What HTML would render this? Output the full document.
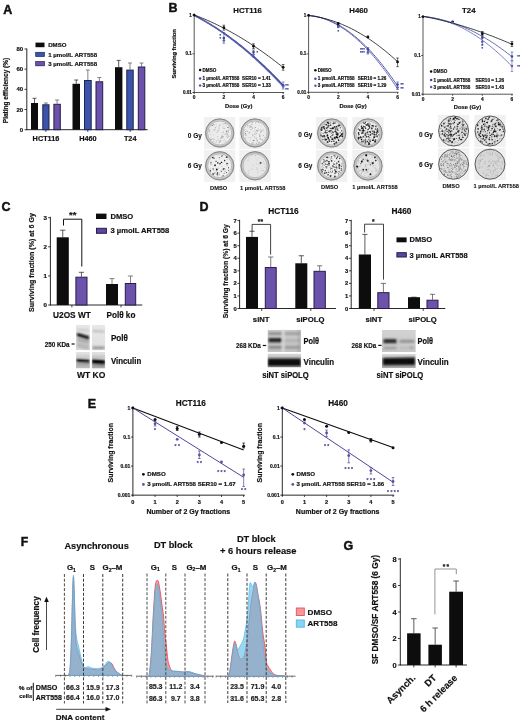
<!DOCTYPE html>
<html><head><meta charset="utf-8"><title>Figure</title>
<style>
html,body{margin:0;padding:0;background:#fff;}
body{width:520px;height:723px;overflow:hidden;}
svg{display:block;font-family:'Liberation Sans', Arial, sans-serif;}
</style></head>
<body>
<svg width="520" height="723" viewBox="0 0 520 723">
<defs><filter id="pblur" x="-10%" y="-10%" width="120%" height="120%"><feGaussianBlur stdDeviation="0.3"/></filter><filter id="blur" x="-20%" y="-60%" width="140%" height="220%"><feGaussianBlur stdDeviation="0.6"/></filter></defs>
<rect width="520" height="723" fill="#fff"/>
<text x="3.30" y="14.20" font-size="12.5" text-anchor="start" font-weight="bold" fill="#111" stroke="#111" stroke-width="0.45">A</text>
<line x1="26.80" y1="48.50" x2="26.80" y2="130.10" stroke="#111" stroke-width="0.9"/>
<line x1="26.40" y1="129.70" x2="147.70" y2="129.70" stroke="#111" stroke-width="0.9"/>
<line x1="24.50" y1="129.70" x2="26.80" y2="129.70" stroke="#111" stroke-width="0.8"/>
<text x="23.20" y="131.80" font-size="6" text-anchor="end" font-weight="bold" fill="#111" stroke="#111" stroke-width="0.18">0</text>
<line x1="24.50" y1="109.52" x2="26.80" y2="109.52" stroke="#111" stroke-width="0.8"/>
<text x="23.20" y="111.62" font-size="6" text-anchor="end" font-weight="bold" fill="#111" stroke="#111" stroke-width="0.18">20</text>
<line x1="24.50" y1="89.34" x2="26.80" y2="89.34" stroke="#111" stroke-width="0.8"/>
<text x="23.20" y="91.44" font-size="6" text-anchor="end" font-weight="bold" fill="#111" stroke="#111" stroke-width="0.18">40</text>
<line x1="24.50" y1="69.16" x2="26.80" y2="69.16" stroke="#111" stroke-width="0.8"/>
<text x="23.20" y="71.26" font-size="6" text-anchor="end" font-weight="bold" fill="#111" stroke="#111" stroke-width="0.18">60</text>
<line x1="24.50" y1="48.98" x2="26.80" y2="48.98" stroke="#111" stroke-width="0.8"/>
<text x="23.20" y="51.08" font-size="6" text-anchor="end" font-weight="bold" fill="#111" stroke="#111" stroke-width="0.18">80</text>
<line x1="45.90" y1="129.70" x2="45.90" y2="131.90" stroke="#111" stroke-width="0.8"/>
<line x1="87.80" y1="129.70" x2="87.80" y2="131.90" stroke="#111" stroke-width="0.8"/>
<line x1="130.20" y1="129.70" x2="130.20" y2="131.90" stroke="#111" stroke-width="0.8"/>
<text x="46.00" y="141.00" font-size="7.3" text-anchor="middle" font-weight="bold" fill="#111" stroke="#111" stroke-width="0.18">HCT116</text>
<text x="87.90" y="141.00" font-size="7.3" text-anchor="middle" font-weight="bold" fill="#111" stroke="#111" stroke-width="0.18">H460</text>
<text x="130.20" y="141.00" font-size="7.3" text-anchor="middle" font-weight="bold" fill="#111" stroke="#111" stroke-width="0.18">T24</text>
<text x="7.80" y="90.50" font-size="6.5" text-anchor="middle" font-weight="bold" fill="#111" stroke="#111" stroke-width="0.18" transform="rotate(-90 7.8 90.5)">Plating efficiency (%)</text>
<rect x="35.50" y="42.60" width="9.00" height="4.60" fill="#0d0d0d"/>
<rect x="35.70" y="52.30" width="8.70" height="4.20" fill="#3b54aa" stroke="#1c2550" stroke-width="0.7"/>
<rect x="35.70" y="61.60" width="8.70" height="4.20" fill="#6b52ab" stroke="#2a1a4c" stroke-width="0.7"/>
<text x="48.20" y="47.40" font-size="6.1" text-anchor="start" font-weight="bold" fill="#111" stroke="#111" stroke-width="0.18">DMSO</text>
<text x="48.20" y="56.60" font-size="6.1" text-anchor="start" font-weight="bold" fill="#111" stroke="#111" stroke-width="0.18">1 µmol/L ART558</text>
<text x="48.20" y="66.10" font-size="6.1" text-anchor="start" font-weight="bold" fill="#111" stroke="#111" stroke-width="0.18">3 µmol/L ART558</text>
<line x1="34.50" y1="103.00" x2="34.50" y2="98.30" stroke="#333" stroke-width="0.8"/>
<line x1="32.50" y1="98.30" x2="36.50" y2="98.30" stroke="#333" stroke-width="0.8"/>
<rect x="31.00" y="103.00" width="7.00" height="26.70" fill="#0d0d0d"/>
<line x1="45.90" y1="104.30" x2="45.90" y2="103.00" stroke="#666" stroke-width="0.8"/>
<line x1="43.90" y1="103.00" x2="47.90" y2="103.00" stroke="#666" stroke-width="0.8"/>
<rect x="42.80" y="104.80" width="6.20" height="24.90" fill="#3b54aa" stroke="#1c2550" stroke-width="1.0"/>
<line x1="57.10" y1="103.80" x2="57.10" y2="100.00" stroke="#666" stroke-width="0.8"/>
<line x1="55.10" y1="100.00" x2="59.10" y2="100.00" stroke="#666" stroke-width="0.8"/>
<rect x="53.90" y="104.30" width="6.40" height="25.40" fill="#6b52ab" stroke="#2a1a4c" stroke-width="1.0"/>
<line x1="76.25" y1="83.80" x2="76.25" y2="80.00" stroke="#333" stroke-width="0.8"/>
<line x1="74.25" y1="80.00" x2="78.25" y2="80.00" stroke="#333" stroke-width="0.8"/>
<rect x="72.50" y="83.80" width="7.50" height="45.90" fill="#0d0d0d"/>
<line x1="87.85" y1="80.00" x2="87.85" y2="70.00" stroke="#666" stroke-width="0.8"/>
<line x1="85.85" y1="70.00" x2="89.85" y2="70.00" stroke="#666" stroke-width="0.8"/>
<rect x="84.50" y="80.50" width="6.70" height="49.20" fill="#3b54aa" stroke="#1c2550" stroke-width="1.0"/>
<line x1="99.35" y1="81.30" x2="99.35" y2="77.50" stroke="#666" stroke-width="0.8"/>
<line x1="97.35" y1="77.50" x2="101.35" y2="77.50" stroke="#666" stroke-width="0.8"/>
<rect x="96.00" y="81.80" width="6.70" height="47.90" fill="#6b52ab" stroke="#2a1a4c" stroke-width="1.0"/>
<line x1="118.70" y1="67.20" x2="118.70" y2="60.40" stroke="#333" stroke-width="0.8"/>
<line x1="116.70" y1="60.40" x2="120.70" y2="60.40" stroke="#333" stroke-width="0.8"/>
<rect x="115.00" y="67.20" width="7.40" height="62.50" fill="#0d0d0d"/>
<line x1="130.00" y1="69.60" x2="130.00" y2="63.00" stroke="#666" stroke-width="0.8"/>
<line x1="128.00" y1="63.00" x2="132.00" y2="63.00" stroke="#666" stroke-width="0.8"/>
<rect x="126.80" y="70.10" width="6.40" height="59.60" fill="#3b54aa" stroke="#1c2550" stroke-width="1.0"/>
<line x1="141.55" y1="66.50" x2="141.55" y2="63.00" stroke="#666" stroke-width="0.8"/>
<line x1="139.55" y1="63.00" x2="143.55" y2="63.00" stroke="#666" stroke-width="0.8"/>
<rect x="138.30" y="67.00" width="6.50" height="62.70" fill="#6b52ab" stroke="#2a1a4c" stroke-width="1.0"/>
<text x="168.50" y="12.30" font-size="12.5" text-anchor="start" font-weight="bold" fill="#111" stroke="#111" stroke-width="0.45">B</text>
<line x1="194.20" y1="13.60" x2="194.20" y2="92.90" stroke="#444" stroke-width="0.9"/>
<line x1="193.80" y1="92.50" x2="284.15" y2="92.50" stroke="#444" stroke-width="0.9"/>
<line x1="192.40" y1="15.10" x2="194.20" y2="15.10" stroke="#111" stroke-width="0.7"/>
<text x="191.90" y="16.70" font-size="4.6" text-anchor="end" font-weight="bold" fill="#111" stroke="#111" stroke-width="0.18">1</text>
<line x1="192.40" y1="53.80" x2="194.20" y2="53.80" stroke="#111" stroke-width="0.7"/>
<text x="191.90" y="55.40" font-size="4.6" text-anchor="end" font-weight="bold" fill="#111" stroke="#111" stroke-width="0.18">0.1</text>
<line x1="192.40" y1="92.50" x2="194.20" y2="92.50" stroke="#111" stroke-width="0.7"/>
<text x="191.90" y="94.10" font-size="4.6" text-anchor="end" font-weight="bold" fill="#111" stroke="#111" stroke-width="0.18">0.01</text>
<line x1="194.20" y1="92.50" x2="194.20" y2="94.10" stroke="#111" stroke-width="0.7"/>
<text x="194.20" y="98.90" font-size="4.8" text-anchor="middle" font-weight="bold" fill="#111" stroke="#111" stroke-width="0.18">0</text>
<line x1="223.85" y1="92.50" x2="223.85" y2="94.10" stroke="#111" stroke-width="0.7"/>
<text x="223.85" y="98.90" font-size="4.8" text-anchor="middle" font-weight="bold" fill="#111" stroke="#111" stroke-width="0.18">2</text>
<line x1="253.50" y1="92.50" x2="253.50" y2="94.10" stroke="#111" stroke-width="0.7"/>
<text x="253.50" y="98.90" font-size="4.8" text-anchor="middle" font-weight="bold" fill="#111" stroke="#111" stroke-width="0.18">4</text>
<line x1="283.15" y1="92.50" x2="283.15" y2="94.10" stroke="#111" stroke-width="0.7"/>
<text x="283.15" y="98.90" font-size="4.8" text-anchor="middle" font-weight="bold" fill="#111" stroke="#111" stroke-width="0.18">6</text>
<text x="238.67" y="107.70" font-size="5.8" text-anchor="middle" font-weight="bold" fill="#111" stroke="#111" stroke-width="0.18">Dose (Gy)</text>
<text x="176.40" y="53.80" font-size="5.8" text-anchor="middle" font-weight="bold" fill="#111" stroke="#111" stroke-width="0.18" transform="rotate(-90 176.39999999999998 53.8)">Surviving fraction</text>
<text x="247.60" y="13.20" font-size="7.8" text-anchor="middle" font-weight="bold" fill="#111" stroke="#111" stroke-width="0.18">HCT116</text>
<polyline points="194.20,15.37 195.68,16.11 197.16,16.87 198.65,17.65 200.13,18.44 201.61,19.25 203.09,20.06 204.58,20.90 206.06,21.74 207.54,22.60 209.02,23.48 210.51,24.37 211.99,25.27 213.47,26.19 214.95,27.12 216.44,28.07 217.92,29.03 219.40,30.00 220.88,30.99 222.37,31.99 223.85,33.01 225.33,34.04 226.81,35.08 228.30,36.14 229.78,37.21 231.26,38.30 232.75,39.40 234.23,40.51 235.71,41.64 237.19,42.79 238.67,43.94 240.16,45.12 241.64,46.30 243.12,47.50 244.60,48.71 246.09,49.94 247.57,51.19 249.05,52.44 250.53,53.71 252.02,55.00 253.50,56.30 254.98,57.61 256.46,58.93 257.95,60.28 259.43,61.63 260.91,63.00 262.39,64.38 263.88,65.78 265.36,67.19 266.84,68.62 268.32,70.06 269.81,71.51 271.29,72.98 272.77,74.46 274.25,75.96 275.74,77.47 277.22,79.00 278.70,80.53 280.19,82.09 281.67,83.65 283.15,85.24" fill="none" stroke="#3e469a" stroke-width="1.3"/>
<polyline points="194.20,15.41 195.68,16.19 197.16,16.98 198.65,17.78 200.13,18.60 201.61,19.43 203.09,20.27 204.58,21.13 206.06,22.00 207.54,22.89 209.02,23.79 210.51,24.71 211.99,25.63 213.47,26.57 214.95,27.53 216.44,28.50 217.92,29.48 219.40,30.48 220.88,31.49 222.37,32.52 223.85,33.55 225.33,34.61 226.81,35.67 228.30,36.75 229.78,37.85 231.26,38.96 232.75,40.08 234.23,41.22 235.71,42.37 237.19,43.53 238.67,44.71 240.16,45.90 241.64,47.10 243.12,48.32 244.60,49.56 246.09,50.80 247.57,52.06 249.05,53.34 250.53,54.63 252.02,55.93 253.50,57.25 254.98,58.58 256.46,59.92 257.95,61.28 259.43,62.65 260.91,64.03 262.39,65.43 263.88,66.85 265.36,68.28 266.84,69.72 268.32,71.17 269.81,72.64 271.29,74.12 272.77,75.62 274.25,77.13 275.74,78.65 277.22,80.19 278.70,81.75 280.19,83.31 281.67,84.89 283.15,86.49" fill="none" stroke="#5a5eb0" stroke-width="1.3"/>
<polyline points="194.20,14.94 195.68,15.50 197.16,16.07 198.65,16.65 200.13,17.25 201.61,17.85 203.09,18.47 204.58,19.09 206.06,19.73 207.54,20.38 209.02,21.03 210.51,21.70 211.99,22.38 213.47,23.07 214.95,23.77 216.44,24.48 217.92,25.20 219.40,25.94 220.88,26.68 222.37,27.43 223.85,28.20 225.33,28.97 226.81,29.75 228.30,30.55 229.78,31.36 231.26,32.17 232.75,33.00 234.23,33.84 235.71,34.69 237.19,35.55 238.67,36.42 240.16,37.30 241.64,38.19 243.12,39.09 244.60,40.01 246.09,40.93 247.57,41.86 249.05,42.81 250.53,43.76 252.02,44.73 253.50,45.71 254.98,46.69 256.46,47.69 257.95,48.70 259.43,49.72 260.91,50.75 262.39,51.79 263.88,52.84 265.36,53.90 266.84,54.97 268.32,56.05 269.81,57.15 271.29,58.25 272.77,59.37 274.25,60.49 275.74,61.63 277.22,62.77 278.70,63.93 280.19,65.10 281.67,66.28 283.15,67.47" fill="none" stroke="#0d0d0d" stroke-width="0.8"/>
<line x1="223.85" y1="25.20" x2="223.85" y2="30.20" stroke="#0d0d0d" stroke-width="0.6"/>
<line x1="222.55" y1="25.20" x2="225.15" y2="25.20" stroke="#0d0d0d" stroke-width="0.6"/>
<line x1="222.55" y1="30.20" x2="225.15" y2="30.20" stroke="#0d0d0d" stroke-width="0.6"/>
<line x1="253.50" y1="43.80" x2="253.50" y2="48.60" stroke="#0d0d0d" stroke-width="0.6"/>
<line x1="252.20" y1="43.80" x2="254.80" y2="43.80" stroke="#0d0d0d" stroke-width="0.6"/>
<line x1="252.20" y1="48.60" x2="254.80" y2="48.60" stroke="#0d0d0d" stroke-width="0.6"/>
<line x1="283.15" y1="64.50" x2="283.15" y2="70.20" stroke="#0d0d0d" stroke-width="0.6"/>
<line x1="281.85" y1="64.50" x2="284.45" y2="64.50" stroke="#0d0d0d" stroke-width="0.6"/>
<line x1="281.85" y1="70.20" x2="284.45" y2="70.20" stroke="#0d0d0d" stroke-width="0.6"/>
<line x1="223.85" y1="32.70" x2="223.85" y2="43.20" stroke="#3e469a" stroke-width="0.6"/>
<line x1="222.55" y1="32.70" x2="225.15" y2="32.70" stroke="#3e469a" stroke-width="0.6"/>
<line x1="222.55" y1="43.20" x2="225.15" y2="43.20" stroke="#3e469a" stroke-width="0.6"/>
<line x1="253.50" y1="50.00" x2="253.50" y2="57.00" stroke="#3e469a" stroke-width="0.6"/>
<line x1="252.20" y1="50.00" x2="254.80" y2="50.00" stroke="#3e469a" stroke-width="0.6"/>
<line x1="252.20" y1="57.00" x2="254.80" y2="57.00" stroke="#3e469a" stroke-width="0.6"/>
<line x1="283.15" y1="82.00" x2="283.15" y2="89.00" stroke="#3e469a" stroke-width="0.6"/>
<line x1="281.85" y1="82.00" x2="284.45" y2="82.00" stroke="#3e469a" stroke-width="0.6"/>
<line x1="281.85" y1="89.00" x2="284.45" y2="89.00" stroke="#3e469a" stroke-width="0.6"/>
<circle cx="194.20" cy="15.10" r="1.30" fill="#0d0d0d"/>
<circle cx="223.85" cy="27.70" r="1.40" fill="#0d0d0d"/>
<circle cx="253.50" cy="46.20" r="1.40" fill="#0d0d0d"/>
<circle cx="283.15" cy="67.30" r="1.40" fill="#0d0d0d"/>
<circle cx="223.85" cy="38.00" r="1.30" fill="#3e469a"/>
<circle cx="223.85" cy="40.50" r="1.30" fill="#5a5eb0"/>
<circle cx="253.50" cy="52.00" r="1.30" fill="#3e469a"/>
<circle cx="253.50" cy="54.50" r="1.30" fill="#5a5eb0"/>
<circle cx="283.15" cy="85.50" r="1.40" fill="#3e469a"/>
<circle cx="283.15" cy="86.50" r="1.30" fill="#5a5eb0"/>
<text x="220.40" y="37.00" font-size="4.2" text-anchor="middle" font-weight="bold" fill="#3e469a" stroke="#3e469a" stroke-width="0.18">*</text>
<text x="220.40" y="40.40" font-size="4.2" text-anchor="middle" font-weight="bold" fill="#3e469a" stroke="#3e469a" stroke-width="0.18">*</text>
<text x="257.40" y="54.40" font-size="4.2" text-anchor="middle" font-weight="bold" fill="#3e469a" stroke="#3e469a" stroke-width="0.18">*</text>
<text x="287.00" y="87.00" font-size="4.2" text-anchor="middle" font-weight="bold" fill="#3e469a" stroke="#3e469a" stroke-width="0.18">**</text>
<text x="287.00" y="90.50" font-size="4.2" text-anchor="middle" font-weight="bold" fill="#3e469a" stroke="#3e469a" stroke-width="0.18">**</text>
<circle cx="200.10" cy="69.90" r="1.25" fill="#0d0d0d"/>
<text x="202.50" y="71.50" font-size="4.6" text-anchor="start" font-weight="bold" fill="#111" stroke="#111" stroke-width="0.18">DMSO</text>
<circle cx="200.10" cy="78.40" r="1.25" fill="#3a48a0"/>
<text x="202.50" y="80.00" font-size="4.6" text-anchor="start" font-weight="bold" fill="#111" stroke="#111" stroke-width="0.18">1 µmol/L ART558</text>
<circle cx="200.10" cy="85.50" r="1.25" fill="#5a58b0"/>
<text x="202.50" y="87.10" font-size="4.6" text-anchor="start" font-weight="bold" fill="#111" stroke="#111" stroke-width="0.18">3 µmol/L ART558</text>
<text x="242.10" y="80.00" font-size="4.6" text-anchor="start" font-weight="bold" fill="#111" stroke="#111" stroke-width="0.18">SER10 = 1.41</text>
<text x="242.10" y="87.10" font-size="4.6" text-anchor="start" font-weight="bold" fill="#111" stroke="#111" stroke-width="0.18">SER10 = 1.33</text>
<line x1="308.60" y1="13.90" x2="308.60" y2="92.70" stroke="#444" stroke-width="0.9"/>
<line x1="308.20" y1="92.30" x2="398.55" y2="92.30" stroke="#444" stroke-width="0.9"/>
<line x1="306.80" y1="15.40" x2="308.60" y2="15.40" stroke="#111" stroke-width="0.7"/>
<text x="306.30" y="17.00" font-size="4.6" text-anchor="end" font-weight="bold" fill="#111" stroke="#111" stroke-width="0.18">1</text>
<line x1="306.80" y1="53.85" x2="308.60" y2="53.85" stroke="#111" stroke-width="0.7"/>
<text x="306.30" y="55.45" font-size="4.6" text-anchor="end" font-weight="bold" fill="#111" stroke="#111" stroke-width="0.18">0.1</text>
<line x1="306.80" y1="92.30" x2="308.60" y2="92.30" stroke="#111" stroke-width="0.7"/>
<text x="306.30" y="93.90" font-size="4.6" text-anchor="end" font-weight="bold" fill="#111" stroke="#111" stroke-width="0.18">0.01</text>
<line x1="308.60" y1="92.30" x2="308.60" y2="93.90" stroke="#111" stroke-width="0.7"/>
<text x="308.60" y="98.70" font-size="4.8" text-anchor="middle" font-weight="bold" fill="#111" stroke="#111" stroke-width="0.18">0</text>
<line x1="338.25" y1="92.30" x2="338.25" y2="93.90" stroke="#111" stroke-width="0.7"/>
<text x="338.25" y="98.70" font-size="4.8" text-anchor="middle" font-weight="bold" fill="#111" stroke="#111" stroke-width="0.18">2</text>
<line x1="367.90" y1="92.30" x2="367.90" y2="93.90" stroke="#111" stroke-width="0.7"/>
<text x="367.90" y="98.70" font-size="4.8" text-anchor="middle" font-weight="bold" fill="#111" stroke="#111" stroke-width="0.18">4</text>
<line x1="397.55" y1="92.30" x2="397.55" y2="93.90" stroke="#111" stroke-width="0.7"/>
<text x="397.55" y="98.70" font-size="4.8" text-anchor="middle" font-weight="bold" fill="#111" stroke="#111" stroke-width="0.18">6</text>
<text x="353.08" y="107.50" font-size="5.8" text-anchor="middle" font-weight="bold" fill="#111" stroke="#111" stroke-width="0.18">Dose (Gy)</text>
<text x="358.60" y="13.20" font-size="7.8" text-anchor="middle" font-weight="bold" fill="#111" stroke="#111" stroke-width="0.18">H460</text>
<polyline points="308.60,15.39 310.08,15.53 311.56,15.70 313.05,15.91 314.53,16.15 316.01,16.43 317.50,16.74 318.98,17.09 320.46,17.47 321.94,17.89 323.43,18.35 324.91,18.84 326.39,19.36 327.87,19.92 329.36,20.52 330.84,21.15 332.32,21.81 333.80,22.52 335.29,23.25 336.77,24.02 338.25,24.83 339.73,25.67 341.22,26.55 342.70,27.46 344.18,28.41 345.66,29.39 347.15,30.41 348.63,31.47 350.11,32.55 351.59,33.68 353.08,34.84 354.56,36.03 356.04,37.26 357.52,38.53 359.00,39.83 360.49,41.16 361.97,42.53 363.45,43.94 364.94,45.38 366.42,46.86 367.90,48.37 369.38,49.92 370.87,51.50 372.35,53.12 373.83,54.77 375.31,56.46 376.80,58.18 378.28,59.94 379.76,61.73 381.24,63.56 382.73,65.43 384.21,67.33 385.69,69.26 387.17,71.23 388.66,73.24 390.14,75.28 391.62,77.35 393.10,79.47 394.59,81.61 396.07,83.79 397.55,86.01" fill="none" stroke="#3e469a" stroke-width="0.9"/>
<polyline points="308.60,15.32 310.08,15.48 311.56,15.68 313.05,15.92 314.53,16.19 316.01,16.50 317.50,16.84 318.98,17.22 320.46,17.64 321.94,18.09 323.43,18.58 324.91,19.10 326.39,19.66 327.87,20.26 329.36,20.89 330.84,21.56 332.32,22.26 333.80,23.00 335.29,23.78 336.77,24.59 338.25,25.44 339.73,26.32 341.22,27.24 342.70,28.20 344.18,29.19 345.66,30.22 347.15,31.28 348.63,32.38 350.11,33.52 351.59,34.69 353.08,35.90 354.56,37.14 356.04,38.42 357.52,39.74 359.00,41.09 360.49,42.48 361.97,43.90 363.45,45.36 364.94,46.86 366.42,48.39 367.90,49.96 369.38,51.56 370.87,53.20 372.35,54.88 373.83,56.59 375.31,58.34 376.80,60.12 378.28,61.94 379.76,63.80 381.24,65.69 382.73,67.62 384.21,69.58 385.69,71.58 387.17,73.62 388.66,75.69 390.14,77.80 391.62,79.94 393.10,82.12 394.59,84.34 396.07,86.59 397.55,88.88" fill="none" stroke="#5a5eb0" stroke-width="0.9"/>
<polyline points="308.60,15.64 310.08,15.81 311.56,16.00 313.05,16.21 314.53,16.44 316.01,16.69 317.50,16.96 318.98,17.25 320.46,17.56 321.94,17.90 323.43,18.25 324.91,18.62 326.39,19.01 327.87,19.42 329.36,19.86 330.84,20.31 332.32,20.78 333.80,21.28 335.29,21.79 336.77,22.33 338.25,22.88 339.73,23.45 341.22,24.05 342.70,24.66 344.18,25.30 345.66,25.96 347.15,26.63 348.63,27.33 350.11,28.04 351.59,28.78 353.08,29.54 354.56,30.31 356.04,31.11 357.52,31.93 359.00,32.77 360.49,33.63 361.97,34.50 363.45,35.40 364.94,36.32 366.42,37.26 367.90,38.22 369.38,39.20 370.87,40.20 372.35,41.22 373.83,42.26 375.31,43.32 376.80,44.40 378.28,45.50 379.76,46.62 381.24,47.77 382.73,48.93 384.21,50.11 385.69,51.31 387.17,52.53 388.66,53.78 390.14,55.04 391.62,56.32 393.10,57.63 394.59,58.95 396.07,60.30 397.55,61.66" fill="none" stroke="#0d0d0d" stroke-width="0.8"/>
<line x1="338.25" y1="22.50" x2="338.25" y2="25.50" stroke="#0d0d0d" stroke-width="0.6"/>
<line x1="336.95" y1="22.50" x2="339.55" y2="22.50" stroke="#0d0d0d" stroke-width="0.6"/>
<line x1="336.95" y1="25.50" x2="339.55" y2="25.50" stroke="#0d0d0d" stroke-width="0.6"/>
<line x1="397.55" y1="58.00" x2="397.55" y2="66.70" stroke="#0d0d0d" stroke-width="0.6"/>
<line x1="396.25" y1="58.00" x2="398.85" y2="58.00" stroke="#0d0d0d" stroke-width="0.6"/>
<line x1="396.25" y1="66.70" x2="398.85" y2="66.70" stroke="#0d0d0d" stroke-width="0.6"/>
<line x1="367.90" y1="47.50" x2="367.90" y2="54.00" stroke="#3e469a" stroke-width="0.6"/>
<line x1="366.60" y1="47.50" x2="369.20" y2="47.50" stroke="#3e469a" stroke-width="0.6"/>
<line x1="366.60" y1="54.00" x2="369.20" y2="54.00" stroke="#3e469a" stroke-width="0.6"/>
<line x1="397.55" y1="82.00" x2="397.55" y2="89.50" stroke="#3e469a" stroke-width="0.6"/>
<line x1="396.25" y1="82.00" x2="398.85" y2="82.00" stroke="#3e469a" stroke-width="0.6"/>
<line x1="396.25" y1="89.50" x2="398.85" y2="89.50" stroke="#3e469a" stroke-width="0.6"/>
<circle cx="308.60" cy="15.40" r="1.30" fill="#0d0d0d"/>
<circle cx="338.25" cy="23.80" r="1.40" fill="#0d0d0d"/>
<circle cx="367.90" cy="36.90" r="1.40" fill="#0d0d0d"/>
<circle cx="397.55" cy="61.90" r="1.40" fill="#0d0d0d"/>
<circle cx="338.25" cy="26.00" r="1.30" fill="#3e469a"/>
<circle cx="338.25" cy="27.00" r="1.30" fill="#5a5eb0"/>
<circle cx="367.90" cy="49.40" r="1.30" fill="#3e469a"/>
<circle cx="367.90" cy="52.30" r="1.30" fill="#5a5eb0"/>
<circle cx="397.55" cy="84.50" r="1.30" fill="#3e469a"/>
<circle cx="397.55" cy="87.50" r="1.30" fill="#5a5eb0"/>
<text x="338.30" y="33.00" font-size="4.2" text-anchor="middle" font-weight="bold" fill="#3e469a" stroke="#3e469a" stroke-width="0.18">*</text>
<text x="362.40" y="50.50" font-size="4.2" text-anchor="middle" font-weight="bold" fill="#3e469a" stroke="#3e469a" stroke-width="0.18">***</text>
<text x="362.40" y="53.50" font-size="4.2" text-anchor="middle" font-weight="bold" fill="#3e469a" stroke="#3e469a" stroke-width="0.18">***</text>
<text x="402.10" y="86.00" font-size="4.2" text-anchor="middle" font-weight="bold" fill="#3e469a" stroke="#3e469a" stroke-width="0.18">**</text>
<text x="402.10" y="89.50" font-size="4.2" text-anchor="middle" font-weight="bold" fill="#3e469a" stroke="#3e469a" stroke-width="0.18">**</text>
<circle cx="315.40" cy="70.20" r="1.25" fill="#0d0d0d"/>
<text x="317.80" y="71.80" font-size="4.6" text-anchor="start" font-weight="bold" fill="#111" stroke="#111" stroke-width="0.18">DMSO</text>
<circle cx="315.40" cy="78.70" r="1.25" fill="#3a48a0"/>
<text x="317.80" y="80.30" font-size="4.6" text-anchor="start" font-weight="bold" fill="#111" stroke="#111" stroke-width="0.18">1 µmol/L ART558</text>
<circle cx="315.40" cy="85.80" r="1.25" fill="#5a58b0"/>
<text x="317.80" y="87.40" font-size="4.6" text-anchor="start" font-weight="bold" fill="#111" stroke="#111" stroke-width="0.18">3 µmol/L ART558</text>
<text x="357.70" y="80.30" font-size="4.6" text-anchor="start" font-weight="bold" fill="#111" stroke="#111" stroke-width="0.18">SER10 = 1.26</text>
<text x="357.70" y="87.40" font-size="4.6" text-anchor="start" font-weight="bold" fill="#111" stroke="#111" stroke-width="0.18">SER10 = 1.29</text>
<line x1="423.00" y1="15.20" x2="423.00" y2="94.60" stroke="#444" stroke-width="0.9"/>
<line x1="422.60" y1="94.20" x2="512.95" y2="94.20" stroke="#444" stroke-width="0.9"/>
<line x1="421.20" y1="16.70" x2="423.00" y2="16.70" stroke="#111" stroke-width="0.7"/>
<text x="420.70" y="18.30" font-size="4.6" text-anchor="end" font-weight="bold" fill="#111" stroke="#111" stroke-width="0.18">1</text>
<line x1="421.20" y1="55.45" x2="423.00" y2="55.45" stroke="#111" stroke-width="0.7"/>
<text x="420.70" y="57.05" font-size="4.6" text-anchor="end" font-weight="bold" fill="#111" stroke="#111" stroke-width="0.18">0.1</text>
<line x1="421.20" y1="94.20" x2="423.00" y2="94.20" stroke="#111" stroke-width="0.7"/>
<text x="420.70" y="95.80" font-size="4.6" text-anchor="end" font-weight="bold" fill="#111" stroke="#111" stroke-width="0.18">0.01</text>
<line x1="423.00" y1="94.20" x2="423.00" y2="95.80" stroke="#111" stroke-width="0.7"/>
<text x="423.00" y="100.60" font-size="4.8" text-anchor="middle" font-weight="bold" fill="#111" stroke="#111" stroke-width="0.18">0</text>
<line x1="452.65" y1="94.20" x2="452.65" y2="95.80" stroke="#111" stroke-width="0.7"/>
<text x="452.65" y="100.60" font-size="4.8" text-anchor="middle" font-weight="bold" fill="#111" stroke="#111" stroke-width="0.18">2</text>
<line x1="482.30" y1="94.20" x2="482.30" y2="95.80" stroke="#111" stroke-width="0.7"/>
<text x="482.30" y="100.60" font-size="4.8" text-anchor="middle" font-weight="bold" fill="#111" stroke="#111" stroke-width="0.18">4</text>
<line x1="511.95" y1="94.20" x2="511.95" y2="95.80" stroke="#111" stroke-width="0.7"/>
<text x="511.95" y="100.60" font-size="4.8" text-anchor="middle" font-weight="bold" fill="#111" stroke="#111" stroke-width="0.18">6</text>
<text x="467.48" y="109.40" font-size="5.8" text-anchor="middle" font-weight="bold" fill="#111" stroke="#111" stroke-width="0.18">Dose (Gy)</text>
<text x="468.80" y="13.20" font-size="7.8" text-anchor="middle" font-weight="bold" fill="#111" stroke="#111" stroke-width="0.18">T24</text>
<polyline points="423.00,16.48 424.48,16.64 425.96,16.82 427.45,17.01 428.93,17.22 430.41,17.45 431.89,17.69 433.38,17.96 434.86,18.23 436.34,18.53 437.82,18.85 439.31,19.18 440.79,19.53 442.27,19.89 443.75,20.28 445.24,20.68 446.72,21.10 448.20,21.53 449.69,21.99 451.17,22.46 452.65,22.94 454.13,23.45 455.62,23.97 457.10,24.51 458.58,25.07 460.06,25.65 461.55,26.24 463.03,26.85 464.51,27.47 465.99,28.12 467.48,28.78 468.96,29.46 470.44,30.16 471.92,30.87 473.40,31.60 474.89,32.35 476.37,33.12 477.85,33.90 479.33,34.70 480.82,35.52 482.30,36.35 483.78,37.21 485.26,38.08 486.75,38.97 488.23,39.87 489.71,40.79 491.19,41.73 492.68,42.69 494.16,43.66 495.64,44.66 497.12,45.67 498.61,46.69 500.09,47.74 501.57,48.80 503.06,49.88 504.54,50.97 506.02,52.09 507.50,53.22 508.99,54.37 510.47,55.53 511.95,56.72" fill="none" stroke="#3e469a" stroke-width="0.8"/>
<polyline points="423.00,16.43 424.48,16.57 425.96,16.73 427.45,16.91 428.93,17.11 430.41,17.34 431.89,17.59 433.38,17.87 434.86,18.16 436.34,18.49 437.82,18.83 439.31,19.20 440.79,19.60 442.27,20.01 443.75,20.45 445.24,20.92 446.72,21.41 448.20,21.92 449.69,22.45 451.17,23.01 452.65,23.59 454.13,24.20 455.62,24.83 457.10,25.48 458.58,26.16 460.06,26.86 461.55,27.59 463.03,28.33 464.51,29.10 465.99,29.90 467.48,30.72 468.96,31.56 470.44,32.43 471.92,33.32 473.40,34.23 474.89,35.17 476.37,36.13 477.85,37.11 479.33,38.12 480.82,39.15 482.30,40.20 483.78,41.28 485.26,42.39 486.75,43.51 488.23,44.66 489.71,45.83 491.19,47.03 492.68,48.25 494.16,49.50 495.64,50.76 497.12,52.05 498.61,53.37 500.09,54.71 501.57,56.07 503.06,57.45 504.54,58.86 506.02,60.30 507.50,61.75 508.99,63.23 510.47,64.74 511.95,66.27" fill="none" stroke="#5a5eb0" stroke-width="0.8"/>
<polyline points="423.00,16.30 424.48,16.59 425.96,16.88 427.45,17.18 428.93,17.48 430.41,17.80 431.89,18.11 433.38,18.43 434.86,18.76 436.34,19.10 437.82,19.44 439.31,19.79 440.79,20.14 442.27,20.50 443.75,20.86 445.24,21.24 446.72,21.61 448.20,22.00 449.69,22.39 451.17,22.78 452.65,23.18 454.13,23.59 455.62,24.01 457.10,24.43 458.58,24.85 460.06,25.29 461.55,25.73 463.03,26.17 464.51,26.62 465.99,27.08 467.48,27.54 468.96,28.01 470.44,28.49 471.92,28.97 473.40,29.46 474.89,29.95 476.37,30.45 477.85,30.96 479.33,31.47 480.82,31.99 482.30,32.52 483.78,33.05 485.26,33.58 486.75,34.13 488.23,34.67 489.71,35.23 491.19,35.79 492.68,36.36 494.16,36.93 495.64,37.51 497.12,38.10 498.61,38.69 500.09,39.29 501.57,39.89 503.06,40.50 504.54,41.12 506.02,41.74 507.50,42.37 508.99,43.01 510.47,43.65 511.95,44.30" fill="none" stroke="#0d0d0d" stroke-width="0.8"/>
<line x1="482.30" y1="31.50" x2="482.30" y2="36.00" stroke="#0d0d0d" stroke-width="0.6"/>
<line x1="481.00" y1="31.50" x2="483.60" y2="31.50" stroke="#0d0d0d" stroke-width="0.6"/>
<line x1="481.00" y1="36.00" x2="483.60" y2="36.00" stroke="#0d0d0d" stroke-width="0.6"/>
<line x1="511.95" y1="41.50" x2="511.95" y2="46.50" stroke="#0d0d0d" stroke-width="0.6"/>
<line x1="510.65" y1="41.50" x2="513.25" y2="41.50" stroke="#0d0d0d" stroke-width="0.6"/>
<line x1="510.65" y1="46.50" x2="513.25" y2="46.50" stroke="#0d0d0d" stroke-width="0.6"/>
<line x1="482.30" y1="35.00" x2="482.30" y2="45.00" stroke="#3e469a" stroke-width="0.6"/>
<line x1="481.00" y1="35.00" x2="483.60" y2="35.00" stroke="#3e469a" stroke-width="0.6"/>
<line x1="481.00" y1="45.00" x2="483.60" y2="45.00" stroke="#3e469a" stroke-width="0.6"/>
<line x1="511.95" y1="52.00" x2="511.95" y2="60.50" stroke="#3e469a" stroke-width="0.6"/>
<line x1="510.65" y1="52.00" x2="513.25" y2="52.00" stroke="#3e469a" stroke-width="0.6"/>
<line x1="510.65" y1="60.50" x2="513.25" y2="60.50" stroke="#3e469a" stroke-width="0.6"/>
<line x1="511.95" y1="61.00" x2="511.95" y2="71.50" stroke="#5a5eb0" stroke-width="0.6"/>
<line x1="510.65" y1="61.00" x2="513.25" y2="61.00" stroke="#5a5eb0" stroke-width="0.6"/>
<line x1="510.65" y1="71.50" x2="513.25" y2="71.50" stroke="#5a5eb0" stroke-width="0.6"/>
<circle cx="423.00" cy="16.70" r="1.30" fill="#0d0d0d"/>
<circle cx="452.65" cy="22.00" r="1.40" fill="#0d0d0d"/>
<circle cx="482.30" cy="33.70" r="1.40" fill="#0d0d0d"/>
<circle cx="511.95" cy="43.90" r="1.40" fill="#0d0d0d"/>
<circle cx="452.65" cy="22.50" r="1.20" fill="#3e469a"/>
<circle cx="452.65" cy="23.00" r="1.20" fill="#5a5eb0"/>
<circle cx="482.30" cy="37.70" r="1.30" fill="#3e469a"/>
<circle cx="482.30" cy="41.70" r="1.30" fill="#5a5eb0"/>
<circle cx="511.95" cy="56.50" r="1.30" fill="#3e469a"/>
<circle cx="511.95" cy="66.00" r="1.30" fill="#5a5eb0"/>
<text x="482.30" y="46.50" font-size="4.2" text-anchor="middle" font-weight="bold" fill="#3e469a" stroke="#3e469a" stroke-width="0.18">*</text>
<text x="482.30" y="50.00" font-size="4.2" text-anchor="middle" font-weight="bold" fill="#3e469a" stroke="#3e469a" stroke-width="0.18">*</text>
<text x="519.00" y="58.00" font-size="4.2" text-anchor="middle" font-weight="bold" fill="#3e469a" stroke="#3e469a" stroke-width="0.18">**</text>
<text x="519.00" y="68.00" font-size="4.2" text-anchor="middle" font-weight="bold" fill="#3e469a" stroke="#3e469a" stroke-width="0.18">**</text>
<circle cx="431.10" cy="71.50" r="1.25" fill="#0d0d0d"/>
<text x="433.50" y="73.10" font-size="4.6" text-anchor="start" font-weight="bold" fill="#111" stroke="#111" stroke-width="0.18">DMSO</text>
<circle cx="431.10" cy="80.00" r="1.25" fill="#3a48a0"/>
<text x="433.50" y="81.60" font-size="4.6" text-anchor="start" font-weight="bold" fill="#111" stroke="#111" stroke-width="0.18">1 µmol/L ART558</text>
<circle cx="431.10" cy="87.10" r="1.25" fill="#5a58b0"/>
<text x="433.50" y="88.70" font-size="4.6" text-anchor="start" font-weight="bold" fill="#111" stroke="#111" stroke-width="0.18">3 µmol/L ART558</text>
<text x="475.40" y="81.60" font-size="4.6" text-anchor="start" font-weight="bold" fill="#111" stroke="#111" stroke-width="0.18">SER10 = 1.26</text>
<text x="475.40" y="88.70" font-size="4.6" text-anchor="start" font-weight="bold" fill="#111" stroke="#111" stroke-width="0.18">SER10 = 1.43</text>
<text x="187.80" y="138.40" font-size="6.6" text-anchor="start" font-weight="bold" fill="#111" stroke="#111" stroke-width="0.1" textLength="14.0" lengthAdjust="spacingAndGlyphs">0 Gy</text>
<text x="187.80" y="168.40" font-size="6.6" text-anchor="start" font-weight="bold" fill="#111" stroke="#111" stroke-width="0.1" textLength="14.0" lengthAdjust="spacingAndGlyphs">6 Gy</text>
<rect x="204.10" y="117.00" width="31.20" height="32.00" fill="#f1f1f1"/>
<g filter="url(#pblur)">
<circle cx="219.70" cy="133.00" r="14.20" fill="#b4b4b4" stroke="#808080" stroke-width="0.9"/>
<circle cx="219.70" cy="133.00" r="12.90" fill="#d4d4d4"/>
<circle cx="219.70" cy="133.00" r="12.00" fill="#ececec" stroke="#929292" stroke-width="0.5"/>
<circle cx="217.75" cy="136.89" r="0.53" fill="#b8b8b8"/>
<circle cx="217.94" cy="130.55" r="0.53" fill="#b8b8b8"/>
<circle cx="213.10" cy="131.49" r="0.40" fill="#b8b8b8"/>
<circle cx="227.15" cy="135.84" r="0.64" fill="#b8b8b8"/>
<circle cx="226.87" cy="134.72" r="0.38" fill="#b8b8b8"/>
<circle cx="222.75" cy="134.43" r="0.38" fill="#b8b8b8"/>
<circle cx="210.64" cy="137.65" r="0.44" fill="#b8b8b8"/>
<circle cx="223.47" cy="136.71" r="0.42" fill="#b8b8b8"/>
<circle cx="212.11" cy="125.17" r="0.50" fill="#b8b8b8"/>
<circle cx="213.46" cy="129.71" r="0.37" fill="#b8b8b8"/>
<circle cx="222.09" cy="132.64" r="0.35" fill="#b8b8b8"/>
<circle cx="223.50" cy="128.32" r="0.42" fill="#b8b8b8"/>
<circle cx="222.07" cy="136.03" r="0.40" fill="#b8b8b8"/>
<circle cx="216.07" cy="142.44" r="0.51" fill="#b8b8b8"/>
<circle cx="223.30" cy="140.75" r="0.36" fill="#b8b8b8"/>
<circle cx="215.31" cy="127.76" r="0.74" fill="#b8b8b8"/>
<circle cx="217.02" cy="132.17" r="0.63" fill="#b8b8b8"/>
<circle cx="224.43" cy="134.86" r="0.42" fill="#b8b8b8"/>
<circle cx="216.60" cy="126.37" r="0.46" fill="#b8b8b8"/>
<circle cx="216.34" cy="140.88" r="0.51" fill="#b8b8b8"/>
<circle cx="213.83" cy="134.78" r="0.51" fill="#b8b8b8"/>
<circle cx="222.28" cy="124.00" r="0.41" fill="#b8b8b8"/>
<circle cx="220.01" cy="141.48" r="0.73" fill="#b8b8b8"/>
<circle cx="209.35" cy="131.35" r="0.80" fill="#b8b8b8"/>
<circle cx="218.93" cy="127.04" r="0.56" fill="#b8b8b8"/>
<circle cx="223.52" cy="132.52" r="0.57" fill="#b8b8b8"/>
<circle cx="211.22" cy="137.80" r="0.39" fill="#b8b8b8"/>
<circle cx="224.22" cy="139.39" r="0.40" fill="#b8b8b8"/>
<circle cx="228.58" cy="135.23" r="0.50" fill="#b8b8b8"/>
<circle cx="220.48" cy="124.56" r="0.47" fill="#b8b8b8"/>
<circle cx="224.15" cy="128.58" r="0.72" fill="#b8b8b8"/>
<circle cx="216.79" cy="124.87" r="0.42" fill="#b8b8b8"/>
<circle cx="213.07" cy="129.36" r="0.36" fill="#b8b8b8"/>
<circle cx="225.53" cy="123.81" r="0.78" fill="#b8b8b8"/>
<circle cx="210.69" cy="134.48" r="0.59" fill="#b8b8b8"/>
<circle cx="228.41" cy="136.49" r="0.42" fill="#b8b8b8"/>
<circle cx="212.98" cy="124.09" r="0.59" fill="#b8b8b8"/>
<circle cx="222.31" cy="127.62" r="0.36" fill="#b8b8b8"/>
<circle cx="212.80" cy="139.02" r="0.59" fill="#b8b8b8"/>
<circle cx="227.23" cy="134.08" r="0.79" fill="#b8b8b8"/>
<circle cx="221.59" cy="136.34" r="0.74" fill="#b8b8b8"/>
<circle cx="228.85" cy="136.55" r="0.66" fill="#b8b8b8"/>
<circle cx="223.53" cy="137.05" r="0.47" fill="#b8b8b8"/>
<circle cx="211.60" cy="139.62" r="0.52" fill="#b8b8b8"/>
<circle cx="226.26" cy="136.64" r="0.43" fill="#b8b8b8"/>
<circle cx="209.68" cy="129.78" r="0.70" fill="#b8b8b8"/>
<circle cx="224.09" cy="123.56" r="0.59" fill="#b8b8b8"/>
<circle cx="218.42" cy="140.10" r="0.70" fill="#b8b8b8"/>
<circle cx="213.05" cy="141.17" r="0.50" fill="#b8b8b8"/>
<circle cx="223.90" cy="131.86" r="0.45" fill="#b8b8b8"/>
<circle cx="222.11" cy="137.82" r="0.72" fill="#b8b8b8"/>
<circle cx="220.52" cy="140.76" r="0.79" fill="#b8b8b8"/>
<circle cx="214.84" cy="129.95" r="0.73" fill="#b8b8b8"/>
<circle cx="226.95" cy="133.19" r="0.71" fill="#b8b8b8"/>
<circle cx="213.96" cy="139.17" r="0.72" fill="#b8b8b8"/>
<circle cx="228.61" cy="130.30" r="0.68" fill="#b8b8b8"/>
<circle cx="210.94" cy="132.14" r="0.45" fill="#b8b8b8"/>
<circle cx="218.54" cy="130.67" r="0.58" fill="#b8b8b8"/>
<circle cx="227.69" cy="127.16" r="0.51" fill="#b8b8b8"/>
<circle cx="226.75" cy="125.90" r="0.36" fill="#b8b8b8"/>
<ellipse cx="225.53" cy="134.03" rx="0.46" ry="0.34" transform="rotate(5 225.53 134.03)" fill="#555"/>
<ellipse cx="219.16" cy="142.30" rx="0.59" ry="0.36" transform="rotate(26 219.16 142.30)" fill="#777"/>
<ellipse cx="226.91" cy="130.98" rx="0.58" ry="0.47" transform="rotate(49 226.91 130.98)" fill="#666"/>
<ellipse cx="229.97" cy="128.71" rx="0.36" ry="0.34" transform="rotate(54 229.97 128.71)" fill="#666"/>
<ellipse cx="226.19" cy="131.11" rx="0.37" ry="0.27" transform="rotate(83 226.19 131.11)" fill="#777"/>
<ellipse cx="220.68" cy="138.24" rx="0.43" ry="0.30" transform="rotate(15 220.68 138.24)" fill="#555"/>
<ellipse cx="221.36" cy="137.78" rx="0.41" ry="0.39" transform="rotate(169 221.36 137.78)" fill="#666"/>
<ellipse cx="212.14" cy="125.53" rx="0.57" ry="0.48" transform="rotate(128 212.14 125.53)" fill="#666"/>
<ellipse cx="223.87" cy="126.46" rx="0.35" ry="0.23" transform="rotate(4 223.87 126.46)" fill="#777"/>
<ellipse cx="213.97" cy="124.79" rx="0.53" ry="0.51" transform="rotate(1 213.97 124.79)" fill="#777"/>
<ellipse cx="227.54" cy="137.62" rx="0.34" ry="0.31" transform="rotate(121 227.54 137.62)" fill="#555"/>
<ellipse cx="228.06" cy="127.68" rx="0.34" ry="0.28" transform="rotate(83 228.06 127.68)" fill="#555"/>
<ellipse cx="219.71" cy="125.26" rx="0.46" ry="0.40" transform="rotate(27 219.71 125.26)" fill="#666"/>
<ellipse cx="224.02" cy="141.96" rx="0.32" ry="0.30" transform="rotate(70 224.02 141.96)" fill="#555"/>
<ellipse cx="214.73" cy="141.71" rx="0.33" ry="0.20" transform="rotate(143 214.73 141.71)" fill="#666"/>
<ellipse cx="226.64" cy="131.75" rx="0.57" ry="0.35" transform="rotate(113 226.64 131.75)" fill="#555"/>
<ellipse cx="210.83" cy="139.33" rx="0.59" ry="0.43" transform="rotate(131 210.83 139.33)" fill="#777"/>
<ellipse cx="218.97" cy="128.44" rx="0.38" ry="0.26" transform="rotate(136 218.97 128.44)" fill="#777"/>
<ellipse cx="222.74" cy="136.12" rx="0.45" ry="0.42" transform="rotate(178 222.74 136.12)" fill="#555"/>
<ellipse cx="228.01" cy="127.34" rx="0.56" ry="0.46" transform="rotate(143 228.01 127.34)" fill="#666"/>
<ellipse cx="225.88" cy="141.09" rx="0.36" ry="0.35" transform="rotate(35 225.88 141.09)" fill="#666"/>
<ellipse cx="228.71" cy="131.88" rx="0.42" ry="0.32" transform="rotate(18 228.71 131.88)" fill="#666"/>
</g>
<rect x="239.40" y="117.00" width="31.20" height="32.00" fill="#f1f1f1"/>
<g filter="url(#pblur)">
<circle cx="255.00" cy="133.00" r="14.20" fill="#b4b4b4" stroke="#808080" stroke-width="0.9"/>
<circle cx="255.00" cy="133.00" r="12.90" fill="#d4d4d4"/>
<circle cx="255.00" cy="133.00" r="12.00" fill="#ececec" stroke="#929292" stroke-width="0.5"/>
<circle cx="251.52" cy="126.55" r="0.51" fill="#b8b8b8"/>
<circle cx="256.43" cy="138.99" r="0.50" fill="#b8b8b8"/>
<circle cx="262.10" cy="139.86" r="0.79" fill="#b8b8b8"/>
<circle cx="263.34" cy="129.67" r="0.50" fill="#b8b8b8"/>
<circle cx="251.24" cy="137.20" r="0.37" fill="#b8b8b8"/>
<circle cx="259.98" cy="138.82" r="0.75" fill="#b8b8b8"/>
<circle cx="254.93" cy="129.56" r="0.45" fill="#b8b8b8"/>
<circle cx="258.39" cy="130.01" r="0.43" fill="#b8b8b8"/>
<circle cx="252.38" cy="128.39" r="0.50" fill="#b8b8b8"/>
<circle cx="251.97" cy="122.25" r="0.39" fill="#b8b8b8"/>
<circle cx="249.02" cy="137.13" r="0.48" fill="#b8b8b8"/>
<circle cx="252.89" cy="135.67" r="0.65" fill="#b8b8b8"/>
<circle cx="250.66" cy="137.86" r="0.46" fill="#b8b8b8"/>
<circle cx="245.92" cy="135.41" r="0.70" fill="#b8b8b8"/>
<circle cx="248.98" cy="138.35" r="0.39" fill="#b8b8b8"/>
<circle cx="251.91" cy="143.53" r="0.72" fill="#b8b8b8"/>
<circle cx="263.15" cy="139.99" r="0.41" fill="#b8b8b8"/>
<circle cx="256.41" cy="143.39" r="0.61" fill="#b8b8b8"/>
<circle cx="260.04" cy="135.94" r="0.53" fill="#b8b8b8"/>
<circle cx="258.96" cy="130.34" r="0.48" fill="#b8b8b8"/>
<circle cx="255.37" cy="122.87" r="0.63" fill="#b8b8b8"/>
<circle cx="260.39" cy="125.54" r="0.39" fill="#b8b8b8"/>
<circle cx="261.73" cy="130.63" r="0.78" fill="#b8b8b8"/>
<circle cx="247.18" cy="131.17" r="0.73" fill="#b8b8b8"/>
<circle cx="248.60" cy="133.22" r="0.42" fill="#b8b8b8"/>
<circle cx="253.18" cy="142.85" r="0.75" fill="#b8b8b8"/>
<circle cx="259.31" cy="142.68" r="0.70" fill="#b8b8b8"/>
<circle cx="254.83" cy="134.44" r="0.62" fill="#b8b8b8"/>
<circle cx="259.85" cy="136.02" r="0.69" fill="#b8b8b8"/>
<circle cx="250.89" cy="129.68" r="0.67" fill="#b8b8b8"/>
<circle cx="254.65" cy="136.89" r="0.57" fill="#b8b8b8"/>
<circle cx="266.14" cy="133.81" r="0.48" fill="#b8b8b8"/>
<circle cx="245.68" cy="138.29" r="0.63" fill="#b8b8b8"/>
<circle cx="253.32" cy="131.39" r="0.42" fill="#b8b8b8"/>
<circle cx="252.27" cy="122.50" r="0.72" fill="#b8b8b8"/>
<circle cx="260.62" cy="131.90" r="0.67" fill="#b8b8b8"/>
<circle cx="259.53" cy="142.82" r="0.58" fill="#b8b8b8"/>
<circle cx="249.36" cy="127.10" r="0.54" fill="#b8b8b8"/>
<circle cx="257.05" cy="140.19" r="0.67" fill="#b8b8b8"/>
<circle cx="252.26" cy="127.86" r="0.58" fill="#b8b8b8"/>
<circle cx="258.70" cy="122.46" r="0.76" fill="#b8b8b8"/>
<circle cx="256.48" cy="133.35" r="0.69" fill="#b8b8b8"/>
<circle cx="243.93" cy="132.61" r="0.61" fill="#b8b8b8"/>
<circle cx="249.47" cy="132.50" r="0.72" fill="#b8b8b8"/>
<circle cx="246.41" cy="135.97" r="0.36" fill="#b8b8b8"/>
<circle cx="249.67" cy="125.65" r="0.66" fill="#b8b8b8"/>
<circle cx="244.88" cy="130.00" r="0.71" fill="#b8b8b8"/>
<circle cx="261.11" cy="131.85" r="0.67" fill="#b8b8b8"/>
<circle cx="256.16" cy="138.24" r="0.78" fill="#b8b8b8"/>
<circle cx="258.34" cy="142.97" r="0.64" fill="#b8b8b8"/>
<circle cx="254.45" cy="128.85" r="0.39" fill="#b8b8b8"/>
<circle cx="266.07" cy="132.26" r="0.37" fill="#b8b8b8"/>
<circle cx="255.70" cy="131.86" r="0.64" fill="#b8b8b8"/>
<circle cx="247.59" cy="125.55" r="0.78" fill="#b8b8b8"/>
<circle cx="252.61" cy="134.11" r="0.52" fill="#b8b8b8"/>
<circle cx="251.49" cy="127.05" r="0.55" fill="#b8b8b8"/>
<circle cx="243.97" cy="132.59" r="0.37" fill="#b8b8b8"/>
<circle cx="247.42" cy="127.58" r="0.36" fill="#b8b8b8"/>
<circle cx="259.63" cy="134.35" r="0.59" fill="#b8b8b8"/>
<circle cx="254.92" cy="133.67" r="0.46" fill="#b8b8b8"/>
<ellipse cx="254.34" cy="140.54" rx="0.39" ry="0.32" transform="rotate(121 254.34 140.54)" fill="#555"/>
<ellipse cx="264.78" cy="137.61" rx="0.44" ry="0.27" transform="rotate(115 264.78 137.61)" fill="#777"/>
<ellipse cx="257.72" cy="130.97" rx="0.42" ry="0.42" transform="rotate(19 257.72 130.97)" fill="#555"/>
<ellipse cx="245.46" cy="131.43" rx="0.34" ry="0.29" transform="rotate(67 245.46 131.43)" fill="#777"/>
<ellipse cx="245.06" cy="134.65" rx="0.34" ry="0.33" transform="rotate(130 245.06 134.65)" fill="#777"/>
<ellipse cx="258.08" cy="128.53" rx="0.33" ry="0.24" transform="rotate(59 258.08 128.53)" fill="#666"/>
<ellipse cx="255.22" cy="127.62" rx="0.56" ry="0.45" transform="rotate(6 255.22 127.62)" fill="#666"/>
<ellipse cx="250.53" cy="126.85" rx="0.58" ry="0.39" transform="rotate(115 250.53 126.85)" fill="#777"/>
<ellipse cx="256.75" cy="130.44" rx="0.52" ry="0.39" transform="rotate(88 256.75 130.44)" fill="#666"/>
<ellipse cx="260.08" cy="129.80" rx="0.34" ry="0.25" transform="rotate(0 260.08 129.80)" fill="#666"/>
<ellipse cx="263.53" cy="135.58" rx="0.40" ry="0.29" transform="rotate(30 263.53 135.58)" fill="#666"/>
<ellipse cx="257.77" cy="141.22" rx="0.36" ry="0.35" transform="rotate(74 257.77 141.22)" fill="#555"/>
<ellipse cx="250.56" cy="140.87" rx="0.32" ry="0.22" transform="rotate(150 250.56 140.87)" fill="#666"/>
<ellipse cx="251.90" cy="124.74" rx="0.58" ry="0.36" transform="rotate(12 251.90 124.74)" fill="#666"/>
<ellipse cx="260.20" cy="138.78" rx="0.32" ry="0.22" transform="rotate(73 260.20 138.78)" fill="#777"/>
<ellipse cx="244.00" cy="133.98" rx="0.34" ry="0.29" transform="rotate(111 244.00 133.98)" fill="#666"/>
<ellipse cx="259.24" cy="136.06" rx="0.36" ry="0.29" transform="rotate(109 259.24 136.06)" fill="#666"/>
<ellipse cx="245.59" cy="133.61" rx="0.54" ry="0.52" transform="rotate(102 245.59 133.61)" fill="#777"/>
<ellipse cx="253.31" cy="140.45" rx="0.58" ry="0.56" transform="rotate(52 253.31 140.45)" fill="#777"/>
<ellipse cx="256.20" cy="121.90" rx="0.31" ry="0.28" transform="rotate(105 256.20 121.90)" fill="#777"/>
</g>
<rect x="204.10" y="149.80" width="31.20" height="32.00" fill="#f1f1f1"/>
<g filter="url(#pblur)">
<circle cx="219.70" cy="165.80" r="14.20" fill="#b4b4b4" stroke="#808080" stroke-width="0.9"/>
<circle cx="219.70" cy="165.80" r="12.90" fill="#d4d4d4"/>
<circle cx="219.70" cy="165.80" r="12.00" fill="#eeeeee" stroke="#929292" stroke-width="0.5"/>
<circle cx="210.44" cy="168.75" r="0.56" fill="#c0c0c0"/>
<circle cx="216.01" cy="161.08" r="0.61" fill="#c0c0c0"/>
<circle cx="229.98" cy="169.07" r="0.35" fill="#c0c0c0"/>
<circle cx="225.06" cy="171.32" r="0.53" fill="#c0c0c0"/>
<circle cx="216.31" cy="170.88" r="0.77" fill="#c0c0c0"/>
<circle cx="218.94" cy="154.76" r="0.72" fill="#c0c0c0"/>
<circle cx="219.12" cy="174.85" r="0.73" fill="#c0c0c0"/>
<circle cx="217.07" cy="173.74" r="0.79" fill="#c0c0c0"/>
<circle cx="216.09" cy="168.62" r="0.46" fill="#c0c0c0"/>
<circle cx="222.39" cy="170.14" r="0.40" fill="#c0c0c0"/>
<circle cx="226.26" cy="161.40" r="0.42" fill="#c0c0c0"/>
<circle cx="221.70" cy="176.27" r="0.59" fill="#c0c0c0"/>
<circle cx="227.21" cy="165.63" r="0.66" fill="#c0c0c0"/>
<circle cx="222.84" cy="169.58" r="0.77" fill="#c0c0c0"/>
<circle cx="225.21" cy="169.33" r="0.67" fill="#c0c0c0"/>
<circle cx="224.30" cy="168.77" r="0.64" fill="#c0c0c0"/>
<circle cx="219.26" cy="174.24" r="0.69" fill="#c0c0c0"/>
<circle cx="227.06" cy="159.49" r="0.56" fill="#c0c0c0"/>
<circle cx="213.55" cy="169.55" r="0.60" fill="#c0c0c0"/>
<circle cx="212.90" cy="164.76" r="0.37" fill="#c0c0c0"/>
<circle cx="218.23" cy="168.17" r="0.70" fill="#c0c0c0"/>
<circle cx="217.80" cy="176.65" r="0.45" fill="#c0c0c0"/>
<circle cx="225.29" cy="171.45" r="0.76" fill="#c0c0c0"/>
<circle cx="212.56" cy="158.23" r="0.64" fill="#c0c0c0"/>
<circle cx="220.94" cy="171.50" r="0.49" fill="#c0c0c0"/>
<circle cx="219.77" cy="172.88" r="0.41" fill="#c0c0c0"/>
<circle cx="209.39" cy="169.45" r="0.46" fill="#c0c0c0"/>
<circle cx="225.78" cy="157.28" r="0.64" fill="#c0c0c0"/>
<circle cx="221.69" cy="166.07" r="0.66" fill="#c0c0c0"/>
<circle cx="217.03" cy="155.54" r="0.40" fill="#c0c0c0"/>
<ellipse cx="226.80" cy="157.16" rx="0.85" ry="0.79" transform="rotate(83 226.80 157.16)" fill="#222"/>
<ellipse cx="217.55" cy="173.02" rx="0.71" ry="0.67" transform="rotate(131 217.55 173.02)" fill="#111"/>
<ellipse cx="226.95" cy="163.70" rx="0.84" ry="0.57" transform="rotate(104 226.95 163.70)" fill="#222"/>
<ellipse cx="224.09" cy="173.58" rx="0.52" ry="0.32" transform="rotate(41 224.09 173.58)" fill="#333"/>
<ellipse cx="216.82" cy="169.52" rx="0.90" ry="0.89" transform="rotate(67 216.82 169.52)" fill="#111"/>
<ellipse cx="219.23" cy="157.76" rx="0.59" ry="0.50" transform="rotate(127 219.23 157.76)" fill="#444"/>
<ellipse cx="215.05" cy="165.31" rx="0.94" ry="0.93" transform="rotate(59 215.05 165.31)" fill="#222"/>
<ellipse cx="223.05" cy="175.82" rx="0.71" ry="0.46" transform="rotate(137 223.05 175.82)" fill="#222"/>
<ellipse cx="213.18" cy="174.06" rx="0.80" ry="0.75" transform="rotate(75 213.18 174.06)" fill="#111"/>
<ellipse cx="217.26" cy="174.73" rx="0.76" ry="0.54" transform="rotate(65 217.26 174.73)" fill="#333"/>
<ellipse cx="210.98" cy="162.31" rx="0.59" ry="0.53" transform="rotate(47 210.98 162.31)" fill="#222"/>
<ellipse cx="210.94" cy="163.95" rx="0.57" ry="0.40" transform="rotate(83 210.94 163.95)" fill="#222"/>
<ellipse cx="228.69" cy="170.22" rx="0.61" ry="0.38" transform="rotate(129 228.69 170.22)" fill="#222"/>
<ellipse cx="220.07" cy="163.72" rx="0.79" ry="0.64" transform="rotate(167 220.07 163.72)" fill="#111"/>
<ellipse cx="214.85" cy="172.99" rx="0.52" ry="0.41" transform="rotate(121 214.85 172.99)" fill="#111"/>
<ellipse cx="216.03" cy="161.41" rx="0.60" ry="0.58" transform="rotate(95 216.03 161.41)" fill="#444"/>
<ellipse cx="227.53" cy="163.45" rx="0.63" ry="0.39" transform="rotate(12 227.53 163.45)" fill="#111"/>
<ellipse cx="213.84" cy="157.99" rx="0.94" ry="0.63" transform="rotate(19 213.84 157.99)" fill="#222"/>
<ellipse cx="221.98" cy="156.00" rx="0.89" ry="0.67" transform="rotate(154 221.98 156.00)" fill="#444"/>
<ellipse cx="221.52" cy="162.38" rx="0.85" ry="0.60" transform="rotate(27 221.52 162.38)" fill="#111"/>
<ellipse cx="210.38" cy="170.93" rx="0.82" ry="0.70" transform="rotate(55 210.38 170.93)" fill="#333"/>
<ellipse cx="221.20" cy="171.16" rx="0.65" ry="0.40" transform="rotate(52 221.20 171.16)" fill="#111"/>
<ellipse cx="228.53" cy="167.81" rx="0.52" ry="0.52" transform="rotate(2 228.53 167.81)" fill="#222"/>
<ellipse cx="223.43" cy="168.95" rx="0.68" ry="0.63" transform="rotate(47 223.43 168.95)" fill="#333"/>
<ellipse cx="224.07" cy="168.70" rx="0.54" ry="0.45" transform="rotate(126 224.07 168.70)" fill="#111"/>
<ellipse cx="226.48" cy="172.59" rx="0.53" ry="0.43" transform="rotate(101 226.48 172.59)" fill="#111"/>
<ellipse cx="212.53" cy="157.41" rx="0.57" ry="0.49" transform="rotate(167 212.53 157.41)" fill="#111"/>
<ellipse cx="213.07" cy="168.91" rx="0.81" ry="0.54" transform="rotate(72 213.07 168.91)" fill="#444"/>
<ellipse cx="224.68" cy="160.55" rx="0.69" ry="0.60" transform="rotate(79 224.68 160.55)" fill="#111"/>
<ellipse cx="217.80" cy="162.84" rx="0.90" ry="0.81" transform="rotate(106 217.80 162.84)" fill="#444"/>
</g>
<rect x="239.40" y="149.80" width="31.20" height="32.00" fill="#f1f1f1"/>
<g filter="url(#pblur)">
<circle cx="255.00" cy="165.80" r="14.20" fill="#b4b4b4" stroke="#808080" stroke-width="0.9"/>
<circle cx="255.00" cy="165.80" r="12.90" fill="#d4d4d4"/>
<circle cx="255.00" cy="165.80" r="12.00" fill="#e6e6e6" stroke="#929292" stroke-width="0.5"/>
<circle cx="264.74" cy="166.92" r="0.65" fill="#c8c8c8"/>
<circle cx="257.90" cy="157.29" r="0.50" fill="#c8c8c8"/>
<circle cx="249.49" cy="170.32" r="0.53" fill="#c8c8c8"/>
<circle cx="261.89" cy="163.17" r="0.56" fill="#c8c8c8"/>
<circle cx="257.09" cy="168.94" r="0.73" fill="#c8c8c8"/>
<circle cx="262.17" cy="170.38" r="0.70" fill="#c8c8c8"/>
<circle cx="248.50" cy="173.20" r="0.64" fill="#c8c8c8"/>
<circle cx="256.74" cy="167.66" r="0.49" fill="#c8c8c8"/>
<circle cx="261.29" cy="173.65" r="0.46" fill="#c8c8c8"/>
<circle cx="248.25" cy="170.92" r="0.53" fill="#c8c8c8"/>
<circle cx="263.63" cy="161.55" r="0.52" fill="#c8c8c8"/>
<circle cx="258.12" cy="171.62" r="0.58" fill="#c8c8c8"/>
<circle cx="257.44" cy="169.75" r="0.43" fill="#c8c8c8"/>
<circle cx="261.33" cy="168.64" r="0.35" fill="#c8c8c8"/>
<circle cx="255.22" cy="155.83" r="0.79" fill="#c8c8c8"/>
<circle cx="257.07" cy="160.01" r="0.56" fill="#c8c8c8"/>
<circle cx="256.22" cy="163.81" r="0.55" fill="#c8c8c8"/>
<circle cx="260.36" cy="162.53" r="0.63" fill="#c8c8c8"/>
<circle cx="248.03" cy="160.21" r="0.72" fill="#c8c8c8"/>
<circle cx="263.10" cy="170.68" r="0.73" fill="#c8c8c8"/>
<circle cx="251.00" cy="156.01" r="0.71" fill="#c8c8c8"/>
<circle cx="248.41" cy="157.80" r="0.53" fill="#c8c8c8"/>
<circle cx="248.64" cy="159.75" r="0.38" fill="#c8c8c8"/>
<circle cx="257.56" cy="173.07" r="0.51" fill="#c8c8c8"/>
<circle cx="252.90" cy="164.89" r="0.51" fill="#c8c8c8"/>
<circle cx="259.10" cy="164.13" r="0.71" fill="#c8c8c8"/>
<circle cx="252.26" cy="169.15" r="0.58" fill="#c8c8c8"/>
<circle cx="264.94" cy="163.95" r="0.65" fill="#c8c8c8"/>
<circle cx="258.72" cy="175.65" r="0.37" fill="#c8c8c8"/>
<circle cx="260.04" cy="158.12" r="0.41" fill="#c8c8c8"/>
<ellipse cx="260.54" cy="162.85" rx="1.00" ry="0.89" transform="rotate(167 260.54 162.85)" fill="#444"/>
</g>
<text x="218.60" y="189.60" font-size="6.1" text-anchor="middle" font-weight="bold" fill="#111" stroke="#111" stroke-width="0.1" textLength="17.2" lengthAdjust="spacingAndGlyphs">DMSO</text>
<text x="240.00" y="189.60" font-size="6.1" text-anchor="start" font-weight="bold" fill="#111" stroke="#111" stroke-width="0.1" textLength="45.5" lengthAdjust="spacingAndGlyphs">1 µmol/L ART558</text>
<text x="298.30" y="137.20" font-size="6.6" text-anchor="start" font-weight="bold" fill="#111" stroke="#111" stroke-width="0.1" textLength="14.0" lengthAdjust="spacingAndGlyphs">0 Gy</text>
<text x="298.30" y="167.50" font-size="6.6" text-anchor="start" font-weight="bold" fill="#111" stroke="#111" stroke-width="0.1" textLength="14.0" lengthAdjust="spacingAndGlyphs">6 Gy</text>
<rect x="316.10" y="117.00" width="31.20" height="32.00" fill="#f1f1f1"/>
<g filter="url(#pblur)">
<circle cx="331.70" cy="133.00" r="14.20" fill="#b4b4b4" stroke="#808080" stroke-width="0.9"/>
<circle cx="331.70" cy="133.00" r="12.90" fill="#d4d4d4"/>
<circle cx="331.70" cy="133.00" r="12.00" fill="#eeeeee" stroke="#929292" stroke-width="0.5"/>
<circle cx="335.64" cy="131.74" r="0.64" fill="#999"/>
<circle cx="338.67" cy="124.26" r="0.55" fill="#999"/>
<circle cx="330.56" cy="122.95" r="0.77" fill="#999"/>
<circle cx="335.54" cy="143.41" r="0.68" fill="#999"/>
<circle cx="320.76" cy="133.56" r="0.46" fill="#999"/>
<circle cx="335.63" cy="130.71" r="0.76" fill="#999"/>
<circle cx="334.28" cy="122.51" r="0.37" fill="#999"/>
<circle cx="337.78" cy="135.65" r="0.59" fill="#999"/>
<circle cx="331.87" cy="128.54" r="0.53" fill="#999"/>
<circle cx="336.38" cy="129.45" r="0.46" fill="#999"/>
<circle cx="333.40" cy="129.11" r="0.38" fill="#999"/>
<circle cx="320.96" cy="132.85" r="0.70" fill="#999"/>
<circle cx="333.19" cy="138.55" r="0.36" fill="#999"/>
<circle cx="325.38" cy="132.76" r="0.60" fill="#999"/>
<circle cx="336.35" cy="134.10" r="0.77" fill="#999"/>
<circle cx="337.44" cy="142.20" r="0.41" fill="#999"/>
<circle cx="327.17" cy="123.42" r="0.44" fill="#999"/>
<circle cx="336.55" cy="141.66" r="0.62" fill="#999"/>
<circle cx="337.82" cy="138.40" r="0.58" fill="#999"/>
<circle cx="327.30" cy="127.92" r="0.64" fill="#999"/>
<circle cx="337.52" cy="127.02" r="0.72" fill="#999"/>
<circle cx="322.48" cy="127.93" r="0.43" fill="#999"/>
<circle cx="340.54" cy="139.82" r="0.49" fill="#999"/>
<circle cx="326.88" cy="127.88" r="0.49" fill="#999"/>
<circle cx="333.40" cy="127.49" r="0.37" fill="#999"/>
<circle cx="340.20" cy="132.49" r="0.75" fill="#999"/>
<circle cx="325.45" cy="140.54" r="0.70" fill="#999"/>
<circle cx="327.30" cy="134.67" r="0.67" fill="#999"/>
<circle cx="331.60" cy="130.54" r="0.35" fill="#999"/>
<circle cx="334.10" cy="127.89" r="0.73" fill="#999"/>
<circle cx="324.58" cy="124.47" r="0.69" fill="#999"/>
<circle cx="323.87" cy="128.31" r="0.56" fill="#999"/>
<circle cx="331.52" cy="133.44" r="0.68" fill="#999"/>
<circle cx="335.93" cy="133.91" r="0.55" fill="#999"/>
<circle cx="326.21" cy="128.09" r="0.45" fill="#999"/>
<circle cx="321.13" cy="132.16" r="0.40" fill="#999"/>
<circle cx="335.31" cy="136.94" r="0.45" fill="#999"/>
<circle cx="330.74" cy="131.63" r="0.37" fill="#999"/>
<circle cx="338.37" cy="133.11" r="0.50" fill="#999"/>
<circle cx="336.95" cy="137.15" r="0.69" fill="#999"/>
<circle cx="333.08" cy="141.44" r="0.66" fill="#999"/>
<circle cx="327.41" cy="130.31" r="0.73" fill="#999"/>
<circle cx="326.21" cy="127.58" r="0.67" fill="#999"/>
<circle cx="338.88" cy="141.12" r="0.47" fill="#999"/>
<circle cx="331.87" cy="137.32" r="0.60" fill="#999"/>
<circle cx="339.07" cy="138.07" r="0.55" fill="#999"/>
<circle cx="338.54" cy="125.83" r="0.70" fill="#999"/>
<circle cx="327.00" cy="136.33" r="0.59" fill="#999"/>
<circle cx="340.67" cy="133.65" r="0.47" fill="#999"/>
<circle cx="325.57" cy="130.47" r="0.64" fill="#999"/>
<ellipse cx="323.09" cy="133.37" rx="0.64" ry="0.44" transform="rotate(64 323.09 133.37)" fill="#333"/>
<ellipse cx="328.60" cy="123.06" rx="0.95" ry="0.80" transform="rotate(47 328.60 123.06)" fill="#222"/>
<ellipse cx="336.69" cy="132.80" rx="0.81" ry="0.74" transform="rotate(53 336.69 132.80)" fill="#222"/>
<ellipse cx="337.49" cy="134.61" rx="1.08" ry="1.03" transform="rotate(156 337.49 134.61)" fill="#222"/>
<ellipse cx="332.31" cy="139.26" rx="0.97" ry="0.92" transform="rotate(171 332.31 139.26)" fill="#111"/>
<ellipse cx="336.25" cy="142.45" rx="0.93" ry="0.89" transform="rotate(50 336.25 142.45)" fill="#333"/>
<ellipse cx="337.86" cy="133.56" rx="0.73" ry="0.58" transform="rotate(112 337.86 133.56)" fill="#111"/>
<ellipse cx="341.73" cy="130.87" rx="0.67" ry="0.58" transform="rotate(67 341.73 130.87)" fill="#111"/>
<ellipse cx="333.39" cy="123.29" rx="1.10" ry="0.84" transform="rotate(126 333.39 123.29)" fill="#444"/>
<ellipse cx="332.20" cy="128.63" rx="0.89" ry="0.73" transform="rotate(179 332.20 128.63)" fill="#222"/>
<ellipse cx="338.54" cy="140.15" rx="0.90" ry="0.72" transform="rotate(41 338.54 140.15)" fill="#111"/>
<ellipse cx="329.11" cy="139.88" rx="0.88" ry="0.82" transform="rotate(170 329.11 139.88)" fill="#444"/>
<ellipse cx="334.97" cy="123.09" rx="0.88" ry="0.63" transform="rotate(107 334.97 123.09)" fill="#444"/>
<ellipse cx="341.82" cy="134.32" rx="1.01" ry="1.01" transform="rotate(163 341.82 134.32)" fill="#222"/>
<ellipse cx="326.39" cy="139.61" rx="0.99" ry="0.74" transform="rotate(156 326.39 139.61)" fill="#111"/>
<ellipse cx="337.67" cy="130.04" rx="1.04" ry="0.64" transform="rotate(24 337.67 130.04)" fill="#333"/>
<ellipse cx="326.26" cy="124.81" rx="0.89" ry="0.72" transform="rotate(8 326.26 124.81)" fill="#222"/>
<ellipse cx="330.71" cy="136.97" rx="0.85" ry="0.58" transform="rotate(86 330.71 136.97)" fill="#222"/>
<ellipse cx="326.84" cy="128.05" rx="1.00" ry="0.63" transform="rotate(121 326.84 128.05)" fill="#333"/>
<ellipse cx="342.28" cy="136.28" rx="0.93" ry="0.85" transform="rotate(72 342.28 136.28)" fill="#222"/>
<ellipse cx="328.51" cy="138.12" rx="0.85" ry="0.66" transform="rotate(74 328.51 138.12)" fill="#111"/>
<ellipse cx="321.00" cy="135.29" rx="1.10" ry="0.79" transform="rotate(85 321.00 135.29)" fill="#444"/>
<ellipse cx="330.22" cy="128.41" rx="0.76" ry="0.61" transform="rotate(52 330.22 128.41)" fill="#333"/>
<ellipse cx="327.66" cy="142.02" rx="1.08" ry="0.93" transform="rotate(49 327.66 142.02)" fill="#333"/>
<ellipse cx="330.88" cy="130.59" rx="0.78" ry="0.57" transform="rotate(10 330.88 130.59)" fill="#111"/>
<ellipse cx="326.90" cy="132.59" rx="0.93" ry="0.71" transform="rotate(139 326.90 132.59)" fill="#444"/>
<ellipse cx="337.50" cy="137.47" rx="0.84" ry="0.70" transform="rotate(1 337.50 137.47)" fill="#111"/>
<ellipse cx="335.77" cy="128.94" rx="1.09" ry="0.68" transform="rotate(155 335.77 128.94)" fill="#444"/>
<ellipse cx="340.38" cy="127.84" rx="0.64" ry="0.58" transform="rotate(157 340.38 127.84)" fill="#444"/>
<ellipse cx="327.58" cy="122.68" rx="1.00" ry="0.66" transform="rotate(54 327.58 122.68)" fill="#111"/>
<ellipse cx="338.36" cy="125.78" rx="0.98" ry="0.60" transform="rotate(25 338.36 125.78)" fill="#222"/>
<ellipse cx="328.52" cy="125.62" rx="1.12" ry="0.97" transform="rotate(25 328.52 125.62)" fill="#444"/>
<ellipse cx="321.71" cy="130.01" rx="0.99" ry="0.96" transform="rotate(35 321.71 130.01)" fill="#333"/>
<ellipse cx="339.51" cy="125.40" rx="0.94" ry="0.86" transform="rotate(77 339.51 125.40)" fill="#333"/>
<ellipse cx="337.80" cy="128.81" rx="0.62" ry="0.42" transform="rotate(110 337.80 128.81)" fill="#111"/>
<ellipse cx="321.75" cy="127.92" rx="0.95" ry="0.78" transform="rotate(127 321.75 127.92)" fill="#111"/>
<ellipse cx="331.35" cy="141.51" rx="0.62" ry="0.52" transform="rotate(107 331.35 141.51)" fill="#111"/>
<ellipse cx="322.74" cy="136.53" rx="1.15" ry="0.96" transform="rotate(17 322.74 136.53)" fill="#444"/>
<ellipse cx="332.04" cy="135.16" rx="0.83" ry="0.50" transform="rotate(121 332.04 135.16)" fill="#222"/>
<ellipse cx="328.04" cy="137.65" rx="0.93" ry="0.84" transform="rotate(164 328.04 137.65)" fill="#111"/>
<ellipse cx="336.36" cy="137.07" rx="1.14" ry="0.90" transform="rotate(109 336.36 137.07)" fill="#111"/>
<ellipse cx="324.47" cy="128.83" rx="1.01" ry="0.61" transform="rotate(22 324.47 128.83)" fill="#111"/>
<ellipse cx="326.12" cy="130.58" rx="0.67" ry="0.46" transform="rotate(4 326.12 130.58)" fill="#444"/>
<ellipse cx="321.13" cy="129.95" rx="0.94" ry="0.67" transform="rotate(47 321.13 129.95)" fill="#444"/>
<ellipse cx="336.66" cy="134.48" rx="0.82" ry="0.79" transform="rotate(21 336.66 134.48)" fill="#222"/>
<ellipse cx="333.12" cy="132.33" rx="0.93" ry="0.67" transform="rotate(117 333.12 132.33)" fill="#444"/>
<ellipse cx="332.77" cy="128.23" rx="1.13" ry="0.98" transform="rotate(8 332.77 128.23)" fill="#111"/>
<ellipse cx="335.74" cy="138.86" rx="0.61" ry="0.37" transform="rotate(99 335.74 138.86)" fill="#111"/>
<ellipse cx="336.17" cy="126.84" rx="1.04" ry="0.75" transform="rotate(124 336.17 126.84)" fill="#222"/>
<ellipse cx="342.56" cy="133.30" rx="0.79" ry="0.67" transform="rotate(120 342.56 133.30)" fill="#444"/>
<ellipse cx="333.94" cy="141.42" rx="0.69" ry="0.60" transform="rotate(92 333.94 141.42)" fill="#111"/>
<ellipse cx="332.27" cy="131.86" rx="0.70" ry="0.69" transform="rotate(122 332.27 131.86)" fill="#444"/>
<ellipse cx="329.28" cy="131.19" rx="1.07" ry="0.81" transform="rotate(145 329.28 131.19)" fill="#333"/>
<ellipse cx="330.73" cy="125.28" rx="0.77" ry="0.56" transform="rotate(155 330.73 125.28)" fill="#333"/>
<ellipse cx="330.07" cy="131.98" rx="0.61" ry="0.54" transform="rotate(153 330.07 131.98)" fill="#222"/>
<ellipse cx="340.70" cy="135.68" rx="0.95" ry="0.89" transform="rotate(96 340.70 135.68)" fill="#222"/>
<ellipse cx="339.52" cy="136.62" rx="0.83" ry="0.62" transform="rotate(115 339.52 136.62)" fill="#222"/>
<ellipse cx="330.72" cy="124.85" rx="0.60" ry="0.43" transform="rotate(68 330.72 124.85)" fill="#333"/>
<ellipse cx="324.22" cy="135.68" rx="0.95" ry="0.73" transform="rotate(73 324.22 135.68)" fill="#111"/>
<ellipse cx="334.66" cy="137.78" rx="1.09" ry="1.01" transform="rotate(70 334.66 137.78)" fill="#222"/>
<ellipse cx="323.33" cy="126.97" rx="1.08" ry="1.07" transform="rotate(88 323.33 126.97)" fill="#444"/>
<ellipse cx="327.92" cy="127.08" rx="0.92" ry="0.75" transform="rotate(97 327.92 127.08)" fill="#444"/>
<ellipse cx="325.16" cy="139.33" rx="1.05" ry="0.71" transform="rotate(79 325.16 139.33)" fill="#222"/>
<ellipse cx="324.56" cy="136.58" rx="1.01" ry="0.85" transform="rotate(52 324.56 136.58)" fill="#444"/>
<ellipse cx="327.42" cy="135.48" rx="0.95" ry="0.92" transform="rotate(98 327.42 135.48)" fill="#111"/>
<ellipse cx="323.08" cy="139.40" rx="0.65" ry="0.51" transform="rotate(16 323.08 139.40)" fill="#333"/>
<ellipse cx="329.56" cy="141.11" rx="0.95" ry="0.66" transform="rotate(133 329.56 141.11)" fill="#333"/>
<ellipse cx="325.15" cy="132.51" rx="0.90" ry="0.66" transform="rotate(48 325.15 132.51)" fill="#222"/>
<ellipse cx="325.42" cy="131.55" rx="0.66" ry="0.45" transform="rotate(92 325.42 131.55)" fill="#333"/>
<ellipse cx="334.39" cy="126.82" rx="0.82" ry="0.68" transform="rotate(63 334.39 126.82)" fill="#222"/>
<ellipse cx="335.43" cy="131.48" rx="1.20" ry="0.74" transform="rotate(27 335.43 131.48)" fill="#333"/>
<ellipse cx="334.35" cy="143.84" rx="0.88" ry="0.66" transform="rotate(39 334.35 143.84)" fill="#111"/>
<ellipse cx="333.85" cy="139.89" rx="0.62" ry="0.45" transform="rotate(132 333.85 139.89)" fill="#333"/>
<ellipse cx="332.96" cy="134.92" rx="0.66" ry="0.55" transform="rotate(144 332.96 134.92)" fill="#222"/>
<ellipse cx="324.04" cy="126.93" rx="0.94" ry="0.75" transform="rotate(71 324.04 126.93)" fill="#333"/>
</g>
<rect x="352.40" y="117.00" width="31.20" height="32.00" fill="#f1f1f1"/>
<g filter="url(#pblur)">
<circle cx="368.00" cy="133.00" r="14.20" fill="#b4b4b4" stroke="#808080" stroke-width="0.9"/>
<circle cx="368.00" cy="133.00" r="12.90" fill="#d4d4d4"/>
<circle cx="368.00" cy="133.00" r="12.00" fill="#eeeeee" stroke="#929292" stroke-width="0.5"/>
<circle cx="358.26" cy="137.89" r="0.75" fill="#999"/>
<circle cx="369.10" cy="122.92" r="0.65" fill="#999"/>
<circle cx="373.50" cy="131.72" r="0.45" fill="#999"/>
<circle cx="372.88" cy="134.18" r="0.56" fill="#999"/>
<circle cx="369.37" cy="135.94" r="0.48" fill="#999"/>
<circle cx="375.94" cy="135.63" r="0.47" fill="#999"/>
<circle cx="373.21" cy="127.49" r="0.44" fill="#999"/>
<circle cx="378.10" cy="129.52" r="0.51" fill="#999"/>
<circle cx="375.97" cy="136.40" r="0.80" fill="#999"/>
<circle cx="364.90" cy="135.33" r="0.80" fill="#999"/>
<circle cx="373.50" cy="131.56" r="0.77" fill="#999"/>
<circle cx="359.76" cy="129.47" r="0.39" fill="#999"/>
<circle cx="376.82" cy="130.52" r="0.48" fill="#999"/>
<circle cx="362.13" cy="137.67" r="0.75" fill="#999"/>
<circle cx="373.91" cy="142.28" r="0.38" fill="#999"/>
<circle cx="373.27" cy="132.73" r="0.68" fill="#999"/>
<circle cx="373.50" cy="134.36" r="0.48" fill="#999"/>
<circle cx="361.64" cy="141.53" r="0.79" fill="#999"/>
<circle cx="376.46" cy="127.22" r="0.36" fill="#999"/>
<circle cx="377.50" cy="135.89" r="0.71" fill="#999"/>
<circle cx="365.74" cy="124.28" r="0.50" fill="#999"/>
<circle cx="370.63" cy="132.76" r="0.41" fill="#999"/>
<circle cx="373.97" cy="140.68" r="0.35" fill="#999"/>
<circle cx="376.55" cy="129.57" r="0.72" fill="#999"/>
<circle cx="365.40" cy="141.21" r="0.59" fill="#999"/>
<circle cx="368.18" cy="129.37" r="0.43" fill="#999"/>
<circle cx="365.46" cy="138.08" r="0.55" fill="#999"/>
<circle cx="373.52" cy="138.46" r="0.76" fill="#999"/>
<circle cx="370.68" cy="137.77" r="0.45" fill="#999"/>
<circle cx="373.74" cy="140.22" r="0.61" fill="#999"/>
<circle cx="377.46" cy="133.75" r="0.41" fill="#999"/>
<circle cx="368.72" cy="135.00" r="0.43" fill="#999"/>
<circle cx="372.73" cy="130.69" r="0.70" fill="#999"/>
<circle cx="377.54" cy="128.80" r="0.67" fill="#999"/>
<circle cx="371.20" cy="130.30" r="0.44" fill="#999"/>
<circle cx="364.70" cy="134.14" r="0.39" fill="#999"/>
<circle cx="377.27" cy="128.55" r="0.39" fill="#999"/>
<circle cx="362.79" cy="127.56" r="0.62" fill="#999"/>
<circle cx="362.57" cy="141.59" r="0.57" fill="#999"/>
<circle cx="359.21" cy="134.25" r="0.47" fill="#999"/>
<circle cx="371.29" cy="137.12" r="0.44" fill="#999"/>
<circle cx="376.87" cy="136.30" r="0.63" fill="#999"/>
<circle cx="363.98" cy="131.60" r="0.67" fill="#999"/>
<circle cx="371.98" cy="128.80" r="0.72" fill="#999"/>
<circle cx="364.24" cy="135.33" r="0.61" fill="#999"/>
<circle cx="366.64" cy="143.17" r="0.44" fill="#999"/>
<circle cx="365.68" cy="136.96" r="0.38" fill="#999"/>
<circle cx="361.69" cy="133.36" r="0.68" fill="#999"/>
<circle cx="371.11" cy="130.84" r="0.53" fill="#999"/>
<circle cx="370.65" cy="132.64" r="0.67" fill="#999"/>
<ellipse cx="362.07" cy="128.18" rx="1.14" ry="1.08" transform="rotate(147 362.07 128.18)" fill="#222"/>
<ellipse cx="366.34" cy="124.90" rx="0.96" ry="0.65" transform="rotate(40 366.34 124.90)" fill="#222"/>
<ellipse cx="361.55" cy="139.63" rx="0.91" ry="0.73" transform="rotate(25 361.55 139.63)" fill="#111"/>
<ellipse cx="365.47" cy="133.69" rx="1.17" ry="0.74" transform="rotate(119 365.47 133.69)" fill="#444"/>
<ellipse cx="374.18" cy="137.08" rx="1.08" ry="0.92" transform="rotate(166 374.18 137.08)" fill="#111"/>
<ellipse cx="376.53" cy="132.87" rx="1.06" ry="0.64" transform="rotate(36 376.53 132.87)" fill="#333"/>
<ellipse cx="375.62" cy="139.93" rx="0.81" ry="0.72" transform="rotate(8 375.62 139.93)" fill="#222"/>
<ellipse cx="377.42" cy="129.02" rx="0.66" ry="0.47" transform="rotate(89 377.42 129.02)" fill="#111"/>
<ellipse cx="368.61" cy="142.83" rx="0.97" ry="0.66" transform="rotate(13 368.61 142.83)" fill="#111"/>
<ellipse cx="361.40" cy="126.35" rx="0.84" ry="0.58" transform="rotate(112 361.40 126.35)" fill="#111"/>
<ellipse cx="365.01" cy="143.65" rx="0.74" ry="0.46" transform="rotate(11 365.01 143.65)" fill="#222"/>
<ellipse cx="363.24" cy="129.07" rx="0.95" ry="0.63" transform="rotate(80 363.24 129.07)" fill="#222"/>
<ellipse cx="363.16" cy="141.51" rx="1.12" ry="0.67" transform="rotate(77 363.16 141.51)" fill="#444"/>
<ellipse cx="358.34" cy="129.05" rx="0.75" ry="0.58" transform="rotate(17 358.34 129.05)" fill="#444"/>
<ellipse cx="365.82" cy="135.14" rx="0.83" ry="0.58" transform="rotate(105 365.82 135.14)" fill="#222"/>
<ellipse cx="368.23" cy="125.30" rx="1.13" ry="0.81" transform="rotate(5 368.23 125.30)" fill="#444"/>
<ellipse cx="365.65" cy="128.19" rx="0.75" ry="0.68" transform="rotate(43 365.65 128.19)" fill="#222"/>
<ellipse cx="365.55" cy="122.54" rx="0.71" ry="0.53" transform="rotate(101 365.55 122.54)" fill="#333"/>
<ellipse cx="374.66" cy="131.21" rx="0.67" ry="0.55" transform="rotate(85 374.66 131.21)" fill="#444"/>
<ellipse cx="369.14" cy="137.94" rx="0.64" ry="0.49" transform="rotate(108 369.14 137.94)" fill="#111"/>
<ellipse cx="366.57" cy="136.80" rx="0.81" ry="0.75" transform="rotate(99 366.57 136.80)" fill="#222"/>
<ellipse cx="367.81" cy="129.65" rx="0.77" ry="0.52" transform="rotate(111 367.81 129.65)" fill="#222"/>
<ellipse cx="363.38" cy="136.77" rx="1.00" ry="0.61" transform="rotate(39 363.38 136.77)" fill="#333"/>
<ellipse cx="378.10" cy="132.06" rx="0.68" ry="0.47" transform="rotate(69 378.10 132.06)" fill="#222"/>
<ellipse cx="367.79" cy="124.03" rx="1.07" ry="0.88" transform="rotate(119 367.79 124.03)" fill="#444"/>
<ellipse cx="358.71" cy="137.92" rx="1.08" ry="1.01" transform="rotate(94 358.71 137.92)" fill="#222"/>
<ellipse cx="362.04" cy="133.04" rx="1.03" ry="0.77" transform="rotate(161 362.04 133.04)" fill="#444"/>
<ellipse cx="365.64" cy="139.87" rx="0.72" ry="0.71" transform="rotate(129 365.64 139.87)" fill="#444"/>
<ellipse cx="365.52" cy="142.04" rx="1.12" ry="0.76" transform="rotate(180 365.52 142.04)" fill="#222"/>
<ellipse cx="374.34" cy="134.62" rx="0.96" ry="0.96" transform="rotate(150 374.34 134.62)" fill="#444"/>
<ellipse cx="362.91" cy="132.84" rx="0.92" ry="0.92" transform="rotate(155 362.91 132.84)" fill="#444"/>
<ellipse cx="373.66" cy="140.13" rx="0.68" ry="0.54" transform="rotate(173 373.66 140.13)" fill="#111"/>
<ellipse cx="375.88" cy="126.38" rx="0.93" ry="0.75" transform="rotate(98 375.88 126.38)" fill="#333"/>
<ellipse cx="370.29" cy="132.05" rx="1.03" ry="0.63" transform="rotate(79 370.29 132.05)" fill="#222"/>
<ellipse cx="374.43" cy="132.34" rx="1.03" ry="0.62" transform="rotate(59 374.43 132.34)" fill="#222"/>
<ellipse cx="372.61" cy="140.22" rx="1.00" ry="0.73" transform="rotate(17 372.61 140.22)" fill="#111"/>
<ellipse cx="367.39" cy="141.38" rx="0.82" ry="0.67" transform="rotate(49 367.39 141.38)" fill="#333"/>
<ellipse cx="358.68" cy="139.11" rx="0.79" ry="0.49" transform="rotate(73 358.68 139.11)" fill="#222"/>
<ellipse cx="358.81" cy="134.58" rx="1.03" ry="0.67" transform="rotate(91 358.81 134.58)" fill="#333"/>
<ellipse cx="360.68" cy="137.31" rx="1.15" ry="0.87" transform="rotate(70 360.68 137.31)" fill="#222"/>
<ellipse cx="368.67" cy="128.95" rx="0.82" ry="0.55" transform="rotate(105 368.67 128.95)" fill="#333"/>
<ellipse cx="363.45" cy="126.60" rx="1.02" ry="0.62" transform="rotate(63 363.45 126.60)" fill="#444"/>
<ellipse cx="372.20" cy="125.76" rx="0.84" ry="0.84" transform="rotate(46 372.20 125.76)" fill="#111"/>
<ellipse cx="377.88" cy="130.88" rx="0.76" ry="0.55" transform="rotate(173 377.88 130.88)" fill="#222"/>
<ellipse cx="368.28" cy="139.91" rx="0.62" ry="0.38" transform="rotate(110 368.28 139.91)" fill="#222"/>
<ellipse cx="370.06" cy="124.07" rx="0.78" ry="0.53" transform="rotate(10 370.06 124.07)" fill="#444"/>
<ellipse cx="370.42" cy="134.92" rx="0.98" ry="0.80" transform="rotate(144 370.42 134.92)" fill="#222"/>
<ellipse cx="371.87" cy="128.27" rx="0.94" ry="0.88" transform="rotate(111 371.87 128.27)" fill="#333"/>
<ellipse cx="359.86" cy="130.10" rx="0.95" ry="0.82" transform="rotate(28 359.86 130.10)" fill="#111"/>
<ellipse cx="369.25" cy="126.19" rx="1.07" ry="1.00" transform="rotate(10 369.25 126.19)" fill="#333"/>
<ellipse cx="375.09" cy="141.60" rx="0.95" ry="0.90" transform="rotate(62 375.09 141.60)" fill="#111"/>
<ellipse cx="361.94" cy="141.81" rx="0.62" ry="0.54" transform="rotate(53 361.94 141.81)" fill="#333"/>
<ellipse cx="358.55" cy="132.88" rx="0.81" ry="0.74" transform="rotate(106 358.55 132.88)" fill="#111"/>
<ellipse cx="370.11" cy="141.37" rx="0.84" ry="0.73" transform="rotate(71 370.11 141.37)" fill="#222"/>
<ellipse cx="375.35" cy="129.00" rx="0.81" ry="0.66" transform="rotate(113 375.35 129.00)" fill="#444"/>
<ellipse cx="367.38" cy="132.41" rx="1.01" ry="0.99" transform="rotate(130 367.38 132.41)" fill="#444"/>
<ellipse cx="372.39" cy="133.70" rx="1.02" ry="0.63" transform="rotate(172 372.39 133.70)" fill="#444"/>
<ellipse cx="369.10" cy="143.93" rx="1.16" ry="0.93" transform="rotate(125 369.10 143.93)" fill="#222"/>
<ellipse cx="369.29" cy="131.53" rx="0.63" ry="0.57" transform="rotate(44 369.29 131.53)" fill="#333"/>
<ellipse cx="363.13" cy="130.66" rx="1.18" ry="0.97" transform="rotate(139 363.13 130.66)" fill="#222"/>
<ellipse cx="377.36" cy="131.36" rx="1.18" ry="0.83" transform="rotate(91 377.36 131.36)" fill="#222"/>
<ellipse cx="364.75" cy="130.47" rx="0.66" ry="0.48" transform="rotate(35 364.75 130.47)" fill="#333"/>
<ellipse cx="377.07" cy="136.43" rx="1.02" ry="0.67" transform="rotate(60 377.07 136.43)" fill="#444"/>
<ellipse cx="361.05" cy="130.86" rx="0.60" ry="0.53" transform="rotate(34 361.05 130.86)" fill="#444"/>
<ellipse cx="369.68" cy="127.89" rx="0.81" ry="0.79" transform="rotate(34 369.68 127.89)" fill="#333"/>
<ellipse cx="376.09" cy="134.45" rx="0.69" ry="0.65" transform="rotate(85 376.09 134.45)" fill="#222"/>
<ellipse cx="364.09" cy="140.04" rx="0.67" ry="0.57" transform="rotate(43 364.09 140.04)" fill="#444"/>
<ellipse cx="368.10" cy="134.41" rx="0.69" ry="0.60" transform="rotate(103 368.10 134.41)" fill="#444"/>
<ellipse cx="378.82" cy="134.77" rx="0.67" ry="0.62" transform="rotate(3 378.82 134.77)" fill="#333"/>
<ellipse cx="373.65" cy="126.01" rx="0.72" ry="0.54" transform="rotate(71 373.65 126.01)" fill="#111"/>
<ellipse cx="372.75" cy="131.47" rx="0.67" ry="0.48" transform="rotate(114 372.75 131.47)" fill="#333"/>
<ellipse cx="369.95" cy="139.96" rx="0.70" ry="0.69" transform="rotate(119 369.95 139.96)" fill="#444"/>
<ellipse cx="364.81" cy="126.93" rx="0.77" ry="0.64" transform="rotate(11 364.81 126.93)" fill="#111"/>
<ellipse cx="363.90" cy="123.13" rx="1.20" ry="0.72" transform="rotate(21 363.90 123.13)" fill="#444"/>
<ellipse cx="368.34" cy="136.52" rx="0.80" ry="0.72" transform="rotate(27 368.34 136.52)" fill="#333"/>
</g>
<rect x="316.10" y="150.00" width="31.20" height="32.00" fill="#f1f1f1"/>
<g filter="url(#pblur)">
<circle cx="331.70" cy="166.00" r="14.20" fill="#b4b4b4" stroke="#808080" stroke-width="0.9"/>
<circle cx="331.70" cy="166.00" r="12.90" fill="#d4d4d4"/>
<circle cx="331.70" cy="166.00" r="12.00" fill="#eeeeee" stroke="#929292" stroke-width="0.5"/>
<circle cx="324.99" cy="157.34" r="0.68" fill="#aaa"/>
<circle cx="321.81" cy="166.73" r="0.66" fill="#aaa"/>
<circle cx="328.77" cy="172.04" r="0.42" fill="#aaa"/>
<circle cx="336.74" cy="169.24" r="0.61" fill="#aaa"/>
<circle cx="324.45" cy="159.74" r="0.60" fill="#aaa"/>
<circle cx="328.87" cy="157.40" r="0.77" fill="#aaa"/>
<circle cx="340.24" cy="170.57" r="0.51" fill="#aaa"/>
<circle cx="338.65" cy="167.11" r="0.46" fill="#aaa"/>
<circle cx="335.86" cy="171.37" r="0.55" fill="#aaa"/>
<circle cx="339.59" cy="164.08" r="0.47" fill="#aaa"/>
<circle cx="339.03" cy="160.36" r="0.45" fill="#aaa"/>
<circle cx="339.31" cy="171.69" r="0.79" fill="#aaa"/>
<circle cx="328.44" cy="174.17" r="0.44" fill="#aaa"/>
<circle cx="325.16" cy="172.19" r="0.69" fill="#aaa"/>
<circle cx="328.37" cy="170.22" r="0.45" fill="#aaa"/>
<circle cx="338.73" cy="174.12" r="0.73" fill="#aaa"/>
<circle cx="334.66" cy="161.20" r="0.64" fill="#aaa"/>
<circle cx="335.13" cy="167.30" r="0.43" fill="#aaa"/>
<circle cx="335.20" cy="155.84" r="0.65" fill="#aaa"/>
<circle cx="338.81" cy="165.99" r="0.67" fill="#aaa"/>
<circle cx="336.65" cy="167.63" r="0.45" fill="#aaa"/>
<circle cx="323.23" cy="170.45" r="0.56" fill="#aaa"/>
<circle cx="340.39" cy="165.76" r="0.59" fill="#aaa"/>
<circle cx="328.74" cy="162.99" r="0.66" fill="#aaa"/>
<circle cx="332.29" cy="170.12" r="0.68" fill="#aaa"/>
<circle cx="327.07" cy="160.63" r="0.76" fill="#aaa"/>
<circle cx="341.94" cy="164.64" r="0.61" fill="#aaa"/>
<circle cx="326.51" cy="166.68" r="0.73" fill="#aaa"/>
<circle cx="330.31" cy="167.44" r="0.66" fill="#aaa"/>
<circle cx="323.85" cy="159.45" r="0.71" fill="#aaa"/>
<circle cx="327.47" cy="165.70" r="0.41" fill="#aaa"/>
<circle cx="334.07" cy="167.15" r="0.58" fill="#aaa"/>
<circle cx="329.12" cy="155.75" r="0.58" fill="#aaa"/>
<circle cx="332.67" cy="166.40" r="0.73" fill="#aaa"/>
<circle cx="336.22" cy="164.72" r="0.78" fill="#aaa"/>
<circle cx="330.61" cy="159.19" r="0.63" fill="#aaa"/>
<circle cx="341.74" cy="166.26" r="0.78" fill="#aaa"/>
<circle cx="327.88" cy="158.48" r="0.58" fill="#aaa"/>
<circle cx="323.61" cy="167.61" r="0.56" fill="#aaa"/>
<circle cx="324.41" cy="165.23" r="0.66" fill="#aaa"/>
<circle cx="323.05" cy="164.08" r="0.59" fill="#aaa"/>
<circle cx="335.71" cy="171.85" r="0.79" fill="#aaa"/>
<circle cx="329.23" cy="163.98" r="0.44" fill="#aaa"/>
<circle cx="335.19" cy="157.14" r="0.56" fill="#aaa"/>
<circle cx="327.24" cy="173.92" r="0.39" fill="#aaa"/>
<circle cx="325.03" cy="163.11" r="0.52" fill="#aaa"/>
<circle cx="325.54" cy="172.67" r="0.63" fill="#aaa"/>
<circle cx="338.50" cy="173.89" r="0.53" fill="#aaa"/>
<circle cx="322.95" cy="164.31" r="0.37" fill="#aaa"/>
<circle cx="334.75" cy="161.69" r="0.37" fill="#aaa"/>
<ellipse cx="326.57" cy="172.67" rx="0.85" ry="0.63" transform="rotate(127 326.57 172.67)" fill="#444"/>
<ellipse cx="322.16" cy="171.78" rx="0.96" ry="0.66" transform="rotate(117 322.16 171.78)" fill="#444"/>
<ellipse cx="339.36" cy="168.09" rx="0.89" ry="0.61" transform="rotate(27 339.36 168.09)" fill="#111"/>
<ellipse cx="331.88" cy="158.42" rx="0.51" ry="0.44" transform="rotate(172 331.88 158.42)" fill="#444"/>
<ellipse cx="323.57" cy="159.75" rx="0.53" ry="0.50" transform="rotate(96 323.57 159.75)" fill="#555"/>
<ellipse cx="327.04" cy="157.31" rx="0.96" ry="0.73" transform="rotate(7 327.04 157.31)" fill="#222"/>
<ellipse cx="330.50" cy="168.95" rx="0.63" ry="0.44" transform="rotate(61 330.50 168.95)" fill="#444"/>
<ellipse cx="339.00" cy="171.44" rx="0.60" ry="0.42" transform="rotate(164 339.00 171.44)" fill="#444"/>
<ellipse cx="322.81" cy="169.42" rx="0.94" ry="0.67" transform="rotate(55 322.81 169.42)" fill="#444"/>
<ellipse cx="331.61" cy="160.94" rx="0.90" ry="0.89" transform="rotate(68 331.61 160.94)" fill="#444"/>
<ellipse cx="334.86" cy="169.49" rx="0.57" ry="0.56" transform="rotate(72 334.86 169.49)" fill="#333"/>
<ellipse cx="330.67" cy="171.29" rx="0.50" ry="0.32" transform="rotate(41 330.67 171.29)" fill="#222"/>
<ellipse cx="339.60" cy="158.52" rx="0.81" ry="0.59" transform="rotate(54 339.60 158.52)" fill="#444"/>
<ellipse cx="334.87" cy="176.51" rx="0.94" ry="0.78" transform="rotate(92 334.87 176.51)" fill="#222"/>
<ellipse cx="336.77" cy="163.25" rx="0.89" ry="0.55" transform="rotate(46 336.77 163.25)" fill="#444"/>
<ellipse cx="331.07" cy="172.32" rx="0.57" ry="0.44" transform="rotate(175 331.07 172.32)" fill="#333"/>
<ellipse cx="341.46" cy="170.36" rx="0.56" ry="0.34" transform="rotate(34 341.46 170.36)" fill="#111"/>
<ellipse cx="331.80" cy="168.38" rx="0.58" ry="0.56" transform="rotate(24 331.80 168.38)" fill="#333"/>
<ellipse cx="336.78" cy="167.86" rx="0.73" ry="0.66" transform="rotate(23 336.78 167.86)" fill="#444"/>
<ellipse cx="336.57" cy="158.43" rx="0.82" ry="0.63" transform="rotate(85 336.57 158.43)" fill="#444"/>
<ellipse cx="331.15" cy="175.73" rx="0.52" ry="0.51" transform="rotate(51 331.15 175.73)" fill="#222"/>
<ellipse cx="328.96" cy="163.76" rx="0.84" ry="0.77" transform="rotate(34 328.96 163.76)" fill="#111"/>
<ellipse cx="334.70" cy="156.11" rx="0.62" ry="0.49" transform="rotate(178 334.70 156.11)" fill="#444"/>
<ellipse cx="338.43" cy="173.49" rx="0.51" ry="0.33" transform="rotate(16 338.43 173.49)" fill="#333"/>
<ellipse cx="327.67" cy="164.47" rx="0.56" ry="0.53" transform="rotate(34 327.67 164.47)" fill="#444"/>
<ellipse cx="340.20" cy="172.83" rx="0.50" ry="0.41" transform="rotate(175 340.20 172.83)" fill="#222"/>
<ellipse cx="331.47" cy="156.80" rx="0.82" ry="0.67" transform="rotate(128 331.47 156.80)" fill="#555"/>
<ellipse cx="324.99" cy="161.14" rx="0.76" ry="0.76" transform="rotate(19 324.99 161.14)" fill="#444"/>
<ellipse cx="325.70" cy="166.91" rx="0.61" ry="0.45" transform="rotate(18 325.70 166.91)" fill="#222"/>
<ellipse cx="334.02" cy="155.51" rx="0.59" ry="0.42" transform="rotate(68 334.02 155.51)" fill="#333"/>
<ellipse cx="322.95" cy="165.47" rx="0.52" ry="0.33" transform="rotate(12 322.95 165.47)" fill="#555"/>
<ellipse cx="326.88" cy="160.43" rx="0.78" ry="0.59" transform="rotate(68 326.88 160.43)" fill="#333"/>
<ellipse cx="335.00" cy="170.53" rx="0.84" ry="0.51" transform="rotate(139 335.00 170.53)" fill="#444"/>
<ellipse cx="332.46" cy="171.77" rx="0.67" ry="0.47" transform="rotate(68 332.46 171.77)" fill="#444"/>
<ellipse cx="329.41" cy="161.76" rx="0.66" ry="0.50" transform="rotate(98 329.41 161.76)" fill="#444"/>
<ellipse cx="321.46" cy="170.02" rx="0.69" ry="0.69" transform="rotate(104 321.46 170.02)" fill="#444"/>
<ellipse cx="339.31" cy="164.86" rx="0.95" ry="0.87" transform="rotate(61 339.31 164.86)" fill="#111"/>
<ellipse cx="324.65" cy="173.20" rx="0.96" ry="0.81" transform="rotate(177 324.65 173.20)" fill="#333"/>
<ellipse cx="334.95" cy="173.36" rx="0.69" ry="0.58" transform="rotate(50 334.95 173.36)" fill="#222"/>
<ellipse cx="337.05" cy="172.18" rx="0.54" ry="0.47" transform="rotate(8 337.05 172.18)" fill="#555"/>
<ellipse cx="342.03" cy="163.16" rx="0.52" ry="0.51" transform="rotate(83 342.03 163.16)" fill="#555"/>
<ellipse cx="328.35" cy="161.74" rx="0.72" ry="0.63" transform="rotate(116 328.35 161.74)" fill="#333"/>
<ellipse cx="341.62" cy="166.66" rx="0.50" ry="0.49" transform="rotate(130 341.62 166.66)" fill="#444"/>
<ellipse cx="323.77" cy="162.10" rx="0.77" ry="0.57" transform="rotate(60 323.77 162.10)" fill="#444"/>
<ellipse cx="338.55" cy="161.63" rx="0.90" ry="0.83" transform="rotate(90 338.55 161.63)" fill="#444"/>
<ellipse cx="334.02" cy="167.03" rx="0.70" ry="0.62" transform="rotate(68 334.02 167.03)" fill="#555"/>
<ellipse cx="339.35" cy="165.96" rx="0.84" ry="0.71" transform="rotate(18 339.35 165.96)" fill="#333"/>
<ellipse cx="328.02" cy="174.83" rx="0.77" ry="0.66" transform="rotate(156 328.02 174.83)" fill="#222"/>
<ellipse cx="328.78" cy="172.43" rx="0.63" ry="0.57" transform="rotate(89 328.78 172.43)" fill="#444"/>
<ellipse cx="332.96" cy="165.97" rx="0.74" ry="0.60" transform="rotate(36 332.96 165.97)" fill="#222"/>
<ellipse cx="336.07" cy="167.07" rx="0.88" ry="0.55" transform="rotate(134 336.07 167.07)" fill="#333"/>
<ellipse cx="326.68" cy="167.99" rx="0.58" ry="0.40" transform="rotate(61 326.68 167.99)" fill="#333"/>
<ellipse cx="328.96" cy="165.41" rx="0.58" ry="0.50" transform="rotate(45 328.96 165.41)" fill="#444"/>
<ellipse cx="335.93" cy="171.72" rx="0.91" ry="0.78" transform="rotate(82 335.93 171.72)" fill="#111"/>
<ellipse cx="334.00" cy="164.15" rx="0.92" ry="0.69" transform="rotate(31 334.00 164.15)" fill="#444"/>
<ellipse cx="325.88" cy="164.22" rx="0.85" ry="0.65" transform="rotate(26 325.88 164.22)" fill="#444"/>
<ellipse cx="325.28" cy="170.49" rx="0.83" ry="0.62" transform="rotate(133 325.28 170.49)" fill="#555"/>
<ellipse cx="322.23" cy="163.48" rx="0.83" ry="0.60" transform="rotate(101 322.23 163.48)" fill="#333"/>
<ellipse cx="337.61" cy="156.98" rx="0.72" ry="0.52" transform="rotate(115 337.61 156.98)" fill="#111"/>
<ellipse cx="330.45" cy="176.11" rx="0.87" ry="0.74" transform="rotate(132 330.45 176.11)" fill="#222"/>
<ellipse cx="341.35" cy="168.93" rx="0.84" ry="0.55" transform="rotate(125 341.35 168.93)" fill="#333"/>
<ellipse cx="326.86" cy="166.91" rx="0.62" ry="0.50" transform="rotate(133 326.86 166.91)" fill="#333"/>
</g>
<rect x="352.40" y="150.00" width="31.20" height="32.00" fill="#f1f1f1"/>
<g filter="url(#pblur)">
<circle cx="368.00" cy="166.00" r="14.20" fill="#b4b4b4" stroke="#808080" stroke-width="0.9"/>
<circle cx="368.00" cy="166.00" r="12.90" fill="#d4d4d4"/>
<circle cx="368.00" cy="166.00" r="12.00" fill="#e4e4e4" stroke="#929292" stroke-width="0.5"/>
<circle cx="364.29" cy="171.84" r="0.50" fill="#bdbdbd"/>
<circle cx="372.99" cy="166.56" r="0.47" fill="#bdbdbd"/>
<circle cx="365.57" cy="164.85" r="0.71" fill="#bdbdbd"/>
<circle cx="372.13" cy="174.55" r="0.48" fill="#bdbdbd"/>
<circle cx="367.02" cy="172.30" r="0.67" fill="#bdbdbd"/>
<circle cx="368.52" cy="176.22" r="0.71" fill="#bdbdbd"/>
<circle cx="375.50" cy="170.85" r="0.62" fill="#bdbdbd"/>
<circle cx="371.18" cy="162.10" r="0.55" fill="#bdbdbd"/>
<circle cx="359.17" cy="170.63" r="0.77" fill="#bdbdbd"/>
<circle cx="362.96" cy="161.39" r="0.55" fill="#bdbdbd"/>
<circle cx="375.17" cy="168.03" r="0.75" fill="#bdbdbd"/>
<circle cx="361.65" cy="173.01" r="0.38" fill="#bdbdbd"/>
<circle cx="365.99" cy="172.87" r="0.55" fill="#bdbdbd"/>
<circle cx="361.98" cy="157.91" r="0.64" fill="#bdbdbd"/>
<circle cx="363.83" cy="171.56" r="0.37" fill="#bdbdbd"/>
<circle cx="358.52" cy="160.89" r="0.74" fill="#bdbdbd"/>
<circle cx="371.96" cy="176.30" r="0.38" fill="#bdbdbd"/>
<circle cx="366.38" cy="159.36" r="0.62" fill="#bdbdbd"/>
<circle cx="364.75" cy="160.45" r="0.43" fill="#bdbdbd"/>
<circle cx="376.79" cy="170.19" r="0.77" fill="#bdbdbd"/>
<circle cx="362.10" cy="171.58" r="0.60" fill="#bdbdbd"/>
<circle cx="357.37" cy="166.23" r="0.71" fill="#bdbdbd"/>
<circle cx="368.08" cy="164.21" r="0.57" fill="#bdbdbd"/>
<circle cx="361.64" cy="161.81" r="0.65" fill="#bdbdbd"/>
<circle cx="358.03" cy="168.42" r="0.65" fill="#bdbdbd"/>
<circle cx="361.37" cy="169.93" r="0.48" fill="#bdbdbd"/>
<circle cx="373.73" cy="161.28" r="0.44" fill="#bdbdbd"/>
<circle cx="360.00" cy="166.44" r="0.73" fill="#bdbdbd"/>
<circle cx="372.15" cy="157.82" r="0.42" fill="#bdbdbd"/>
<circle cx="367.57" cy="158.91" r="0.76" fill="#bdbdbd"/>
<circle cx="376.94" cy="168.33" r="0.44" fill="#bdbdbd"/>
<circle cx="358.73" cy="162.74" r="0.40" fill="#bdbdbd"/>
<circle cx="368.48" cy="162.18" r="0.39" fill="#bdbdbd"/>
<circle cx="368.57" cy="169.06" r="0.70" fill="#bdbdbd"/>
<circle cx="369.47" cy="162.74" r="0.78" fill="#bdbdbd"/>
<circle cx="376.26" cy="171.12" r="0.54" fill="#bdbdbd"/>
<circle cx="365.59" cy="164.97" r="0.65" fill="#bdbdbd"/>
<circle cx="364.03" cy="157.43" r="0.47" fill="#bdbdbd"/>
<circle cx="365.39" cy="166.28" r="0.76" fill="#bdbdbd"/>
<circle cx="365.38" cy="159.25" r="0.66" fill="#bdbdbd"/>
<circle cx="358.33" cy="160.37" r="0.42" fill="#bdbdbd"/>
<circle cx="372.26" cy="156.45" r="0.38" fill="#bdbdbd"/>
<circle cx="371.95" cy="171.13" r="0.66" fill="#bdbdbd"/>
<circle cx="367.14" cy="165.90" r="0.37" fill="#bdbdbd"/>
<circle cx="373.85" cy="165.58" r="0.73" fill="#bdbdbd"/>
<circle cx="367.51" cy="172.25" r="0.48" fill="#bdbdbd"/>
<circle cx="367.67" cy="176.37" r="0.45" fill="#bdbdbd"/>
<circle cx="360.48" cy="163.26" r="0.61" fill="#bdbdbd"/>
<circle cx="365.78" cy="167.22" r="0.49" fill="#bdbdbd"/>
<circle cx="364.50" cy="175.82" r="0.60" fill="#bdbdbd"/>
<circle cx="371.33" cy="156.18" r="0.42" fill="#bdbdbd"/>
<circle cx="367.78" cy="171.03" r="0.76" fill="#bdbdbd"/>
<circle cx="375.77" cy="168.64" r="0.50" fill="#bdbdbd"/>
<circle cx="362.64" cy="171.44" r="0.73" fill="#bdbdbd"/>
<circle cx="359.46" cy="166.59" r="0.42" fill="#bdbdbd"/>
<circle cx="361.33" cy="173.49" r="0.71" fill="#bdbdbd"/>
<circle cx="371.30" cy="176.22" r="0.79" fill="#bdbdbd"/>
<circle cx="365.62" cy="165.13" r="0.53" fill="#bdbdbd"/>
<circle cx="364.79" cy="173.52" r="0.36" fill="#bdbdbd"/>
<circle cx="360.92" cy="170.56" r="0.52" fill="#bdbdbd"/>
<ellipse cx="366.31" cy="169.83" rx="0.96" ry="0.86" transform="rotate(88 366.31 169.83)" fill="#222"/>
<ellipse cx="370.43" cy="164.68" rx="0.60" ry="0.55" transform="rotate(175 370.43 164.68)" fill="#222"/>
<ellipse cx="361.85" cy="161.48" rx="1.18" ry="0.87" transform="rotate(122 361.85 161.48)" fill="#111"/>
<ellipse cx="363.19" cy="159.24" rx="0.84" ry="0.52" transform="rotate(17 363.19 159.24)" fill="#333"/>
<ellipse cx="374.96" cy="157.34" rx="0.93" ry="0.84" transform="rotate(160 374.96 157.34)" fill="#222"/>
<ellipse cx="360.83" cy="163.82" rx="0.72" ry="0.45" transform="rotate(23 360.83 163.82)" fill="#444"/>
<ellipse cx="372.69" cy="163.06" rx="1.18" ry="1.01" transform="rotate(126 372.69 163.06)" fill="#222"/>
<ellipse cx="363.30" cy="169.70" rx="1.01" ry="0.88" transform="rotate(66 363.30 169.70)" fill="#222"/>
<ellipse cx="366.20" cy="155.32" rx="1.15" ry="1.07" transform="rotate(119 366.20 155.32)" fill="#111"/>
<ellipse cx="370.44" cy="174.20" rx="1.05" ry="0.98" transform="rotate(111 370.44 174.20)" fill="#222"/>
<ellipse cx="375.85" cy="160.47" rx="0.93" ry="0.70" transform="rotate(151 375.85 160.47)" fill="#333"/>
<ellipse cx="357.22" cy="166.54" rx="1.16" ry="0.94" transform="rotate(17 357.22 166.54)" fill="#111"/>
<ellipse cx="367.75" cy="160.75" rx="1.04" ry="1.03" transform="rotate(59 367.75 160.75)" fill="#333"/>
</g>
<text x="329.60" y="188.90" font-size="6.1" text-anchor="middle" font-weight="bold" fill="#111" stroke="#111" stroke-width="0.1" textLength="17.2" lengthAdjust="spacingAndGlyphs">DMSO</text>
<text x="352.20" y="188.90" font-size="6.1" text-anchor="start" font-weight="bold" fill="#111" stroke="#111" stroke-width="0.1" textLength="45.5" lengthAdjust="spacingAndGlyphs">1 µmol/L ART558</text>
<text x="418.90" y="136.70" font-size="6.6" text-anchor="start" font-weight="bold" fill="#111" stroke="#111" stroke-width="0.1" textLength="14.0" lengthAdjust="spacingAndGlyphs">0 Gy</text>
<text x="418.90" y="167.00" font-size="6.6" text-anchor="start" font-weight="bold" fill="#111" stroke="#111" stroke-width="0.1" textLength="14.0" lengthAdjust="spacingAndGlyphs">6 Gy</text>
<rect x="438.00" y="115.00" width="31.20" height="32.00" fill="#f1f1f1"/>
<g filter="url(#pblur)">
<circle cx="453.60" cy="131.00" r="15.00" fill="#e2e2e2" stroke="#4a4a4a" stroke-width="0.9"/>
<circle cx="454.26" cy="141.56" r="0.42" fill="#999"/>
<circle cx="441.63" cy="126.12" r="0.75" fill="#999"/>
<circle cx="441.72" cy="124.95" r="0.37" fill="#999"/>
<circle cx="455.98" cy="129.02" r="0.48" fill="#999"/>
<circle cx="449.12" cy="123.58" r="0.59" fill="#999"/>
<circle cx="445.11" cy="122.32" r="0.65" fill="#999"/>
<circle cx="448.93" cy="138.10" r="0.73" fill="#999"/>
<circle cx="459.85" cy="128.89" r="0.54" fill="#999"/>
<circle cx="447.82" cy="120.17" r="0.38" fill="#999"/>
<circle cx="446.80" cy="119.78" r="0.53" fill="#999"/>
<circle cx="446.78" cy="134.39" r="0.67" fill="#999"/>
<circle cx="450.26" cy="141.19" r="0.53" fill="#999"/>
<circle cx="465.92" cy="127.08" r="0.71" fill="#999"/>
<circle cx="444.86" cy="132.36" r="0.73" fill="#999"/>
<circle cx="451.99" cy="136.02" r="0.40" fill="#999"/>
<circle cx="449.78" cy="129.88" r="0.55" fill="#999"/>
<circle cx="446.20" cy="136.83" r="0.36" fill="#999"/>
<circle cx="461.43" cy="132.63" r="0.59" fill="#999"/>
<circle cx="459.57" cy="130.72" r="0.66" fill="#999"/>
<circle cx="460.37" cy="125.37" r="0.49" fill="#999"/>
<circle cx="447.01" cy="129.39" r="0.62" fill="#999"/>
<circle cx="455.90" cy="141.68" r="0.51" fill="#999"/>
<circle cx="444.32" cy="140.20" r="0.79" fill="#999"/>
<circle cx="447.48" cy="136.09" r="0.75" fill="#999"/>
<circle cx="456.89" cy="135.59" r="0.74" fill="#999"/>
<circle cx="446.18" cy="141.01" r="0.39" fill="#999"/>
<circle cx="463.57" cy="121.86" r="0.62" fill="#999"/>
<circle cx="450.80" cy="138.27" r="0.72" fill="#999"/>
<circle cx="462.34" cy="122.39" r="0.73" fill="#999"/>
<circle cx="443.59" cy="123.07" r="0.67" fill="#999"/>
<circle cx="462.06" cy="129.29" r="0.77" fill="#999"/>
<circle cx="466.33" cy="131.73" r="0.42" fill="#999"/>
<circle cx="459.04" cy="135.15" r="0.43" fill="#999"/>
<circle cx="443.34" cy="126.54" r="0.68" fill="#999"/>
<circle cx="452.64" cy="119.69" r="0.68" fill="#999"/>
<circle cx="465.37" cy="129.85" r="0.40" fill="#999"/>
<circle cx="453.82" cy="119.74" r="0.53" fill="#999"/>
<circle cx="461.52" cy="139.99" r="0.73" fill="#999"/>
<circle cx="453.41" cy="139.90" r="0.71" fill="#999"/>
<circle cx="445.69" cy="130.29" r="0.73" fill="#999"/>
<circle cx="452.83" cy="138.47" r="0.53" fill="#999"/>
<circle cx="449.64" cy="141.93" r="0.57" fill="#999"/>
<circle cx="448.39" cy="118.69" r="0.50" fill="#999"/>
<circle cx="454.81" cy="127.86" r="0.74" fill="#999"/>
<circle cx="448.13" cy="123.00" r="0.67" fill="#999"/>
<circle cx="452.94" cy="129.27" r="0.41" fill="#999"/>
<circle cx="462.81" cy="121.82" r="0.68" fill="#999"/>
<circle cx="459.81" cy="136.76" r="0.54" fill="#999"/>
<circle cx="449.90" cy="140.16" r="0.77" fill="#999"/>
<circle cx="459.79" cy="139.79" r="0.48" fill="#999"/>
<circle cx="440.61" cy="134.43" r="0.45" fill="#999"/>
<circle cx="452.45" cy="131.13" r="0.66" fill="#999"/>
<circle cx="460.23" cy="128.21" r="0.77" fill="#999"/>
<circle cx="458.65" cy="143.22" r="0.38" fill="#999"/>
<circle cx="439.83" cy="130.31" r="0.35" fill="#999"/>
<circle cx="458.49" cy="140.40" r="0.61" fill="#999"/>
<circle cx="464.46" cy="129.78" r="0.46" fill="#999"/>
<circle cx="454.23" cy="143.12" r="0.54" fill="#999"/>
<circle cx="463.68" cy="132.65" r="0.45" fill="#999"/>
<circle cx="450.25" cy="133.20" r="0.68" fill="#999"/>
<circle cx="464.10" cy="127.59" r="0.70" fill="#999"/>
<circle cx="439.99" cy="131.60" r="0.66" fill="#999"/>
<circle cx="445.23" cy="141.09" r="0.73" fill="#999"/>
<circle cx="447.94" cy="142.25" r="0.41" fill="#999"/>
<circle cx="450.57" cy="131.08" r="0.45" fill="#999"/>
<circle cx="440.82" cy="128.36" r="0.73" fill="#999"/>
<circle cx="457.37" cy="142.81" r="0.46" fill="#999"/>
<circle cx="460.69" cy="133.89" r="0.41" fill="#999"/>
<circle cx="442.30" cy="129.54" r="0.48" fill="#999"/>
<circle cx="462.44" cy="125.20" r="0.37" fill="#999"/>
<circle cx="465.57" cy="128.83" r="0.79" fill="#999"/>
<circle cx="446.27" cy="139.85" r="0.77" fill="#999"/>
<circle cx="451.78" cy="143.90" r="0.52" fill="#999"/>
<circle cx="442.86" cy="132.72" r="0.48" fill="#999"/>
<circle cx="461.48" cy="127.17" r="0.64" fill="#999"/>
<circle cx="450.14" cy="123.46" r="0.74" fill="#999"/>
<circle cx="448.39" cy="142.13" r="0.52" fill="#999"/>
<circle cx="449.04" cy="131.79" r="0.75" fill="#999"/>
<circle cx="463.33" cy="126.10" r="0.67" fill="#999"/>
<circle cx="444.78" cy="130.93" r="0.70" fill="#999"/>
<ellipse cx="463.43" cy="137.51" rx="0.62" ry="0.40" transform="rotate(44 463.43 137.51)" fill="#444"/>
<ellipse cx="450.63" cy="131.69" rx="0.81" ry="0.78" transform="rotate(30 450.63 131.69)" fill="#111"/>
<ellipse cx="448.75" cy="119.82" rx="0.71" ry="0.48" transform="rotate(120 448.75 119.82)" fill="#444"/>
<ellipse cx="446.98" cy="134.87" rx="0.75" ry="0.52" transform="rotate(18 446.98 134.87)" fill="#111"/>
<ellipse cx="457.11" cy="128.95" rx="0.84" ry="0.68" transform="rotate(144 457.11 128.95)" fill="#222"/>
<ellipse cx="458.16" cy="131.80" rx="1.15" ry="0.97" transform="rotate(28 458.16 131.80)" fill="#444"/>
<ellipse cx="453.13" cy="123.44" rx="0.81" ry="0.50" transform="rotate(61 453.13 123.44)" fill="#111"/>
<ellipse cx="450.51" cy="126.31" rx="0.86" ry="0.69" transform="rotate(54 450.51 126.31)" fill="#333"/>
<ellipse cx="462.22" cy="124.34" rx="0.84" ry="0.54" transform="rotate(117 462.22 124.34)" fill="#444"/>
<ellipse cx="462.68" cy="128.08" rx="0.63" ry="0.57" transform="rotate(161 462.68 128.08)" fill="#444"/>
<ellipse cx="448.20" cy="136.99" rx="0.67" ry="0.49" transform="rotate(17 448.20 136.99)" fill="#333"/>
<ellipse cx="449.09" cy="123.87" rx="1.14" ry="0.74" transform="rotate(65 449.09 123.87)" fill="#444"/>
<ellipse cx="451.55" cy="130.61" rx="0.56" ry="0.37" transform="rotate(164 451.55 130.61)" fill="#111"/>
<ellipse cx="449.01" cy="135.12" rx="0.99" ry="0.78" transform="rotate(127 449.01 135.12)" fill="#222"/>
<ellipse cx="452.39" cy="136.17" rx="0.63" ry="0.55" transform="rotate(37 452.39 136.17)" fill="#333"/>
<ellipse cx="442.43" cy="131.12" rx="1.08" ry="0.82" transform="rotate(10 442.43 131.12)" fill="#333"/>
<ellipse cx="462.03" cy="132.25" rx="0.77" ry="0.73" transform="rotate(179 462.03 132.25)" fill="#222"/>
<ellipse cx="441.68" cy="125.64" rx="0.91" ry="0.63" transform="rotate(115 441.68 125.64)" fill="#111"/>
<ellipse cx="465.38" cy="134.84" rx="0.57" ry="0.39" transform="rotate(35 465.38 134.84)" fill="#444"/>
<ellipse cx="464.02" cy="133.50" rx="0.73" ry="0.69" transform="rotate(149 464.02 133.50)" fill="#333"/>
<ellipse cx="462.29" cy="129.85" rx="0.59" ry="0.40" transform="rotate(173 462.29 129.85)" fill="#111"/>
<ellipse cx="465.97" cy="133.35" rx="0.77" ry="0.51" transform="rotate(59 465.97 133.35)" fill="#444"/>
<ellipse cx="447.09" cy="126.06" rx="0.77" ry="0.48" transform="rotate(172 447.09 126.06)" fill="#444"/>
<ellipse cx="444.32" cy="135.02" rx="0.92" ry="0.92" transform="rotate(49 444.32 135.02)" fill="#222"/>
<ellipse cx="464.47" cy="130.69" rx="0.67" ry="0.63" transform="rotate(69 464.47 130.69)" fill="#444"/>
<ellipse cx="449.97" cy="140.73" rx="1.13" ry="0.78" transform="rotate(8 449.97 140.73)" fill="#333"/>
<ellipse cx="459.02" cy="135.21" rx="0.76" ry="0.58" transform="rotate(145 459.02 135.21)" fill="#111"/>
<ellipse cx="464.14" cy="129.03" rx="0.65" ry="0.49" transform="rotate(39 464.14 129.03)" fill="#111"/>
<ellipse cx="465.69" cy="131.21" rx="0.70" ry="0.59" transform="rotate(121 465.69 131.21)" fill="#444"/>
<ellipse cx="464.96" cy="135.02" rx="0.98" ry="0.81" transform="rotate(66 464.96 135.02)" fill="#222"/>
<ellipse cx="462.27" cy="135.14" rx="0.62" ry="0.43" transform="rotate(38 462.27 135.14)" fill="#444"/>
<ellipse cx="451.03" cy="134.72" rx="1.15" ry="1.11" transform="rotate(148 451.03 134.72)" fill="#222"/>
<ellipse cx="449.03" cy="130.34" rx="1.00" ry="0.73" transform="rotate(59 449.03 130.34)" fill="#222"/>
<ellipse cx="460.17" cy="122.08" rx="0.60" ry="0.46" transform="rotate(104 460.17 122.08)" fill="#444"/>
<ellipse cx="458.83" cy="119.18" rx="0.89" ry="0.63" transform="rotate(38 458.83 119.18)" fill="#222"/>
<ellipse cx="448.71" cy="132.75" rx="0.71" ry="0.70" transform="rotate(24 448.71 132.75)" fill="#444"/>
<ellipse cx="448.83" cy="120.99" rx="1.10" ry="0.68" transform="rotate(4 448.83 120.99)" fill="#111"/>
<ellipse cx="450.95" cy="136.67" rx="0.59" ry="0.57" transform="rotate(35 450.95 136.67)" fill="#222"/>
<ellipse cx="446.54" cy="129.02" rx="0.87" ry="0.67" transform="rotate(169 446.54 129.02)" fill="#333"/>
<ellipse cx="459.37" cy="137.96" rx="0.86" ry="0.74" transform="rotate(114 459.37 137.96)" fill="#111"/>
<ellipse cx="442.29" cy="133.98" rx="0.94" ry="0.66" transform="rotate(133 442.29 133.98)" fill="#333"/>
<ellipse cx="461.75" cy="139.44" rx="0.67" ry="0.66" transform="rotate(151 461.75 139.44)" fill="#111"/>
<ellipse cx="456.10" cy="133.11" rx="0.89" ry="0.86" transform="rotate(177 456.10 133.11)" fill="#222"/>
<ellipse cx="457.44" cy="126.54" rx="0.94" ry="0.92" transform="rotate(93 457.44 126.54)" fill="#444"/>
<ellipse cx="443.48" cy="140.01" rx="0.70" ry="0.69" transform="rotate(179 443.48 140.01)" fill="#111"/>
<ellipse cx="445.16" cy="136.19" rx="0.92" ry="0.83" transform="rotate(54 445.16 136.19)" fill="#444"/>
<ellipse cx="452.08" cy="142.10" rx="1.03" ry="0.89" transform="rotate(113 452.08 142.10)" fill="#111"/>
<ellipse cx="443.91" cy="123.64" rx="0.96" ry="0.76" transform="rotate(119 443.91 123.64)" fill="#222"/>
<ellipse cx="455.12" cy="117.72" rx="1.02" ry="1.00" transform="rotate(110 455.12 117.72)" fill="#222"/>
<ellipse cx="448.84" cy="138.79" rx="1.13" ry="0.72" transform="rotate(102 448.84 138.79)" fill="#444"/>
<ellipse cx="453.62" cy="118.94" rx="1.09" ry="1.07" transform="rotate(94 453.62 118.94)" fill="#222"/>
<ellipse cx="458.62" cy="130.53" rx="0.77" ry="0.68" transform="rotate(93 458.62 130.53)" fill="#444"/>
<ellipse cx="453.57" cy="139.89" rx="0.68" ry="0.45" transform="rotate(68 453.57 139.89)" fill="#222"/>
<ellipse cx="463.28" cy="125.23" rx="0.86" ry="0.55" transform="rotate(157 463.28 125.23)" fill="#444"/>
<ellipse cx="462.58" cy="125.87" rx="0.60" ry="0.46" transform="rotate(85 462.58 125.87)" fill="#444"/>
<ellipse cx="445.07" cy="133.51" rx="0.76" ry="0.63" transform="rotate(80 445.07 133.51)" fill="#444"/>
<ellipse cx="447.00" cy="138.32" rx="0.84" ry="0.56" transform="rotate(173 447.00 138.32)" fill="#111"/>
<ellipse cx="462.34" cy="121.01" rx="0.65" ry="0.56" transform="rotate(29 462.34 121.01)" fill="#333"/>
<ellipse cx="454.27" cy="138.97" rx="1.01" ry="0.99" transform="rotate(162 454.27 138.97)" fill="#222"/>
<ellipse cx="453.34" cy="134.92" rx="0.91" ry="0.63" transform="rotate(94 453.34 134.92)" fill="#222"/>
<ellipse cx="447.12" cy="131.37" rx="0.73" ry="0.66" transform="rotate(41 447.12 131.37)" fill="#333"/>
<ellipse cx="456.95" cy="118.59" rx="0.91" ry="0.85" transform="rotate(50 456.95 118.59)" fill="#111"/>
<ellipse cx="448.11" cy="125.78" rx="0.91" ry="0.87" transform="rotate(143 448.11 125.78)" fill="#444"/>
<ellipse cx="456.73" cy="138.53" rx="0.59" ry="0.42" transform="rotate(44 456.73 138.53)" fill="#111"/>
<ellipse cx="454.95" cy="120.30" rx="0.70" ry="0.44" transform="rotate(58 454.95 120.30)" fill="#222"/>
<ellipse cx="457.87" cy="124.18" rx="1.09" ry="0.73" transform="rotate(4 457.87 124.18)" fill="#222"/>
<ellipse cx="454.76" cy="126.62" rx="0.60" ry="0.37" transform="rotate(50 454.76 126.62)" fill="#111"/>
<ellipse cx="444.76" cy="127.61" rx="0.75" ry="0.50" transform="rotate(81 444.76 127.61)" fill="#333"/>
<ellipse cx="450.91" cy="124.05" rx="1.00" ry="0.72" transform="rotate(85 450.91 124.05)" fill="#333"/>
<ellipse cx="451.03" cy="120.83" rx="0.60" ry="0.37" transform="rotate(67 451.03 120.83)" fill="#222"/>
<ellipse cx="460.48" cy="139.51" rx="0.92" ry="0.59" transform="rotate(33 460.48 139.51)" fill="#333"/>
<ellipse cx="459.44" cy="122.87" rx="0.99" ry="0.91" transform="rotate(128 459.44 122.87)" fill="#333"/>
<ellipse cx="448.08" cy="141.09" rx="0.66" ry="0.53" transform="rotate(39 448.08 141.09)" fill="#111"/>
<ellipse cx="462.64" cy="137.15" rx="0.80" ry="0.75" transform="rotate(4 462.64 137.15)" fill="#333"/>
<ellipse cx="450.92" cy="128.12" rx="1.03" ry="0.71" transform="rotate(24 450.92 128.12)" fill="#444"/>
<ellipse cx="454.22" cy="127.61" rx="0.64" ry="0.40" transform="rotate(119 454.22 127.61)" fill="#444"/>
<ellipse cx="454.62" cy="134.18" rx="0.69" ry="0.63" transform="rotate(169 454.62 134.18)" fill="#111"/>
<ellipse cx="454.36" cy="122.39" rx="0.81" ry="0.64" transform="rotate(49 454.36 122.39)" fill="#111"/>
<ellipse cx="444.99" cy="126.94" rx="0.68" ry="0.66" transform="rotate(61 444.99 126.94)" fill="#444"/>
<ellipse cx="466.57" cy="129.02" rx="0.85" ry="0.77" transform="rotate(14 466.57 129.02)" fill="#333"/>
<ellipse cx="450.25" cy="118.75" rx="0.98" ry="0.60" transform="rotate(131 450.25 118.75)" fill="#222"/>
<ellipse cx="463.69" cy="124.51" rx="0.93" ry="0.67" transform="rotate(157 463.69 124.51)" fill="#444"/>
<ellipse cx="449.31" cy="127.88" rx="0.66" ry="0.45" transform="rotate(169 449.31 127.88)" fill="#333"/>
<ellipse cx="453.53" cy="129.00" rx="0.63" ry="0.60" transform="rotate(57 453.53 129.00)" fill="#111"/>
<ellipse cx="457.99" cy="131.17" rx="0.75" ry="0.59" transform="rotate(101 457.99 131.17)" fill="#333"/>
</g>
<rect x="474.40" y="115.00" width="31.20" height="32.00" fill="#f1f1f1"/>
<g filter="url(#pblur)">
<circle cx="490.00" cy="131.00" r="15.00" fill="#e2e2e2" stroke="#4a4a4a" stroke-width="0.9"/>
<circle cx="485.31" cy="141.74" r="0.50" fill="#999"/>
<circle cx="500.12" cy="134.69" r="0.36" fill="#999"/>
<circle cx="492.59" cy="132.62" r="0.71" fill="#999"/>
<circle cx="484.65" cy="130.54" r="0.45" fill="#999"/>
<circle cx="501.75" cy="125.62" r="0.38" fill="#999"/>
<circle cx="484.04" cy="132.46" r="0.38" fill="#999"/>
<circle cx="497.18" cy="137.71" r="0.68" fill="#999"/>
<circle cx="481.76" cy="129.89" r="0.44" fill="#999"/>
<circle cx="487.89" cy="121.18" r="0.56" fill="#999"/>
<circle cx="490.72" cy="126.56" r="0.53" fill="#999"/>
<circle cx="497.77" cy="134.66" r="0.71" fill="#999"/>
<circle cx="483.10" cy="131.72" r="0.78" fill="#999"/>
<circle cx="486.82" cy="125.33" r="0.49" fill="#999"/>
<circle cx="486.04" cy="139.67" r="0.63" fill="#999"/>
<circle cx="487.16" cy="119.23" r="0.75" fill="#999"/>
<circle cx="483.61" cy="137.66" r="0.56" fill="#999"/>
<circle cx="501.98" cy="125.14" r="0.75" fill="#999"/>
<circle cx="486.72" cy="127.97" r="0.68" fill="#999"/>
<circle cx="479.41" cy="134.02" r="0.49" fill="#999"/>
<circle cx="489.52" cy="133.63" r="0.74" fill="#999"/>
<circle cx="503.07" cy="129.45" r="0.61" fill="#999"/>
<circle cx="496.49" cy="137.82" r="0.40" fill="#999"/>
<circle cx="484.47" cy="125.85" r="0.61" fill="#999"/>
<circle cx="500.86" cy="135.99" r="0.72" fill="#999"/>
<circle cx="491.19" cy="121.95" r="0.58" fill="#999"/>
<circle cx="497.44" cy="135.44" r="0.57" fill="#999"/>
<circle cx="501.25" cy="138.55" r="0.54" fill="#999"/>
<circle cx="497.03" cy="133.34" r="0.75" fill="#999"/>
<circle cx="490.57" cy="125.96" r="0.65" fill="#999"/>
<circle cx="492.88" cy="133.28" r="0.44" fill="#999"/>
<circle cx="495.18" cy="139.63" r="0.51" fill="#999"/>
<circle cx="492.83" cy="126.08" r="0.51" fill="#999"/>
<circle cx="495.57" cy="141.71" r="0.78" fill="#999"/>
<circle cx="482.83" cy="134.61" r="0.66" fill="#999"/>
<circle cx="494.86" cy="135.76" r="0.41" fill="#999"/>
<circle cx="494.65" cy="130.17" r="0.76" fill="#999"/>
<circle cx="489.29" cy="142.86" r="0.37" fill="#999"/>
<circle cx="500.20" cy="122.75" r="0.62" fill="#999"/>
<circle cx="476.70" cy="133.30" r="0.54" fill="#999"/>
<circle cx="484.11" cy="126.49" r="0.67" fill="#999"/>
<circle cx="478.60" cy="133.53" r="0.54" fill="#999"/>
<circle cx="489.50" cy="126.06" r="0.39" fill="#999"/>
<circle cx="494.68" cy="143.67" r="0.59" fill="#999"/>
<circle cx="499.74" cy="138.75" r="0.72" fill="#999"/>
<circle cx="486.36" cy="136.83" r="0.70" fill="#999"/>
<circle cx="489.69" cy="140.45" r="0.51" fill="#999"/>
<circle cx="495.31" cy="130.69" r="0.45" fill="#999"/>
<circle cx="494.78" cy="124.81" r="0.69" fill="#999"/>
<circle cx="495.55" cy="141.54" r="0.71" fill="#999"/>
<circle cx="486.75" cy="136.01" r="0.45" fill="#999"/>
<circle cx="479.10" cy="137.13" r="0.75" fill="#999"/>
<circle cx="496.82" cy="123.07" r="0.80" fill="#999"/>
<circle cx="502.03" cy="131.79" r="0.55" fill="#999"/>
<circle cx="479.74" cy="122.88" r="0.52" fill="#999"/>
<circle cx="497.54" cy="128.66" r="0.67" fill="#999"/>
<circle cx="497.24" cy="120.83" r="0.77" fill="#999"/>
<circle cx="489.16" cy="139.30" r="0.44" fill="#999"/>
<circle cx="484.22" cy="136.81" r="0.49" fill="#999"/>
<circle cx="486.69" cy="134.17" r="0.50" fill="#999"/>
<circle cx="491.88" cy="144.03" r="0.68" fill="#999"/>
<circle cx="480.69" cy="136.86" r="0.43" fill="#999"/>
<circle cx="499.11" cy="123.20" r="0.60" fill="#999"/>
<circle cx="490.47" cy="144.23" r="0.58" fill="#999"/>
<circle cx="494.59" cy="118.05" r="0.65" fill="#999"/>
<circle cx="488.35" cy="119.12" r="0.41" fill="#999"/>
<circle cx="492.68" cy="124.59" r="0.78" fill="#999"/>
<circle cx="485.26" cy="123.93" r="0.80" fill="#999"/>
<circle cx="492.69" cy="126.74" r="0.60" fill="#999"/>
<circle cx="482.24" cy="129.05" r="0.71" fill="#999"/>
<circle cx="493.48" cy="123.68" r="0.43" fill="#999"/>
<circle cx="497.07" cy="120.44" r="0.76" fill="#999"/>
<circle cx="493.73" cy="127.45" r="0.60" fill="#999"/>
<circle cx="501.02" cy="126.50" r="0.69" fill="#999"/>
<circle cx="485.06" cy="121.01" r="0.74" fill="#999"/>
<circle cx="502.29" cy="134.82" r="0.51" fill="#999"/>
<circle cx="481.10" cy="128.25" r="0.77" fill="#999"/>
<circle cx="483.50" cy="141.34" r="0.44" fill="#999"/>
<circle cx="492.59" cy="118.39" r="0.36" fill="#999"/>
<circle cx="491.80" cy="138.85" r="0.58" fill="#999"/>
<circle cx="490.02" cy="135.37" r="0.75" fill="#999"/>
<ellipse cx="478.07" cy="128.84" rx="0.94" ry="0.80" transform="rotate(95 478.07 128.84)" fill="#222"/>
<ellipse cx="485.14" cy="135.25" rx="0.88" ry="0.78" transform="rotate(94 485.14 135.25)" fill="#333"/>
<ellipse cx="484.71" cy="124.06" rx="0.63" ry="0.45" transform="rotate(38 484.71 124.06)" fill="#222"/>
<ellipse cx="482.63" cy="135.14" rx="0.90" ry="0.60" transform="rotate(40 482.63 135.14)" fill="#111"/>
<ellipse cx="480.79" cy="131.34" rx="0.89" ry="0.64" transform="rotate(143 480.79 131.34)" fill="#111"/>
<ellipse cx="480.58" cy="136.55" rx="0.83" ry="0.66" transform="rotate(14 480.58 136.55)" fill="#111"/>
<ellipse cx="482.30" cy="142.02" rx="0.63" ry="0.44" transform="rotate(61 482.30 142.02)" fill="#111"/>
<ellipse cx="485.84" cy="118.51" rx="0.76" ry="0.73" transform="rotate(122 485.84 118.51)" fill="#111"/>
<ellipse cx="494.23" cy="141.85" rx="0.81" ry="0.67" transform="rotate(10 494.23 141.85)" fill="#444"/>
<ellipse cx="495.72" cy="131.35" rx="0.95" ry="0.66" transform="rotate(115 495.72 131.35)" fill="#111"/>
<ellipse cx="496.55" cy="136.21" rx="0.69" ry="0.69" transform="rotate(154 496.55 136.21)" fill="#111"/>
<ellipse cx="494.27" cy="124.69" rx="0.67" ry="0.65" transform="rotate(21 494.27 124.69)" fill="#333"/>
<ellipse cx="480.31" cy="133.07" rx="1.00" ry="0.91" transform="rotate(166 480.31 133.07)" fill="#333"/>
<ellipse cx="482.44" cy="121.61" rx="1.00" ry="0.63" transform="rotate(131 482.44 121.61)" fill="#111"/>
<ellipse cx="482.35" cy="120.07" rx="0.82" ry="0.75" transform="rotate(44 482.35 120.07)" fill="#222"/>
<ellipse cx="484.96" cy="125.99" rx="0.74" ry="0.54" transform="rotate(180 484.96 125.99)" fill="#111"/>
<ellipse cx="488.52" cy="127.73" rx="1.11" ry="0.89" transform="rotate(127 488.52 127.73)" fill="#111"/>
<ellipse cx="489.66" cy="143.67" rx="1.06" ry="0.69" transform="rotate(160 489.66 143.67)" fill="#222"/>
<ellipse cx="484.37" cy="121.56" rx="0.72" ry="0.66" transform="rotate(85 484.37 121.56)" fill="#111"/>
<ellipse cx="498.60" cy="122.52" rx="0.86" ry="0.53" transform="rotate(130 498.60 122.52)" fill="#222"/>
<ellipse cx="481.86" cy="125.65" rx="0.69" ry="0.52" transform="rotate(110 481.86 125.65)" fill="#222"/>
<ellipse cx="477.77" cy="131.91" rx="0.82" ry="0.58" transform="rotate(119 477.77 131.91)" fill="#222"/>
<ellipse cx="487.08" cy="133.18" rx="0.68" ry="0.41" transform="rotate(25 487.08 133.18)" fill="#444"/>
<ellipse cx="481.39" cy="126.59" rx="0.60" ry="0.41" transform="rotate(93 481.39 126.59)" fill="#333"/>
<ellipse cx="493.56" cy="134.34" rx="0.71" ry="0.52" transform="rotate(56 493.56 134.34)" fill="#333"/>
<ellipse cx="503.09" cy="128.91" rx="0.80" ry="0.49" transform="rotate(17 503.09 128.91)" fill="#444"/>
<ellipse cx="492.45" cy="126.28" rx="0.59" ry="0.39" transform="rotate(67 492.45 126.28)" fill="#222"/>
<ellipse cx="485.36" cy="131.68" rx="0.61" ry="0.59" transform="rotate(64 485.36 131.68)" fill="#444"/>
<ellipse cx="479.62" cy="135.39" rx="0.95" ry="0.65" transform="rotate(144 479.62 135.39)" fill="#444"/>
<ellipse cx="491.77" cy="136.86" rx="0.73" ry="0.67" transform="rotate(32 491.77 136.86)" fill="#444"/>
<ellipse cx="486.38" cy="142.10" rx="0.84" ry="0.55" transform="rotate(168 486.38 142.10)" fill="#222"/>
<ellipse cx="487.08" cy="122.54" rx="0.97" ry="0.85" transform="rotate(19 487.08 122.54)" fill="#111"/>
<ellipse cx="493.48" cy="132.39" rx="0.74" ry="0.48" transform="rotate(56 493.48 132.39)" fill="#111"/>
<ellipse cx="491.83" cy="134.44" rx="0.98" ry="0.82" transform="rotate(43 491.83 134.44)" fill="#333"/>
<ellipse cx="488.63" cy="129.73" rx="0.77" ry="0.68" transform="rotate(41 488.63 129.73)" fill="#333"/>
<ellipse cx="492.06" cy="128.64" rx="0.81" ry="0.81" transform="rotate(33 492.06 128.64)" fill="#111"/>
<ellipse cx="484.74" cy="140.03" rx="0.99" ry="0.63" transform="rotate(163 484.74 140.03)" fill="#222"/>
<ellipse cx="481.85" cy="127.59" rx="0.95" ry="0.91" transform="rotate(29 481.85 127.59)" fill="#333"/>
<ellipse cx="492.19" cy="119.75" rx="0.78" ry="0.50" transform="rotate(0 492.19 119.75)" fill="#222"/>
<ellipse cx="477.77" cy="125.24" rx="1.07" ry="0.71" transform="rotate(78 477.77 125.24)" fill="#111"/>
<ellipse cx="496.80" cy="135.38" rx="0.74" ry="0.74" transform="rotate(164 496.80 135.38)" fill="#444"/>
<ellipse cx="494.66" cy="136.18" rx="1.05" ry="0.96" transform="rotate(79 494.66 136.18)" fill="#222"/>
<ellipse cx="503.54" cy="131.38" rx="0.84" ry="0.68" transform="rotate(32 503.54 131.38)" fill="#333"/>
<ellipse cx="497.58" cy="140.68" rx="0.86" ry="0.64" transform="rotate(158 497.58 140.68)" fill="#222"/>
<ellipse cx="492.30" cy="143.49" rx="0.85" ry="0.61" transform="rotate(107 492.30 143.49)" fill="#111"/>
<ellipse cx="483.64" cy="136.17" rx="0.91" ry="0.70" transform="rotate(136 483.64 136.17)" fill="#111"/>
<ellipse cx="481.04" cy="138.63" rx="0.62" ry="0.45" transform="rotate(95 481.04 138.63)" fill="#444"/>
<ellipse cx="493.09" cy="119.32" rx="0.70" ry="0.56" transform="rotate(139 493.09 119.32)" fill="#444"/>
<ellipse cx="483.49" cy="124.25" rx="0.79" ry="0.57" transform="rotate(65 483.49 124.25)" fill="#111"/>
<ellipse cx="483.11" cy="138.76" rx="0.99" ry="0.78" transform="rotate(115 483.11 138.76)" fill="#222"/>
<ellipse cx="484.26" cy="129.45" rx="0.98" ry="0.92" transform="rotate(92 484.26 129.45)" fill="#444"/>
<ellipse cx="487.61" cy="130.66" rx="0.77" ry="0.49" transform="rotate(59 487.61 130.66)" fill="#222"/>
<ellipse cx="487.02" cy="135.71" rx="0.81" ry="0.80" transform="rotate(162 487.02 135.71)" fill="#333"/>
<ellipse cx="497.76" cy="136.24" rx="0.56" ry="0.42" transform="rotate(87 497.76 136.24)" fill="#111"/>
<ellipse cx="496.27" cy="120.39" rx="0.57" ry="0.42" transform="rotate(58 496.27 120.39)" fill="#333"/>
<ellipse cx="485.85" cy="137.51" rx="0.83" ry="0.61" transform="rotate(124 485.85 137.51)" fill="#222"/>
<ellipse cx="490.97" cy="130.62" rx="0.67" ry="0.43" transform="rotate(11 490.97 130.62)" fill="#444"/>
<ellipse cx="489.10" cy="126.06" rx="1.09" ry="0.96" transform="rotate(112 489.10 126.06)" fill="#444"/>
<ellipse cx="489.55" cy="137.81" rx="0.64" ry="0.46" transform="rotate(164 489.55 137.81)" fill="#222"/>
<ellipse cx="488.58" cy="118.55" rx="0.64" ry="0.43" transform="rotate(15 488.58 118.55)" fill="#333"/>
<ellipse cx="495.78" cy="126.22" rx="1.06" ry="1.03" transform="rotate(9 495.78 126.22)" fill="#333"/>
<ellipse cx="491.54" cy="121.00" rx="1.08" ry="1.02" transform="rotate(108 491.54 121.00)" fill="#444"/>
<ellipse cx="489.24" cy="117.23" rx="1.01" ry="0.69" transform="rotate(130 489.24 117.23)" fill="#333"/>
<ellipse cx="481.89" cy="129.52" rx="1.09" ry="0.71" transform="rotate(130 481.89 129.52)" fill="#444"/>
<ellipse cx="497.88" cy="119.93" rx="0.91" ry="0.69" transform="rotate(5 497.88 119.93)" fill="#333"/>
<ellipse cx="486.93" cy="126.78" rx="0.66" ry="0.50" transform="rotate(95 486.93 126.78)" fill="#111"/>
<ellipse cx="500.14" cy="125.78" rx="0.74" ry="0.48" transform="rotate(173 500.14 125.78)" fill="#222"/>
<ellipse cx="502.33" cy="126.82" rx="0.98" ry="0.60" transform="rotate(5 502.33 126.82)" fill="#222"/>
<ellipse cx="478.97" cy="134.83" rx="0.89" ry="0.74" transform="rotate(75 478.97 134.83)" fill="#222"/>
<ellipse cx="495.30" cy="123.53" rx="0.97" ry="0.62" transform="rotate(59 495.30 123.53)" fill="#222"/>
<ellipse cx="489.25" cy="139.34" rx="1.01" ry="0.80" transform="rotate(31 489.25 139.34)" fill="#333"/>
<ellipse cx="501.37" cy="135.17" rx="0.75" ry="0.46" transform="rotate(130 501.37 135.17)" fill="#111"/>
<ellipse cx="489.55" cy="132.50" rx="0.69" ry="0.54" transform="rotate(79 489.55 132.50)" fill="#444"/>
<ellipse cx="498.90" cy="124.38" rx="1.10" ry="1.10" transform="rotate(58 498.90 124.38)" fill="#111"/>
<ellipse cx="499.91" cy="129.87" rx="1.14" ry="0.74" transform="rotate(167 499.91 129.87)" fill="#222"/>
<ellipse cx="494.61" cy="129.08" rx="0.70" ry="0.66" transform="rotate(96 494.61 129.08)" fill="#222"/>
<ellipse cx="480.87" cy="141.16" rx="0.86" ry="0.74" transform="rotate(68 480.87 141.16)" fill="#333"/>
<ellipse cx="492.21" cy="139.71" rx="0.98" ry="0.77" transform="rotate(3 492.21 139.71)" fill="#444"/>
<ellipse cx="490.30" cy="135.65" rx="0.78" ry="0.48" transform="rotate(153 490.30 135.65)" fill="#222"/>
<ellipse cx="486.51" cy="137.52" rx="1.02" ry="0.86" transform="rotate(140 486.51 137.52)" fill="#444"/>
<ellipse cx="488.13" cy="144.14" rx="0.65" ry="0.63" transform="rotate(66 488.13 144.14)" fill="#111"/>
<ellipse cx="494.14" cy="131.33" rx="1.00" ry="0.90" transform="rotate(79 494.14 131.33)" fill="#111"/>
<ellipse cx="500.58" cy="124.15" rx="0.68" ry="0.53" transform="rotate(17 500.58 124.15)" fill="#111"/>
<ellipse cx="498.77" cy="135.44" rx="0.60" ry="0.39" transform="rotate(1 498.77 135.44)" fill="#333"/>
<ellipse cx="488.08" cy="119.29" rx="0.85" ry="0.66" transform="rotate(179 488.08 119.29)" fill="#333"/>
</g>
<rect x="438.00" y="148.20" width="31.20" height="32.00" fill="#f1f1f1"/>
<g filter="url(#pblur)">
<circle cx="453.60" cy="164.20" r="15.00" fill="#dcdcdc" stroke="#4a4a4a" stroke-width="0.9"/>
<circle cx="448.77" cy="171.04" r="0.49" fill="#a0a0a0"/>
<circle cx="452.60" cy="159.95" r="0.72" fill="#a0a0a0"/>
<circle cx="449.01" cy="163.39" r="0.48" fill="#a0a0a0"/>
<circle cx="451.06" cy="174.03" r="0.49" fill="#a0a0a0"/>
<circle cx="455.18" cy="172.64" r="0.46" fill="#a0a0a0"/>
<circle cx="459.78" cy="155.46" r="0.76" fill="#a0a0a0"/>
<circle cx="446.87" cy="161.57" r="0.58" fill="#a0a0a0"/>
<circle cx="454.38" cy="153.38" r="0.62" fill="#a0a0a0"/>
<circle cx="450.96" cy="151.80" r="0.62" fill="#a0a0a0"/>
<circle cx="444.48" cy="174.41" r="0.46" fill="#a0a0a0"/>
<circle cx="450.38" cy="160.22" r="0.55" fill="#a0a0a0"/>
<circle cx="451.46" cy="160.06" r="0.56" fill="#a0a0a0"/>
<circle cx="454.70" cy="165.96" r="0.78" fill="#a0a0a0"/>
<circle cx="458.82" cy="160.32" r="0.74" fill="#a0a0a0"/>
<circle cx="467.39" cy="164.52" r="0.71" fill="#a0a0a0"/>
<circle cx="456.85" cy="173.72" r="0.41" fill="#a0a0a0"/>
<circle cx="449.10" cy="169.58" r="0.60" fill="#a0a0a0"/>
<circle cx="459.03" cy="174.43" r="0.41" fill="#a0a0a0"/>
<circle cx="460.36" cy="175.56" r="0.71" fill="#a0a0a0"/>
<circle cx="454.92" cy="161.14" r="0.36" fill="#a0a0a0"/>
<circle cx="444.31" cy="173.30" r="0.47" fill="#a0a0a0"/>
<circle cx="449.84" cy="172.09" r="0.67" fill="#a0a0a0"/>
<circle cx="463.44" cy="166.87" r="0.51" fill="#a0a0a0"/>
<circle cx="456.79" cy="154.56" r="0.66" fill="#a0a0a0"/>
<circle cx="458.85" cy="166.57" r="0.77" fill="#a0a0a0"/>
<circle cx="458.45" cy="175.65" r="0.53" fill="#a0a0a0"/>
<circle cx="442.04" cy="164.07" r="0.43" fill="#a0a0a0"/>
<circle cx="455.03" cy="153.09" r="0.64" fill="#a0a0a0"/>
<circle cx="458.68" cy="158.77" r="0.49" fill="#a0a0a0"/>
<circle cx="442.19" cy="161.71" r="0.71" fill="#a0a0a0"/>
<circle cx="453.10" cy="159.62" r="0.43" fill="#a0a0a0"/>
<circle cx="452.48" cy="171.69" r="0.64" fill="#a0a0a0"/>
<circle cx="457.72" cy="177.18" r="0.59" fill="#a0a0a0"/>
<circle cx="456.72" cy="151.19" r="0.54" fill="#a0a0a0"/>
<circle cx="459.26" cy="154.41" r="0.75" fill="#a0a0a0"/>
<circle cx="453.26" cy="156.40" r="0.78" fill="#a0a0a0"/>
<circle cx="462.54" cy="173.28" r="0.53" fill="#a0a0a0"/>
<circle cx="443.38" cy="164.61" r="0.66" fill="#a0a0a0"/>
<circle cx="455.33" cy="167.09" r="0.44" fill="#a0a0a0"/>
<circle cx="457.20" cy="162.65" r="0.65" fill="#a0a0a0"/>
<circle cx="446.08" cy="156.71" r="0.60" fill="#a0a0a0"/>
<circle cx="449.90" cy="155.04" r="0.79" fill="#a0a0a0"/>
<circle cx="461.03" cy="174.11" r="0.48" fill="#a0a0a0"/>
<circle cx="465.48" cy="169.81" r="0.65" fill="#a0a0a0"/>
<circle cx="455.60" cy="163.54" r="0.53" fill="#a0a0a0"/>
<circle cx="448.74" cy="159.71" r="0.53" fill="#a0a0a0"/>
<circle cx="464.32" cy="170.72" r="0.53" fill="#a0a0a0"/>
<circle cx="447.14" cy="166.12" r="0.41" fill="#a0a0a0"/>
<circle cx="456.78" cy="171.25" r="0.58" fill="#a0a0a0"/>
<circle cx="446.48" cy="156.19" r="0.50" fill="#a0a0a0"/>
<circle cx="459.30" cy="170.40" r="0.60" fill="#a0a0a0"/>
<circle cx="455.34" cy="163.09" r="0.37" fill="#a0a0a0"/>
<circle cx="453.01" cy="161.15" r="0.39" fill="#a0a0a0"/>
<circle cx="450.19" cy="153.42" r="0.66" fill="#a0a0a0"/>
<circle cx="449.90" cy="175.43" r="0.38" fill="#a0a0a0"/>
<circle cx="458.93" cy="167.46" r="0.60" fill="#a0a0a0"/>
<circle cx="464.01" cy="161.64" r="0.43" fill="#a0a0a0"/>
<circle cx="463.69" cy="162.32" r="0.51" fill="#a0a0a0"/>
<circle cx="456.95" cy="164.32" r="0.70" fill="#a0a0a0"/>
<circle cx="451.87" cy="171.66" r="0.75" fill="#a0a0a0"/>
<circle cx="464.25" cy="160.66" r="0.56" fill="#a0a0a0"/>
<circle cx="442.96" cy="165.27" r="0.50" fill="#a0a0a0"/>
<circle cx="459.94" cy="158.50" r="0.62" fill="#a0a0a0"/>
<circle cx="445.43" cy="161.95" r="0.79" fill="#a0a0a0"/>
<circle cx="457.96" cy="152.41" r="0.75" fill="#a0a0a0"/>
<circle cx="459.62" cy="161.79" r="0.43" fill="#a0a0a0"/>
<circle cx="451.85" cy="177.56" r="0.60" fill="#a0a0a0"/>
<circle cx="448.57" cy="163.87" r="0.43" fill="#a0a0a0"/>
<circle cx="452.59" cy="166.97" r="0.39" fill="#a0a0a0"/>
<circle cx="461.17" cy="169.34" r="0.75" fill="#a0a0a0"/>
<circle cx="455.97" cy="155.13" r="0.59" fill="#a0a0a0"/>
<circle cx="448.05" cy="172.05" r="0.57" fill="#a0a0a0"/>
<circle cx="445.02" cy="155.70" r="0.74" fill="#a0a0a0"/>
<circle cx="456.97" cy="153.09" r="0.59" fill="#a0a0a0"/>
<circle cx="449.11" cy="167.41" r="0.41" fill="#a0a0a0"/>
<circle cx="440.42" cy="164.51" r="0.60" fill="#a0a0a0"/>
<circle cx="458.58" cy="161.98" r="0.79" fill="#a0a0a0"/>
<circle cx="454.41" cy="155.24" r="0.72" fill="#a0a0a0"/>
<circle cx="459.03" cy="176.66" r="0.79" fill="#a0a0a0"/>
<circle cx="456.97" cy="177.20" r="0.48" fill="#a0a0a0"/>
<circle cx="449.68" cy="158.54" r="0.39" fill="#a0a0a0"/>
<circle cx="441.79" cy="158.54" r="0.44" fill="#a0a0a0"/>
<circle cx="452.90" cy="172.32" r="0.76" fill="#a0a0a0"/>
<circle cx="458.90" cy="169.26" r="0.78" fill="#a0a0a0"/>
<circle cx="443.05" cy="157.20" r="0.45" fill="#a0a0a0"/>
<circle cx="448.62" cy="175.56" r="0.56" fill="#a0a0a0"/>
<circle cx="458.88" cy="158.74" r="0.55" fill="#a0a0a0"/>
<circle cx="454.97" cy="159.26" r="0.63" fill="#a0a0a0"/>
<circle cx="443.80" cy="160.84" r="0.70" fill="#a0a0a0"/>
<circle cx="462.83" cy="157.25" r="0.39" fill="#a0a0a0"/>
<circle cx="459.06" cy="174.11" r="0.78" fill="#a0a0a0"/>
<circle cx="464.82" cy="171.89" r="0.53" fill="#a0a0a0"/>
<circle cx="444.94" cy="167.93" r="0.46" fill="#a0a0a0"/>
<circle cx="459.50" cy="154.15" r="0.62" fill="#a0a0a0"/>
<circle cx="441.88" cy="169.11" r="0.56" fill="#a0a0a0"/>
<circle cx="456.79" cy="168.96" r="0.54" fill="#a0a0a0"/>
<circle cx="459.80" cy="159.50" r="0.65" fill="#a0a0a0"/>
<circle cx="448.00" cy="157.04" r="0.39" fill="#a0a0a0"/>
<circle cx="452.85" cy="168.49" r="0.55" fill="#a0a0a0"/>
<circle cx="451.38" cy="151.74" r="0.45" fill="#a0a0a0"/>
<circle cx="459.19" cy="173.17" r="0.38" fill="#a0a0a0"/>
<circle cx="457.48" cy="174.59" r="0.61" fill="#a0a0a0"/>
<circle cx="449.27" cy="164.58" r="0.36" fill="#a0a0a0"/>
<circle cx="466.38" cy="162.61" r="0.73" fill="#a0a0a0"/>
<circle cx="441.37" cy="168.66" r="0.69" fill="#a0a0a0"/>
<circle cx="450.92" cy="160.70" r="0.62" fill="#a0a0a0"/>
<circle cx="441.91" cy="169.23" r="0.63" fill="#a0a0a0"/>
<circle cx="464.51" cy="163.23" r="0.61" fill="#a0a0a0"/>
<circle cx="442.51" cy="156.72" r="0.75" fill="#a0a0a0"/>
<circle cx="457.43" cy="171.37" r="0.57" fill="#a0a0a0"/>
<circle cx="463.43" cy="171.75" r="0.42" fill="#a0a0a0"/>
<circle cx="459.04" cy="163.54" r="0.53" fill="#a0a0a0"/>
<circle cx="451.17" cy="170.69" r="0.75" fill="#a0a0a0"/>
<circle cx="458.33" cy="152.79" r="0.56" fill="#a0a0a0"/>
<circle cx="463.31" cy="168.04" r="0.51" fill="#a0a0a0"/>
<circle cx="458.51" cy="160.52" r="0.42" fill="#a0a0a0"/>
<circle cx="455.51" cy="170.91" r="0.39" fill="#a0a0a0"/>
<circle cx="457.14" cy="158.08" r="0.79" fill="#a0a0a0"/>
<circle cx="453.68" cy="164.37" r="0.70" fill="#a0a0a0"/>
<circle cx="459.27" cy="160.98" r="0.65" fill="#a0a0a0"/>
<circle cx="454.20" cy="177.12" r="0.50" fill="#a0a0a0"/>
<circle cx="443.34" cy="170.39" r="0.55" fill="#a0a0a0"/>
<circle cx="456.65" cy="160.67" r="0.44" fill="#a0a0a0"/>
<circle cx="453.58" cy="154.92" r="0.48" fill="#a0a0a0"/>
<circle cx="451.51" cy="164.33" r="0.66" fill="#a0a0a0"/>
<circle cx="454.85" cy="172.28" r="0.37" fill="#a0a0a0"/>
<circle cx="450.26" cy="172.13" r="0.58" fill="#a0a0a0"/>
<circle cx="447.75" cy="155.99" r="0.58" fill="#a0a0a0"/>
<circle cx="455.06" cy="173.00" r="0.37" fill="#a0a0a0"/>
<circle cx="444.49" cy="155.78" r="0.46" fill="#a0a0a0"/>
<circle cx="453.46" cy="152.85" r="0.68" fill="#a0a0a0"/>
<circle cx="444.94" cy="159.09" r="0.77" fill="#a0a0a0"/>
<circle cx="453.95" cy="156.98" r="0.47" fill="#a0a0a0"/>
<circle cx="459.78" cy="152.61" r="0.47" fill="#a0a0a0"/>
<circle cx="456.33" cy="158.48" r="0.54" fill="#a0a0a0"/>
<circle cx="459.71" cy="166.15" r="0.59" fill="#a0a0a0"/>
<circle cx="466.14" cy="160.37" r="0.55" fill="#a0a0a0"/>
<circle cx="463.44" cy="163.91" r="0.56" fill="#a0a0a0"/>
<circle cx="462.00" cy="171.93" r="0.60" fill="#a0a0a0"/>
<circle cx="460.90" cy="158.84" r="0.76" fill="#a0a0a0"/>
<circle cx="460.61" cy="164.59" r="0.66" fill="#a0a0a0"/>
<circle cx="448.13" cy="164.60" r="0.43" fill="#a0a0a0"/>
<circle cx="458.00" cy="175.88" r="0.40" fill="#a0a0a0"/>
<circle cx="460.02" cy="157.76" r="0.68" fill="#a0a0a0"/>
<circle cx="444.82" cy="154.17" r="0.65" fill="#a0a0a0"/>
<circle cx="459.00" cy="170.96" r="0.67" fill="#a0a0a0"/>
<circle cx="461.11" cy="164.32" r="0.44" fill="#a0a0a0"/>
<circle cx="444.97" cy="172.11" r="0.44" fill="#a0a0a0"/>
<circle cx="447.01" cy="163.37" r="0.65" fill="#a0a0a0"/>
<circle cx="456.37" cy="165.46" r="0.43" fill="#a0a0a0"/>
<circle cx="456.12" cy="165.56" r="0.50" fill="#a0a0a0"/>
<circle cx="450.14" cy="176.01" r="0.68" fill="#a0a0a0"/>
<circle cx="451.50" cy="159.05" r="0.57" fill="#a0a0a0"/>
<circle cx="462.87" cy="170.23" r="0.37" fill="#a0a0a0"/>
<circle cx="461.14" cy="163.99" r="0.73" fill="#a0a0a0"/>
<circle cx="456.01" cy="151.21" r="0.72" fill="#a0a0a0"/>
<circle cx="450.57" cy="153.80" r="0.38" fill="#a0a0a0"/>
<circle cx="445.84" cy="155.21" r="0.55" fill="#a0a0a0"/>
<circle cx="457.34" cy="161.30" r="0.38" fill="#a0a0a0"/>
<circle cx="444.21" cy="166.36" r="0.36" fill="#a0a0a0"/>
<circle cx="449.37" cy="165.76" r="0.75" fill="#a0a0a0"/>
<circle cx="461.19" cy="160.36" r="0.68" fill="#a0a0a0"/>
<circle cx="456.56" cy="173.29" r="0.58" fill="#a0a0a0"/>
<circle cx="451.59" cy="155.95" r="0.39" fill="#a0a0a0"/>
<circle cx="443.38" cy="162.97" r="0.45" fill="#a0a0a0"/>
<circle cx="458.93" cy="155.07" r="0.41" fill="#a0a0a0"/>
<circle cx="449.50" cy="158.44" r="0.37" fill="#a0a0a0"/>
<circle cx="458.41" cy="161.73" r="0.53" fill="#a0a0a0"/>
<circle cx="445.31" cy="171.08" r="0.50" fill="#a0a0a0"/>
<circle cx="446.70" cy="172.40" r="0.63" fill="#a0a0a0"/>
<circle cx="456.13" cy="168.88" r="0.54" fill="#a0a0a0"/>
<circle cx="451.80" cy="176.70" r="0.38" fill="#a0a0a0"/>
<circle cx="454.88" cy="165.44" r="0.75" fill="#a0a0a0"/>
<circle cx="463.02" cy="169.51" r="0.35" fill="#a0a0a0"/>
<circle cx="447.26" cy="153.70" r="0.37" fill="#a0a0a0"/>
<circle cx="461.36" cy="159.34" r="0.70" fill="#a0a0a0"/>
<circle cx="453.96" cy="159.80" r="0.54" fill="#a0a0a0"/>
<circle cx="456.33" cy="155.85" r="0.45" fill="#a0a0a0"/>
<circle cx="441.13" cy="163.72" r="0.79" fill="#a0a0a0"/>
<circle cx="456.70" cy="156.47" r="0.36" fill="#a0a0a0"/>
<circle cx="454.83" cy="160.28" r="0.73" fill="#a0a0a0"/>
<circle cx="463.25" cy="165.86" r="0.73" fill="#a0a0a0"/>
<circle cx="445.56" cy="154.68" r="0.74" fill="#a0a0a0"/>
<circle cx="443.46" cy="160.71" r="0.57" fill="#a0a0a0"/>
<circle cx="460.31" cy="167.38" r="0.57" fill="#a0a0a0"/>
<circle cx="462.59" cy="162.42" r="0.52" fill="#a0a0a0"/>
<circle cx="446.98" cy="160.23" r="0.39" fill="#a0a0a0"/>
<circle cx="463.70" cy="161.90" r="0.52" fill="#a0a0a0"/>
<circle cx="463.66" cy="162.70" r="0.49" fill="#a0a0a0"/>
<circle cx="449.37" cy="157.86" r="0.78" fill="#a0a0a0"/>
<circle cx="457.91" cy="165.86" r="0.63" fill="#a0a0a0"/>
<circle cx="444.21" cy="168.77" r="0.53" fill="#a0a0a0"/>
<circle cx="456.37" cy="176.53" r="0.78" fill="#a0a0a0"/>
<circle cx="460.98" cy="155.56" r="0.57" fill="#a0a0a0"/>
<circle cx="451.04" cy="174.34" r="0.59" fill="#a0a0a0"/>
<circle cx="462.84" cy="165.45" r="0.40" fill="#a0a0a0"/>
<circle cx="448.93" cy="173.31" r="0.39" fill="#a0a0a0"/>
<circle cx="447.25" cy="156.67" r="0.65" fill="#a0a0a0"/>
<circle cx="461.83" cy="169.73" r="0.57" fill="#a0a0a0"/>
<circle cx="449.09" cy="171.26" r="0.54" fill="#a0a0a0"/>
<ellipse cx="451.12" cy="168.37" rx="0.44" ry="0.36" transform="rotate(32 451.12 168.37)" fill="#666"/>
<ellipse cx="445.57" cy="172.05" rx="0.57" ry="0.41" transform="rotate(120 445.57 172.05)" fill="#666"/>
<ellipse cx="445.66" cy="161.31" rx="0.54" ry="0.34" transform="rotate(53 445.66 161.31)" fill="#666"/>
<ellipse cx="465.51" cy="170.25" rx="0.50" ry="0.49" transform="rotate(125 465.51 170.25)" fill="#666"/>
<ellipse cx="447.91" cy="154.70" rx="0.56" ry="0.38" transform="rotate(176 447.91 154.70)" fill="#555"/>
<ellipse cx="450.98" cy="166.02" rx="0.63" ry="0.59" transform="rotate(57 450.98 166.02)" fill="#777"/>
<ellipse cx="451.48" cy="155.71" rx="0.43" ry="0.36" transform="rotate(26 451.48 155.71)" fill="#555"/>
<ellipse cx="444.06" cy="171.66" rx="0.57" ry="0.38" transform="rotate(81 444.06 171.66)" fill="#777"/>
<ellipse cx="451.76" cy="176.74" rx="0.42" ry="0.32" transform="rotate(138 451.76 176.74)" fill="#555"/>
<ellipse cx="450.66" cy="163.59" rx="0.68" ry="0.42" transform="rotate(118 450.66 163.59)" fill="#666"/>
<ellipse cx="455.60" cy="163.88" rx="0.64" ry="0.51" transform="rotate(139 455.60 163.88)" fill="#666"/>
<ellipse cx="452.60" cy="169.37" rx="0.46" ry="0.43" transform="rotate(20 452.60 169.37)" fill="#555"/>
<ellipse cx="452.62" cy="157.80" rx="0.50" ry="0.34" transform="rotate(108 452.62 157.80)" fill="#777"/>
<ellipse cx="452.95" cy="151.19" rx="0.62" ry="0.42" transform="rotate(171 452.95 151.19)" fill="#555"/>
<ellipse cx="449.32" cy="172.21" rx="0.61" ry="0.39" transform="rotate(11 449.32 172.21)" fill="#777"/>
<ellipse cx="450.66" cy="174.86" rx="0.40" ry="0.34" transform="rotate(112 450.66 174.86)" fill="#666"/>
<ellipse cx="456.51" cy="154.05" rx="0.60" ry="0.58" transform="rotate(70 456.51 154.05)" fill="#666"/>
<ellipse cx="463.69" cy="163.88" rx="0.52" ry="0.51" transform="rotate(69 463.69 163.88)" fill="#777"/>
<ellipse cx="452.91" cy="167.87" rx="0.48" ry="0.39" transform="rotate(53 452.91 167.87)" fill="#666"/>
<ellipse cx="464.75" cy="166.54" rx="0.46" ry="0.41" transform="rotate(7 464.75 166.54)" fill="#555"/>
<ellipse cx="454.98" cy="167.46" rx="0.60" ry="0.57" transform="rotate(69 454.98 167.46)" fill="#777"/>
<ellipse cx="447.73" cy="163.49" rx="0.52" ry="0.34" transform="rotate(111 447.73 163.49)" fill="#555"/>
<ellipse cx="460.39" cy="172.91" rx="0.42" ry="0.32" transform="rotate(127 460.39 172.91)" fill="#555"/>
<ellipse cx="441.32" cy="165.62" rx="0.65" ry="0.64" transform="rotate(10 441.32 165.62)" fill="#777"/>
<ellipse cx="457.10" cy="161.31" rx="0.44" ry="0.34" transform="rotate(44 457.10 161.31)" fill="#666"/>
<ellipse cx="456.44" cy="166.21" rx="0.55" ry="0.36" transform="rotate(128 456.44 166.21)" fill="#555"/>
<ellipse cx="452.30" cy="153.02" rx="0.53" ry="0.50" transform="rotate(21 452.30 153.02)" fill="#666"/>
<ellipse cx="458.94" cy="152.13" rx="0.54" ry="0.37" transform="rotate(93 458.94 152.13)" fill="#777"/>
<ellipse cx="447.63" cy="174.98" rx="0.67" ry="0.55" transform="rotate(136 447.63 174.98)" fill="#777"/>
<ellipse cx="444.31" cy="174.37" rx="0.70" ry="0.56" transform="rotate(35 444.31 174.37)" fill="#555"/>
<ellipse cx="447.05" cy="165.38" rx="0.50" ry="0.30" transform="rotate(58 447.05 165.38)" fill="#666"/>
<ellipse cx="463.84" cy="160.99" rx="0.53" ry="0.34" transform="rotate(23 463.84 160.99)" fill="#555"/>
<ellipse cx="443.81" cy="163.84" rx="0.55" ry="0.53" transform="rotate(178 443.81 163.84)" fill="#777"/>
<ellipse cx="460.19" cy="165.35" rx="0.46" ry="0.44" transform="rotate(77 460.19 165.35)" fill="#666"/>
<ellipse cx="457.42" cy="162.99" rx="0.59" ry="0.53" transform="rotate(142 457.42 162.99)" fill="#555"/>
<ellipse cx="456.89" cy="153.41" rx="0.54" ry="0.47" transform="rotate(42 456.89 153.41)" fill="#666"/>
<ellipse cx="455.34" cy="174.05" rx="0.57" ry="0.35" transform="rotate(85 455.34 174.05)" fill="#555"/>
<ellipse cx="443.46" cy="165.45" rx="0.44" ry="0.43" transform="rotate(112 443.46 165.45)" fill="#555"/>
<ellipse cx="447.16" cy="155.69" rx="0.62" ry="0.40" transform="rotate(85 447.16 155.69)" fill="#777"/>
<ellipse cx="445.19" cy="170.66" rx="0.63" ry="0.54" transform="rotate(148 445.19 170.66)" fill="#777"/>
<ellipse cx="448.01" cy="167.75" rx="0.68" ry="0.56" transform="rotate(12 448.01 167.75)" fill="#777"/>
<ellipse cx="450.11" cy="159.59" rx="0.58" ry="0.50" transform="rotate(147 450.11 159.59)" fill="#666"/>
<ellipse cx="466.31" cy="164.04" rx="0.57" ry="0.52" transform="rotate(84 466.31 164.04)" fill="#555"/>
<ellipse cx="462.15" cy="159.81" rx="0.53" ry="0.41" transform="rotate(61 462.15 159.81)" fill="#666"/>
<ellipse cx="462.46" cy="164.52" rx="0.51" ry="0.42" transform="rotate(37 462.46 164.52)" fill="#666"/>
<ellipse cx="440.78" cy="168.45" rx="0.51" ry="0.39" transform="rotate(23 440.78 168.45)" fill="#777"/>
<ellipse cx="441.30" cy="159.55" rx="0.50" ry="0.39" transform="rotate(101 441.30 159.55)" fill="#555"/>
<ellipse cx="454.32" cy="157.82" rx="0.45" ry="0.36" transform="rotate(93 454.32 157.82)" fill="#555"/>
<ellipse cx="456.99" cy="177.17" rx="0.57" ry="0.35" transform="rotate(13 456.99 177.17)" fill="#555"/>
<ellipse cx="453.24" cy="165.15" rx="0.49" ry="0.47" transform="rotate(172 453.24 165.15)" fill="#666"/>
<ellipse cx="465.44" cy="161.27" rx="0.42" ry="0.30" transform="rotate(171 465.44 161.27)" fill="#555"/>
<ellipse cx="459.42" cy="169.36" rx="0.48" ry="0.33" transform="rotate(120 459.42 169.36)" fill="#777"/>
<ellipse cx="447.37" cy="167.62" rx="0.44" ry="0.34" transform="rotate(93 447.37 167.62)" fill="#555"/>
<ellipse cx="458.97" cy="156.88" rx="0.58" ry="0.37" transform="rotate(117 458.97 156.88)" fill="#777"/>
<ellipse cx="451.57" cy="156.31" rx="0.69" ry="0.67" transform="rotate(55 451.57 156.31)" fill="#666"/>
<ellipse cx="452.05" cy="159.94" rx="0.64" ry="0.40" transform="rotate(148 452.05 159.94)" fill="#777"/>
<ellipse cx="460.09" cy="168.51" rx="0.67" ry="0.53" transform="rotate(33 460.09 168.51)" fill="#777"/>
<ellipse cx="456.82" cy="174.86" rx="0.58" ry="0.37" transform="rotate(104 456.82 174.86)" fill="#666"/>
<ellipse cx="455.60" cy="153.13" rx="0.68" ry="0.47" transform="rotate(31 455.60 153.13)" fill="#777"/>
<ellipse cx="444.90" cy="156.92" rx="0.53" ry="0.44" transform="rotate(146 444.90 156.92)" fill="#555"/>
</g>
<rect x="474.40" y="148.20" width="31.20" height="32.00" fill="#f1f1f1"/>
<g filter="url(#pblur)">
<circle cx="490.00" cy="164.20" r="15.00" fill="#d8d8d8" stroke="#4a4a4a" stroke-width="0.9"/>
<circle cx="493.25" cy="161.63" r="0.35" fill="#bcbcbc"/>
<circle cx="480.32" cy="156.00" r="0.73" fill="#bcbcbc"/>
<circle cx="488.63" cy="154.36" r="0.45" fill="#bcbcbc"/>
<circle cx="501.51" cy="161.77" r="0.49" fill="#bcbcbc"/>
<circle cx="501.82" cy="169.34" r="0.60" fill="#bcbcbc"/>
<circle cx="496.86" cy="165.02" r="0.70" fill="#bcbcbc"/>
<circle cx="495.32" cy="161.95" r="0.77" fill="#bcbcbc"/>
<circle cx="477.33" cy="164.18" r="0.37" fill="#bcbcbc"/>
<circle cx="482.58" cy="166.72" r="0.55" fill="#bcbcbc"/>
<circle cx="493.56" cy="176.52" r="0.41" fill="#bcbcbc"/>
<circle cx="484.81" cy="163.01" r="0.63" fill="#bcbcbc"/>
<circle cx="497.08" cy="163.32" r="0.41" fill="#bcbcbc"/>
<circle cx="499.72" cy="158.22" r="0.62" fill="#bcbcbc"/>
<circle cx="478.90" cy="168.07" r="0.65" fill="#bcbcbc"/>
<circle cx="486.90" cy="175.33" r="0.50" fill="#bcbcbc"/>
<circle cx="492.50" cy="174.67" r="0.64" fill="#bcbcbc"/>
<circle cx="482.16" cy="159.40" r="0.67" fill="#bcbcbc"/>
<circle cx="498.38" cy="155.96" r="0.79" fill="#bcbcbc"/>
<circle cx="495.78" cy="175.27" r="0.67" fill="#bcbcbc"/>
<circle cx="485.69" cy="176.19" r="0.60" fill="#bcbcbc"/>
<circle cx="495.39" cy="163.55" r="0.60" fill="#bcbcbc"/>
<circle cx="487.99" cy="166.48" r="0.35" fill="#bcbcbc"/>
<circle cx="495.11" cy="154.37" r="0.57" fill="#bcbcbc"/>
<circle cx="495.90" cy="176.02" r="0.72" fill="#bcbcbc"/>
<circle cx="486.86" cy="169.63" r="0.53" fill="#bcbcbc"/>
<circle cx="502.45" cy="162.70" r="0.61" fill="#bcbcbc"/>
<circle cx="499.12" cy="173.73" r="0.36" fill="#bcbcbc"/>
<circle cx="502.49" cy="164.09" r="0.57" fill="#bcbcbc"/>
<circle cx="479.37" cy="163.34" r="0.76" fill="#bcbcbc"/>
<circle cx="497.20" cy="172.62" r="0.56" fill="#bcbcbc"/>
<circle cx="502.05" cy="163.04" r="0.39" fill="#bcbcbc"/>
<circle cx="488.92" cy="175.48" r="0.53" fill="#bcbcbc"/>
<circle cx="489.91" cy="158.24" r="0.45" fill="#bcbcbc"/>
<circle cx="494.05" cy="163.21" r="0.64" fill="#bcbcbc"/>
<circle cx="495.82" cy="168.96" r="0.64" fill="#bcbcbc"/>
<circle cx="479.33" cy="164.24" r="0.55" fill="#bcbcbc"/>
<circle cx="502.48" cy="163.08" r="0.59" fill="#bcbcbc"/>
<circle cx="492.63" cy="153.15" r="0.73" fill="#bcbcbc"/>
<circle cx="488.95" cy="161.16" r="0.77" fill="#bcbcbc"/>
<circle cx="489.68" cy="153.82" r="0.61" fill="#bcbcbc"/>
<circle cx="484.30" cy="155.45" r="0.59" fill="#bcbcbc"/>
<circle cx="500.28" cy="165.69" r="0.59" fill="#bcbcbc"/>
<circle cx="492.56" cy="161.32" r="0.57" fill="#bcbcbc"/>
<circle cx="481.16" cy="154.89" r="0.73" fill="#bcbcbc"/>
<circle cx="493.40" cy="173.23" r="0.79" fill="#bcbcbc"/>
<circle cx="478.08" cy="160.80" r="0.45" fill="#bcbcbc"/>
<circle cx="477.81" cy="167.79" r="0.54" fill="#bcbcbc"/>
<circle cx="485.32" cy="177.12" r="0.54" fill="#bcbcbc"/>
<circle cx="490.93" cy="155.55" r="0.58" fill="#bcbcbc"/>
<circle cx="492.27" cy="152.21" r="0.67" fill="#bcbcbc"/>
<circle cx="479.02" cy="160.40" r="0.59" fill="#bcbcbc"/>
<circle cx="489.70" cy="150.74" r="0.76" fill="#bcbcbc"/>
<circle cx="496.43" cy="155.60" r="0.65" fill="#bcbcbc"/>
<circle cx="488.08" cy="156.58" r="0.44" fill="#bcbcbc"/>
<circle cx="488.37" cy="174.86" r="0.46" fill="#bcbcbc"/>
<circle cx="491.22" cy="176.32" r="0.46" fill="#bcbcbc"/>
<circle cx="497.34" cy="168.54" r="0.50" fill="#bcbcbc"/>
<circle cx="480.03" cy="159.17" r="0.53" fill="#bcbcbc"/>
<circle cx="486.18" cy="170.25" r="0.48" fill="#bcbcbc"/>
<circle cx="480.94" cy="155.10" r="0.36" fill="#bcbcbc"/>
<circle cx="499.61" cy="161.78" r="0.54" fill="#bcbcbc"/>
<circle cx="487.06" cy="174.26" r="0.76" fill="#bcbcbc"/>
<circle cx="498.13" cy="157.94" r="0.70" fill="#bcbcbc"/>
<circle cx="498.21" cy="165.80" r="0.53" fill="#bcbcbc"/>
<circle cx="484.93" cy="163.75" r="0.68" fill="#bcbcbc"/>
<circle cx="498.52" cy="161.49" r="0.69" fill="#bcbcbc"/>
<circle cx="485.09" cy="161.49" r="0.61" fill="#bcbcbc"/>
<circle cx="487.18" cy="167.11" r="0.63" fill="#bcbcbc"/>
<circle cx="482.60" cy="153.98" r="0.43" fill="#bcbcbc"/>
<circle cx="493.34" cy="164.74" r="0.55" fill="#bcbcbc"/>
<circle cx="493.08" cy="171.16" r="0.74" fill="#bcbcbc"/>
<circle cx="495.44" cy="152.56" r="0.53" fill="#bcbcbc"/>
<circle cx="499.59" cy="162.09" r="0.39" fill="#bcbcbc"/>
<circle cx="497.13" cy="175.11" r="0.78" fill="#bcbcbc"/>
<circle cx="483.96" cy="156.02" r="0.50" fill="#bcbcbc"/>
<circle cx="488.38" cy="169.75" r="0.64" fill="#bcbcbc"/>
<circle cx="481.26" cy="167.10" r="0.58" fill="#bcbcbc"/>
<circle cx="493.22" cy="171.08" r="0.36" fill="#bcbcbc"/>
<circle cx="495.18" cy="170.11" r="0.68" fill="#bcbcbc"/>
<circle cx="490.52" cy="172.58" r="0.77" fill="#bcbcbc"/>
<circle cx="492.41" cy="154.45" r="0.74" fill="#bcbcbc"/>
<circle cx="482.67" cy="158.43" r="0.45" fill="#bcbcbc"/>
<circle cx="489.92" cy="159.95" r="0.52" fill="#bcbcbc"/>
<circle cx="490.08" cy="153.93" r="0.63" fill="#bcbcbc"/>
<circle cx="481.07" cy="154.96" r="0.62" fill="#bcbcbc"/>
<circle cx="480.18" cy="159.77" r="0.50" fill="#bcbcbc"/>
<circle cx="494.57" cy="170.65" r="0.61" fill="#bcbcbc"/>
<circle cx="491.25" cy="162.77" r="0.76" fill="#bcbcbc"/>
<circle cx="494.78" cy="167.58" r="0.52" fill="#bcbcbc"/>
<circle cx="498.27" cy="160.75" r="0.69" fill="#bcbcbc"/>
<circle cx="496.66" cy="161.92" r="0.78" fill="#bcbcbc"/>
<circle cx="501.22" cy="168.27" r="0.75" fill="#bcbcbc"/>
<circle cx="489.28" cy="169.03" r="0.50" fill="#bcbcbc"/>
<circle cx="483.60" cy="173.32" r="0.67" fill="#bcbcbc"/>
<circle cx="498.28" cy="159.91" r="0.72" fill="#bcbcbc"/>
<circle cx="488.34" cy="161.84" r="0.41" fill="#bcbcbc"/>
<circle cx="486.13" cy="175.16" r="0.71" fill="#bcbcbc"/>
<circle cx="496.22" cy="168.80" r="0.36" fill="#bcbcbc"/>
<circle cx="500.94" cy="168.18" r="0.73" fill="#bcbcbc"/>
<circle cx="478.80" cy="162.02" r="0.74" fill="#bcbcbc"/>
<circle cx="483.65" cy="172.27" r="0.56" fill="#bcbcbc"/>
<circle cx="482.21" cy="159.21" r="0.79" fill="#bcbcbc"/>
<circle cx="492.37" cy="166.99" r="0.49" fill="#bcbcbc"/>
<circle cx="497.39" cy="156.14" r="0.45" fill="#bcbcbc"/>
<circle cx="486.13" cy="153.71" r="0.58" fill="#bcbcbc"/>
<circle cx="487.49" cy="165.37" r="0.35" fill="#bcbcbc"/>
<circle cx="496.58" cy="160.95" r="0.45" fill="#bcbcbc"/>
<circle cx="495.08" cy="161.28" r="0.53" fill="#bcbcbc"/>
<circle cx="498.67" cy="158.96" r="0.47" fill="#bcbcbc"/>
<circle cx="494.61" cy="169.32" r="0.50" fill="#bcbcbc"/>
<circle cx="484.26" cy="152.01" r="0.59" fill="#bcbcbc"/>
<circle cx="479.82" cy="168.08" r="0.38" fill="#bcbcbc"/>
<circle cx="490.23" cy="163.78" r="0.59" fill="#bcbcbc"/>
<circle cx="490.49" cy="170.73" r="0.66" fill="#bcbcbc"/>
<circle cx="488.00" cy="152.38" r="0.64" fill="#bcbcbc"/>
<circle cx="497.63" cy="160.51" r="0.38" fill="#bcbcbc"/>
<circle cx="493.89" cy="160.55" r="0.60" fill="#bcbcbc"/>
<circle cx="497.64" cy="153.95" r="0.67" fill="#bcbcbc"/>
<circle cx="490.60" cy="153.74" r="0.52" fill="#bcbcbc"/>
<circle cx="502.17" cy="161.75" r="0.61" fill="#bcbcbc"/>
<ellipse cx="500.16" cy="157.79" rx="0.56" ry="0.41" transform="rotate(89 500.16 157.79)" fill="#888"/>
<ellipse cx="488.77" cy="165.98" rx="0.69" ry="0.44" transform="rotate(115 488.77 165.98)" fill="#888"/>
<ellipse cx="489.51" cy="165.89" rx="0.69" ry="0.63" transform="rotate(132 489.51 165.89)" fill="#888"/>
<ellipse cx="493.18" cy="165.22" rx="0.65" ry="0.48" transform="rotate(171 493.18 165.22)" fill="#888"/>
<ellipse cx="480.49" cy="160.99" rx="0.48" ry="0.43" transform="rotate(21 480.49 160.99)" fill="#777"/>
<ellipse cx="479.72" cy="166.93" rx="0.41" ry="0.38" transform="rotate(37 479.72 166.93)" fill="#777"/>
</g>
<text x="451.00" y="188.00" font-size="6.1" text-anchor="middle" font-weight="bold" fill="#111" stroke="#111" stroke-width="0.1" textLength="17.2" lengthAdjust="spacingAndGlyphs">DMSO</text>
<text x="473.50" y="188.00" font-size="6.1" text-anchor="start" font-weight="bold" fill="#111" stroke="#111" stroke-width="0.1" textLength="45.5" lengthAdjust="spacingAndGlyphs">1 µmol/L ART558</text>
<text x="1.60" y="210.60" font-size="12.5" text-anchor="start" font-weight="bold" fill="#111" stroke="#111" stroke-width="0.45">C</text>
<line x1="50.40" y1="216.80" x2="50.40" y2="305.40" stroke="#111" stroke-width="0.9"/>
<line x1="50.00" y1="305.00" x2="142.30" y2="305.00" stroke="#111" stroke-width="0.9"/>
<line x1="48.10" y1="305.00" x2="50.40" y2="305.00" stroke="#111" stroke-width="0.8"/>
<text x="47.00" y="307.20" font-size="6.2" text-anchor="end" font-weight="bold" fill="#111" stroke="#111" stroke-width="0.18">0</text>
<line x1="48.10" y1="275.90" x2="50.40" y2="275.90" stroke="#111" stroke-width="0.8"/>
<text x="47.00" y="278.10" font-size="6.2" text-anchor="end" font-weight="bold" fill="#111" stroke="#111" stroke-width="0.18">1</text>
<line x1="48.10" y1="246.80" x2="50.40" y2="246.80" stroke="#111" stroke-width="0.8"/>
<text x="47.00" y="249.00" font-size="6.2" text-anchor="end" font-weight="bold" fill="#111" stroke="#111" stroke-width="0.18">2</text>
<line x1="48.10" y1="217.70" x2="50.40" y2="217.70" stroke="#111" stroke-width="0.8"/>
<text x="47.00" y="219.90" font-size="6.2" text-anchor="end" font-weight="bold" fill="#111" stroke="#111" stroke-width="0.18">3</text>
<line x1="71.90" y1="305.00" x2="71.90" y2="307.40" stroke="#111" stroke-width="0.8"/>
<line x1="121.00" y1="305.00" x2="121.00" y2="307.40" stroke="#111" stroke-width="0.8"/>
<text x="34.40" y="262.50" font-size="7.1" text-anchor="middle" font-weight="bold" fill="#111" stroke="#111" stroke-width="0.18" transform="rotate(-90 34.4 262.5)">Surviving fraction (%) at 6 Gy</text>
<line x1="62.75" y1="237.30" x2="62.75" y2="230.20" stroke="#333" stroke-width="0.8"/>
<line x1="60.15" y1="230.20" x2="65.35" y2="230.20" stroke="#333" stroke-width="0.8"/>
<rect x="56.70" y="237.30" width="12.10" height="67.70" fill="#0d0d0d"/>
<line x1="81.45" y1="276.70" x2="81.45" y2="272.30" stroke="#333" stroke-width="0.8"/>
<line x1="78.85" y1="272.30" x2="84.05" y2="272.30" stroke="#333" stroke-width="0.8"/>
<rect x="75.90" y="277.20" width="11.10" height="27.80" fill="#6b52ab" stroke="#2a1a4c" stroke-width="1.0"/>
<line x1="112.00" y1="284.00" x2="112.00" y2="278.60" stroke="#666" stroke-width="0.8"/>
<line x1="109.40" y1="278.60" x2="114.60" y2="278.60" stroke="#666" stroke-width="0.8"/>
<rect x="106.00" y="284.00" width="12.00" height="21.00" fill="#0d0d0d"/>
<line x1="130.50" y1="283.00" x2="130.50" y2="276.00" stroke="#666" stroke-width="0.8"/>
<line x1="127.90" y1="276.00" x2="133.10" y2="276.00" stroke="#666" stroke-width="0.8"/>
<rect x="125.30" y="283.50" width="10.40" height="21.50" fill="#6b52ab" stroke="#2a1a4c" stroke-width="1.0"/>
<path d="M63.5,225.5 L63.5,219.2 L81.8,219.2 L81.8,266.5" fill="none" stroke="#111" stroke-width="1.0"/>
<text x="72.70" y="217.60" font-size="9.5" text-anchor="middle" font-weight="bold" fill="#111" stroke="#111" stroke-width="0.18">**</text>
<rect x="96.00" y="213.60" width="10.50" height="5.40" fill="#0d0d0d"/>
<rect x="96.50" y="228.30" width="9.90" height="5.00" fill="#5a479e" stroke="#2a1a4c" stroke-width="1.0"/>
<text x="110.50" y="219.40" font-size="7.6" text-anchor="start" font-weight="bold" fill="#111" stroke="#111" stroke-width="0.18">DMSO</text>
<text x="110.50" y="233.10" font-size="7.6" text-anchor="start" font-weight="bold" fill="#111" stroke="#111" stroke-width="0.18">3 µmolL ART558</text>
<text x="53.10" y="318.20" font-size="8.7" text-anchor="start" font-weight="bold" fill="#111" stroke="#111" stroke-width="0.18" textLength="37.7" lengthAdjust="spacingAndGlyphs">U2OS WT</text>
<text x="106.50" y="318.20" font-size="8.7" text-anchor="start" font-weight="bold" fill="#111" stroke="#111" stroke-width="0.18" textLength="28.9" lengthAdjust="spacingAndGlyphs">Polθ ko</text>
<defs><linearGradient id="bg1" x1="0" y1="0" x2="0" y2="1"><stop offset="0" stop-color="#e6e6e6"/><stop offset="1" stop-color="#dadada"/></linearGradient><clipPath id="cp1"><rect x="76.00" y="324.80" width="13.90" height="25.50"/></clipPath><filter id="bf1" x="-30%" y="-80%" width="160%" height="260%"><feGaussianBlur stdDeviation="0.8"/></filter></defs>
<g clip-path="url(#cp1)"><rect x="76.00" y="324.80" width="13.90" height="25.50" fill="url(#bg1)"/>
<g filter="url(#bf1)">
<path d="M77.00,332.70 L89.00,336.20 L89.00,339.80 L77.00,336.30 Z" fill="#0a0a0a" opacity="1.0"/>
<path d="M77.00,337.50 L89.00,340.00 L89.00,344.00 L77.00,341.50 Z" fill="#888" opacity="0.6"/>
<path d="M77.00,342.50 L89.00,345.00 L89.00,350.00 L77.00,347.50 Z" fill="#999" opacity="0.55"/>
<path d="M77.00,328.50 L89.00,329.50 L89.00,331.50 L77.00,330.50 Z" fill="#bbb" opacity="0.6"/>
</g></g>
<defs><linearGradient id="bg2" x1="0" y1="0" x2="0" y2="1"><stop offset="0" stop-color="#e8e8e8"/><stop offset="1" stop-color="#e0e0e0"/></linearGradient><clipPath id="cp2"><rect x="91.80" y="324.80" width="13.40" height="25.50"/></clipPath><filter id="bf2" x="-30%" y="-80%" width="160%" height="260%"><feGaussianBlur stdDeviation="0.8"/></filter></defs>
<g clip-path="url(#cp2)"><rect x="91.80" y="324.80" width="13.40" height="25.50" fill="url(#bg2)"/>
<g filter="url(#bf2)">
<path d="M92.50,329.90 L104.50,330.40 L104.50,332.60 L92.50,332.10 Z" fill="#b0b0b0" opacity="0.8"/>
<path d="M92.50,346.50 L104.50,346.50 L104.50,349.10 L92.50,349.10 Z" fill="#8a8a8a" opacity="0.9"/>
</g></g>
<defs><linearGradient id="bg3" x1="0" y1="0" x2="0" y2="1"><stop offset="0" stop-color="#e4e4e4"/><stop offset="1" stop-color="#bdbdbd"/></linearGradient><clipPath id="cp3"><rect x="76.00" y="352.00" width="13.90" height="16.50"/></clipPath><filter id="bf3" x="-30%" y="-80%" width="160%" height="260%"><feGaussianBlur stdDeviation="0.8"/></filter></defs>
<g clip-path="url(#cp3)"><rect x="76.00" y="352.00" width="13.90" height="16.50" fill="url(#bg3)"/>
<g filter="url(#bf3)">
<path d="M76.50,358.80 L89.50,359.80 L89.50,363.00 L76.50,362.00 Z" fill="#050505" opacity="1.0"/>
<path d="M76.50,362.75 L89.50,362.75 L89.50,366.25 L76.50,366.25 Z" fill="#999" opacity="0.7"/>
<path d="M76.50,355.50 L89.50,355.50 L89.50,357.50 L76.50,357.50 Z" fill="#bbb" opacity="0.5"/>
</g></g>
<defs><linearGradient id="bg4" x1="0" y1="0" x2="0" y2="1"><stop offset="0" stop-color="#e2e2e2"/><stop offset="1" stop-color="#b8b8b8"/></linearGradient><clipPath id="cp4"><rect x="91.80" y="352.00" width="13.40" height="16.50"/></clipPath><filter id="bf4" x="-30%" y="-80%" width="160%" height="260%"><feGaussianBlur stdDeviation="0.8"/></filter></defs>
<g clip-path="url(#cp4)"><rect x="91.80" y="352.00" width="13.40" height="16.50" fill="url(#bg4)"/>
<g filter="url(#bf4)">
<path d="M92.00,359.30 L105.00,360.30 L105.00,364.70 L92.00,363.70 Z" fill="#050505" opacity="1.0"/>
<path d="M92.00,364.50 L105.00,364.50 L105.00,367.50 L92.00,367.50 Z" fill="#888" opacity="0.7"/>
<path d="M92.00,356.00 L105.00,356.00 L105.00,358.00 L92.00,358.00 Z" fill="#aaa" opacity="0.5"/>
</g></g>
<text x="44.80" y="346.90" font-size="7.0" text-anchor="start" font-weight="bold" fill="#111" stroke="#111" stroke-width="0.18" textLength="24.8" lengthAdjust="spacingAndGlyphs">250 KDa</text>
<line x1="71.60" y1="344.00" x2="74.60" y2="344.00" stroke="#111" stroke-width="1.2"/>
<text x="110.90" y="340.70" font-size="8.6" text-anchor="start" font-weight="bold" fill="#111" stroke="#111" stroke-width="0.18" textLength="17.0" lengthAdjust="spacingAndGlyphs">Polθ</text>
<text x="110.90" y="363.90" font-size="8.2" text-anchor="start" font-weight="bold" fill="#111" stroke="#111" stroke-width="0.18" textLength="30.4" lengthAdjust="spacingAndGlyphs">Vinculin</text>
<text x="76.90" y="377.60" font-size="8.6" text-anchor="start" font-weight="bold" fill="#111" stroke="#111" stroke-width="0.18" textLength="28.4" lengthAdjust="spacingAndGlyphs">WT KO</text>
<text x="199.40" y="211.40" font-size="12.5" text-anchor="start" font-weight="bold" fill="#111" stroke="#111" stroke-width="0.45">D</text>
<line x1="239.60" y1="219.80" x2="239.60" y2="308.90" stroke="#111" stroke-width="0.9"/>
<line x1="239.20" y1="308.50" x2="336.00" y2="308.50" stroke="#111" stroke-width="0.9"/>
<line x1="237.40" y1="308.50" x2="239.60" y2="308.50" stroke="#111" stroke-width="0.8"/>
<text x="236.70" y="310.60" font-size="5.8" text-anchor="end" font-weight="bold" fill="#111" stroke="#111" stroke-width="0.18">0</text>
<line x1="237.40" y1="295.94" x2="239.60" y2="295.94" stroke="#111" stroke-width="0.8"/>
<text x="236.70" y="298.04" font-size="5.8" text-anchor="end" font-weight="bold" fill="#111" stroke="#111" stroke-width="0.18">1</text>
<line x1="237.40" y1="283.38" x2="239.60" y2="283.38" stroke="#111" stroke-width="0.8"/>
<text x="236.70" y="285.48" font-size="5.8" text-anchor="end" font-weight="bold" fill="#111" stroke="#111" stroke-width="0.18">2</text>
<line x1="237.40" y1="270.82" x2="239.60" y2="270.82" stroke="#111" stroke-width="0.8"/>
<text x="236.70" y="272.92" font-size="5.8" text-anchor="end" font-weight="bold" fill="#111" stroke="#111" stroke-width="0.18">3</text>
<line x1="237.40" y1="258.26" x2="239.60" y2="258.26" stroke="#111" stroke-width="0.8"/>
<text x="236.70" y="260.36" font-size="5.8" text-anchor="end" font-weight="bold" fill="#111" stroke="#111" stroke-width="0.18">4</text>
<line x1="237.40" y1="245.70" x2="239.60" y2="245.70" stroke="#111" stroke-width="0.8"/>
<text x="236.70" y="247.80" font-size="5.8" text-anchor="end" font-weight="bold" fill="#111" stroke="#111" stroke-width="0.18">5</text>
<line x1="237.40" y1="233.14" x2="239.60" y2="233.14" stroke="#111" stroke-width="0.8"/>
<text x="236.70" y="235.24" font-size="5.8" text-anchor="end" font-weight="bold" fill="#111" stroke="#111" stroke-width="0.18">6</text>
<line x1="237.40" y1="220.58" x2="239.60" y2="220.58" stroke="#111" stroke-width="0.8"/>
<text x="236.70" y="222.68" font-size="5.8" text-anchor="end" font-weight="bold" fill="#111" stroke="#111" stroke-width="0.18">7</text>
<line x1="261.70" y1="308.50" x2="261.70" y2="310.90" stroke="#111" stroke-width="0.8"/>
<line x1="310.80" y1="308.50" x2="310.80" y2="310.90" stroke="#111" stroke-width="0.8"/>
<text x="283.50" y="214.00" font-size="8.3" text-anchor="middle" font-weight="bold" fill="#111" stroke="#111" stroke-width="0.18">HCT116</text>
<line x1="252.00" y1="236.91" x2="252.00" y2="231.26" stroke="#333" stroke-width="0.8"/>
<line x1="249.40" y1="231.26" x2="254.60" y2="231.26" stroke="#333" stroke-width="0.8"/>
<rect x="246.00" y="236.91" width="12.00" height="71.59" fill="#0d0d0d"/>
<line x1="270.75" y1="267.05" x2="270.75" y2="257.00" stroke="#555" stroke-width="0.8"/>
<line x1="268.15" y1="257.00" x2="273.35" y2="257.00" stroke="#555" stroke-width="0.8"/>
<rect x="265.30" y="267.55" width="10.90" height="40.95" fill="#6b52ab" stroke="#2a1a4c" stroke-width="1.0"/>
<line x1="301.30" y1="263.28" x2="301.30" y2="255.75" stroke="#333" stroke-width="0.8"/>
<line x1="298.70" y1="255.75" x2="303.90" y2="255.75" stroke="#333" stroke-width="0.8"/>
<rect x="295.30" y="263.28" width="12.00" height="45.22" fill="#0d0d0d"/>
<line x1="319.65" y1="270.82" x2="319.65" y2="265.80" stroke="#555" stroke-width="0.8"/>
<line x1="317.05" y1="265.80" x2="322.25" y2="265.80" stroke="#555" stroke-width="0.8"/>
<rect x="314.00" y="271.32" width="11.30" height="37.18" fill="#6b52ab" stroke="#2a1a4c" stroke-width="1.0"/>
<path d="M252.1,231.5 L252.1,224.4 L270.6,224.4 L270.6,254.6" fill="none" stroke="#111" stroke-width="0.8"/>
<text x="260.40" y="223.70" font-size="6.6" text-anchor="middle" font-weight="bold" fill="#111" stroke="#111" stroke-width="0.18">**</text>
<text x="261.20" y="321.50" font-size="7.7" text-anchor="middle" font-weight="bold" fill="#111" stroke="#111" stroke-width="0.18">siNT</text>
<text x="310.30" y="321.50" font-size="7.7" text-anchor="middle" font-weight="bold" fill="#111" stroke="#111" stroke-width="0.18">siPOLQ</text>
<line x1="351.20" y1="219.80" x2="351.20" y2="308.90" stroke="#111" stroke-width="0.9"/>
<line x1="350.80" y1="308.50" x2="445.30" y2="308.50" stroke="#111" stroke-width="0.9"/>
<line x1="349.00" y1="308.50" x2="351.20" y2="308.50" stroke="#111" stroke-width="0.8"/>
<text x="348.30" y="310.60" font-size="5.8" text-anchor="end" font-weight="bold" fill="#111" stroke="#111" stroke-width="0.18">0</text>
<line x1="349.00" y1="295.94" x2="351.20" y2="295.94" stroke="#111" stroke-width="0.8"/>
<text x="348.30" y="298.04" font-size="5.8" text-anchor="end" font-weight="bold" fill="#111" stroke="#111" stroke-width="0.18">1</text>
<line x1="349.00" y1="283.38" x2="351.20" y2="283.38" stroke="#111" stroke-width="0.8"/>
<text x="348.30" y="285.48" font-size="5.8" text-anchor="end" font-weight="bold" fill="#111" stroke="#111" stroke-width="0.18">2</text>
<line x1="349.00" y1="270.82" x2="351.20" y2="270.82" stroke="#111" stroke-width="0.8"/>
<text x="348.30" y="272.92" font-size="5.8" text-anchor="end" font-weight="bold" fill="#111" stroke="#111" stroke-width="0.18">3</text>
<line x1="349.00" y1="258.26" x2="351.20" y2="258.26" stroke="#111" stroke-width="0.8"/>
<text x="348.30" y="260.36" font-size="5.8" text-anchor="end" font-weight="bold" fill="#111" stroke="#111" stroke-width="0.18">4</text>
<line x1="349.00" y1="245.70" x2="351.20" y2="245.70" stroke="#111" stroke-width="0.8"/>
<text x="348.30" y="247.80" font-size="5.8" text-anchor="end" font-weight="bold" fill="#111" stroke="#111" stroke-width="0.18">5</text>
<line x1="349.00" y1="233.14" x2="351.20" y2="233.14" stroke="#111" stroke-width="0.8"/>
<text x="348.30" y="235.24" font-size="5.8" text-anchor="end" font-weight="bold" fill="#111" stroke="#111" stroke-width="0.18">6</text>
<line x1="349.00" y1="220.58" x2="351.20" y2="220.58" stroke="#111" stroke-width="0.8"/>
<text x="348.30" y="222.68" font-size="5.8" text-anchor="end" font-weight="bold" fill="#111" stroke="#111" stroke-width="0.18">7</text>
<line x1="374.00" y1="308.50" x2="374.00" y2="310.90" stroke="#111" stroke-width="0.8"/>
<line x1="423.20" y1="308.50" x2="423.20" y2="310.90" stroke="#111" stroke-width="0.8"/>
<text x="401.50" y="214.00" font-size="8.3" text-anchor="middle" font-weight="bold" fill="#111" stroke="#111" stroke-width="0.18">H460</text>
<line x1="364.90" y1="254.49" x2="364.90" y2="234.40" stroke="#333" stroke-width="0.8"/>
<line x1="362.30" y1="234.40" x2="367.50" y2="234.40" stroke="#333" stroke-width="0.8"/>
<rect x="358.80" y="254.49" width="12.20" height="54.01" fill="#0d0d0d"/>
<line x1="383.40" y1="292.17" x2="383.40" y2="283.38" stroke="#555" stroke-width="0.8"/>
<line x1="380.80" y1="283.38" x2="386.00" y2="283.38" stroke="#555" stroke-width="0.8"/>
<rect x="377.80" y="292.67" width="11.20" height="15.83" fill="#6b52ab" stroke="#2a1a4c" stroke-width="1.0"/>
<line x1="414.00" y1="297.20" x2="414.00" y2="297.20" stroke="#333" stroke-width="0.8"/>
<line x1="411.40" y1="297.20" x2="416.60" y2="297.20" stroke="#333" stroke-width="0.8"/>
<rect x="408.00" y="297.20" width="12.00" height="11.30" fill="#0d0d0d"/>
<line x1="432.50" y1="299.71" x2="432.50" y2="294.31" stroke="#555" stroke-width="0.8"/>
<line x1="429.90" y1="294.31" x2="435.10" y2="294.31" stroke="#555" stroke-width="0.8"/>
<rect x="427.00" y="300.21" width="11.00" height="8.29" fill="#6b52ab" stroke="#2a1a4c" stroke-width="1.0"/>
<path d="M364.6,232.5 L364.6,224.2 L383.5,224.2 L383.5,279.6" fill="none" stroke="#111" stroke-width="0.8"/>
<text x="373.40" y="223.70" font-size="6.6" text-anchor="middle" font-weight="bold" fill="#111" stroke="#111" stroke-width="0.18">*</text>
<text x="373.80" y="321.50" font-size="7.7" text-anchor="middle" font-weight="bold" fill="#111" stroke="#111" stroke-width="0.18">siNT</text>
<text x="422.70" y="321.50" font-size="7.7" text-anchor="middle" font-weight="bold" fill="#111" stroke="#111" stroke-width="0.18">siPOLQ</text>
<text x="227.80" y="271.20" font-size="6.75" text-anchor="middle" font-weight="bold" fill="#111" stroke="#111" stroke-width="0.18" transform="rotate(-90 227.8 271.2)">Surviving fraction (%) at 6 Gy</text>
<rect x="396.50" y="237.40" width="10.10" height="4.90" fill="#0d0d0d"/>
<rect x="396.90" y="252.70" width="9.40" height="4.30" fill="#5a479e" stroke="#2a1a4c" stroke-width="1.0"/>
<text x="409.60" y="242.40" font-size="7.5" text-anchor="start" font-weight="bold" fill="#111" stroke="#111" stroke-width="0.18">DMSO</text>
<text x="409.60" y="257.70" font-size="7.5" text-anchor="start" font-weight="bold" fill="#111" stroke="#111" stroke-width="0.18">3 µmolL ART558</text>
<defs><linearGradient id="bg5" x1="0" y1="0" x2="0" y2="1"><stop offset="0" stop-color="#cbcbcb"/><stop offset="1" stop-color="#c2c2c2"/></linearGradient><clipPath id="cp5"><rect x="267.50" y="329.70" width="33.60" height="22.40"/></clipPath><filter id="bf5" x="-30%" y="-80%" width="160%" height="260%"><feGaussianBlur stdDeviation="0.8"/></filter></defs>
<g clip-path="url(#cp5)"><rect x="267.50" y="329.70" width="33.60" height="22.40" fill="url(#bg5)"/>
<g filter="url(#bf5)">
<path d="M268.50,338.10 L282.00,338.10 L282.00,342.30 L268.50,342.30 Z" fill="#151515" opacity="0.95"/>
<path d="M268.50,332.40 L282.00,332.40 L282.00,334.80 L268.50,334.80 Z" fill="#666" opacity="0.7"/>
<path d="M268.50,346.00 L282.00,346.00 L282.00,348.60 L268.50,348.60 Z" fill="#666" opacity="0.7"/>
<path d="M284.50,332.40 L300.50,332.40 L300.50,334.80 L284.50,334.80 Z" fill="#777" opacity="0.6"/>
<path d="M284.50,339.25 L300.50,339.25 L300.50,341.75 L284.50,341.75 Z" fill="#999" opacity="0.5"/>
<path d="M284.50,346.00 L300.50,346.00 L300.50,348.60 L284.50,348.60 Z" fill="#777" opacity="0.6"/>
<path d="M282.20,310.00 L284.20,332.00 L284.20,372.00 L282.20,350.00 Z" fill="#e2e2e2" opacity="0.8"/>
<path d="M298.00,310.00 L300.00,332.00 L300.00,372.00 L298.00,350.00 Z" fill="#888" opacity="0.4"/>
</g></g>
<defs><linearGradient id="bg6" x1="0" y1="0" x2="0" y2="1"><stop offset="0" stop-color="#d6d6d6"/><stop offset="1" stop-color="#a0a0a0"/></linearGradient><clipPath id="cp6"><rect x="267.50" y="353.60" width="33.60" height="13.80"/></clipPath><filter id="bf6" x="-30%" y="-80%" width="160%" height="260%"><feGaussianBlur stdDeviation="0.9"/></filter></defs>
<g clip-path="url(#cp6)"><rect x="267.50" y="353.60" width="33.60" height="13.80" fill="url(#bg6)"/>
<g filter="url(#bf6)">
<path d="M267.80,358.60 L300.80,358.60 L300.80,366.00 L267.80,366.00 Z" fill="#111" opacity="1.0"/>
</g></g>
<text x="235.90" y="347.80" font-size="7.4" text-anchor="start" font-weight="bold" fill="#111" stroke="#111" stroke-width="0.18" textLength="24.8" lengthAdjust="spacingAndGlyphs">268 KDa</text>
<line x1="262.80" y1="345.50" x2="266.20" y2="345.50" stroke="#111" stroke-width="1.2"/>
<text x="303.60" y="343.60" font-size="8.2" text-anchor="start" font-weight="bold" fill="#111" stroke="#111" stroke-width="0.18" textLength="15.5" lengthAdjust="spacingAndGlyphs">Polθ</text>
<text x="303.60" y="365.20" font-size="8.2" text-anchor="start" font-weight="bold" fill="#111" stroke="#111" stroke-width="0.18" textLength="30.5" lengthAdjust="spacingAndGlyphs">Vinculin</text>
<text x="262.20" y="377.60" font-size="8.6" text-anchor="start" font-weight="bold" fill="#111" stroke="#111" stroke-width="0.18" textLength="46.5" lengthAdjust="spacingAndGlyphs">siNT siPOLQ</text>
<defs><linearGradient id="bg7" x1="0" y1="0" x2="0" y2="1"><stop offset="0" stop-color="#d2d2d2"/><stop offset="1" stop-color="#c8c8c8"/></linearGradient><clipPath id="cp7"><rect x="382.00" y="330.00" width="33.80" height="22.20"/></clipPath><filter id="bf7" x="-30%" y="-80%" width="160%" height="260%"><feGaussianBlur stdDeviation="0.8"/></filter></defs>
<g clip-path="url(#cp7)"><rect x="382.00" y="330.00" width="33.80" height="22.20" fill="url(#bg7)"/>
<g filter="url(#bf7)">
<path d="M383.50,339.10 L396.50,339.10 L396.50,343.30 L383.50,343.30 Z" fill="#222" opacity="0.95"/>
<path d="M383.50,346.70 L396.50,346.70 L396.50,349.30 L383.50,349.30 Z" fill="#888" opacity="0.7"/>
<path d="M399.50,339.80 L414.50,339.80 L414.50,342.80 L399.50,342.80 Z" fill="#777" opacity="0.7"/>
<path d="M399.50,347.00 L414.50,347.00 L414.50,349.00 L399.50,349.00 Z" fill="#aaa" opacity="0.5"/>
<path d="M410.50,346.50 L412.50,346.50 L412.50,348.50 L410.50,348.50 Z" fill="#666" opacity="0.6"/>
</g></g>
<defs><linearGradient id="bg8" x1="0" y1="0" x2="0" y2="1"><stop offset="0" stop-color="#d8d8d8"/><stop offset="1" stop-color="#a8a8a8"/></linearGradient><clipPath id="cp8"><rect x="382.00" y="354.00" width="33.80" height="14.20"/></clipPath><filter id="bf8" x="-30%" y="-80%" width="160%" height="260%"><feGaussianBlur stdDeviation="0.9"/></filter></defs>
<g clip-path="url(#cp8)"><rect x="382.00" y="354.00" width="33.80" height="14.20" fill="url(#bg8)"/>
<g filter="url(#bf8)">
<path d="M382.80,357.90 L415.00,357.50 L415.00,364.90 L382.80,365.30 Z" fill="#0e0e0e" opacity="1.0"/>
</g></g>
<text x="351.50" y="347.80" font-size="7.4" text-anchor="start" font-weight="bold" fill="#111" stroke="#111" stroke-width="0.18" textLength="24.6" lengthAdjust="spacingAndGlyphs">268 KDa</text>
<line x1="378.20" y1="345.40" x2="381.60" y2="345.40" stroke="#111" stroke-width="1.2"/>
<text x="417.60" y="344.30" font-size="8.2" text-anchor="start" font-weight="bold" fill="#111" stroke="#111" stroke-width="0.18" textLength="15.5" lengthAdjust="spacingAndGlyphs">Polθ</text>
<text x="417.60" y="364.90" font-size="8.2" text-anchor="start" font-weight="bold" fill="#111" stroke="#111" stroke-width="0.18" textLength="31.0" lengthAdjust="spacingAndGlyphs">Vinculin</text>
<text x="376.50" y="377.60" font-size="8.6" text-anchor="start" font-weight="bold" fill="#111" stroke="#111" stroke-width="0.18" textLength="46.8" lengthAdjust="spacingAndGlyphs">siNT siPOLQ</text>
<text x="87.80" y="407.60" font-size="12.5" text-anchor="start" font-weight="bold" fill="#111" stroke="#111" stroke-width="0.45">E</text>
<line x1="132.90" y1="406.80" x2="132.90" y2="495.55" stroke="#111" stroke-width="0.9"/>
<line x1="132.50" y1="495.15" x2="244.85" y2="495.15" stroke="#111" stroke-width="0.9"/>
<line x1="130.90" y1="408.00" x2="132.90" y2="408.00" stroke="#111" stroke-width="0.8"/>
<text x="130.30" y="409.80" font-size="5.0" text-anchor="end" font-weight="bold" fill="#111" stroke="#111" stroke-width="0.18">1</text>
<line x1="130.90" y1="437.05" x2="132.90" y2="437.05" stroke="#111" stroke-width="0.8"/>
<text x="130.30" y="438.85" font-size="5.0" text-anchor="end" font-weight="bold" fill="#111" stroke="#111" stroke-width="0.18">0.1</text>
<line x1="130.90" y1="466.10" x2="132.90" y2="466.10" stroke="#111" stroke-width="0.8"/>
<text x="130.30" y="467.90" font-size="5.0" text-anchor="end" font-weight="bold" fill="#111" stroke="#111" stroke-width="0.18">0.01</text>
<line x1="130.90" y1="495.15" x2="132.90" y2="495.15" stroke="#111" stroke-width="0.8"/>
<text x="130.30" y="496.95" font-size="5.0" text-anchor="end" font-weight="bold" fill="#111" stroke="#111" stroke-width="0.18">0.001</text>
<line x1="132.90" y1="495.15" x2="132.90" y2="496.95" stroke="#111" stroke-width="0.8"/>
<text x="132.90" y="503.75" font-size="5.6" text-anchor="middle" font-weight="bold" fill="#111" stroke="#111" stroke-width="0.18">0</text>
<line x1="155.05" y1="495.15" x2="155.05" y2="496.95" stroke="#111" stroke-width="0.8"/>
<text x="155.05" y="503.75" font-size="5.6" text-anchor="middle" font-weight="bold" fill="#111" stroke="#111" stroke-width="0.18">1</text>
<line x1="177.20" y1="495.15" x2="177.20" y2="496.95" stroke="#111" stroke-width="0.8"/>
<text x="177.20" y="503.75" font-size="5.6" text-anchor="middle" font-weight="bold" fill="#111" stroke="#111" stroke-width="0.18">2</text>
<line x1="199.35" y1="495.15" x2="199.35" y2="496.95" stroke="#111" stroke-width="0.8"/>
<text x="199.35" y="503.75" font-size="5.6" text-anchor="middle" font-weight="bold" fill="#111" stroke="#111" stroke-width="0.18">3</text>
<line x1="221.50" y1="495.15" x2="221.50" y2="496.95" stroke="#111" stroke-width="0.8"/>
<text x="221.50" y="503.75" font-size="5.6" text-anchor="middle" font-weight="bold" fill="#111" stroke="#111" stroke-width="0.18">4</text>
<line x1="243.65" y1="495.15" x2="243.65" y2="496.95" stroke="#111" stroke-width="0.8"/>
<text x="243.65" y="503.75" font-size="5.6" text-anchor="middle" font-weight="bold" fill="#111" stroke="#111" stroke-width="0.18">5</text>
<text x="188.28" y="513.75" font-size="7.0" text-anchor="middle" font-weight="bold" fill="#111" stroke="#111" stroke-width="0.18">Number of 2 Gy fractions</text>
<text x="112.80" y="452.70" font-size="7.0" text-anchor="middle" font-weight="bold" fill="#111" stroke="#111" stroke-width="0.18" transform="rotate(-90 112.8 452.7)">Surviving fraction</text>
<text x="190.80" y="406.40" font-size="8.2" text-anchor="middle" font-weight="bold" fill="#111" stroke="#111" stroke-width="0.18">HCT116</text>
<line x1="132.90" y1="408.00" x2="243.65" y2="450.00" stroke="#0d0d0d" stroke-width="1.1"/>
<line x1="132.90" y1="408.00" x2="243.65" y2="477.30" stroke="#4e4699" stroke-width="1.0"/>
<line x1="177.20" y1="426.50" x2="177.20" y2="430.50" stroke="#0d0d0d" stroke-width="0.7"/>
<line x1="175.90" y1="426.50" x2="178.50" y2="426.50" stroke="#0d0d0d" stroke-width="0.7"/>
<line x1="175.90" y1="430.50" x2="178.50" y2="430.50" stroke="#0d0d0d" stroke-width="0.7"/>
<line x1="199.35" y1="432.00" x2="199.35" y2="437.00" stroke="#0d0d0d" stroke-width="0.7"/>
<line x1="198.05" y1="432.00" x2="200.65" y2="432.00" stroke="#0d0d0d" stroke-width="0.7"/>
<line x1="198.05" y1="437.00" x2="200.65" y2="437.00" stroke="#0d0d0d" stroke-width="0.7"/>
<line x1="243.65" y1="443.00" x2="243.65" y2="448.00" stroke="#0d0d0d" stroke-width="0.7"/>
<line x1="242.35" y1="443.00" x2="244.95" y2="443.00" stroke="#0d0d0d" stroke-width="0.7"/>
<line x1="242.35" y1="448.00" x2="244.95" y2="448.00" stroke="#0d0d0d" stroke-width="0.7"/>
<line x1="155.05" y1="421.50" x2="155.05" y2="426.00" stroke="#4e4699" stroke-width="0.7"/>
<line x1="153.75" y1="421.50" x2="156.35" y2="421.50" stroke="#4e4699" stroke-width="0.7"/>
<line x1="153.75" y1="426.00" x2="156.35" y2="426.00" stroke="#4e4699" stroke-width="0.7"/>
<line x1="199.35" y1="451.00" x2="199.35" y2="458.50" stroke="#4e4699" stroke-width="0.7"/>
<line x1="198.05" y1="451.00" x2="200.65" y2="451.00" stroke="#4e4699" stroke-width="0.7"/>
<line x1="198.05" y1="458.50" x2="200.65" y2="458.50" stroke="#4e4699" stroke-width="0.7"/>
<line x1="243.65" y1="469.00" x2="243.65" y2="486.50" stroke="#4e4699" stroke-width="0.7"/>
<line x1="242.35" y1="469.00" x2="244.95" y2="469.00" stroke="#4e4699" stroke-width="0.7"/>
<line x1="242.35" y1="486.50" x2="244.95" y2="486.50" stroke="#4e4699" stroke-width="0.7"/>
<circle cx="132.90" cy="408.00" r="1.40" fill="#0d0d0d"/>
<circle cx="155.05" cy="419.50" r="1.50" fill="#0d0d0d"/>
<circle cx="177.20" cy="428.60" r="1.50" fill="#0d0d0d"/>
<circle cx="199.35" cy="434.30" r="1.50" fill="#0d0d0d"/>
<circle cx="221.50" cy="442.50" r="1.50" fill="#0d0d0d"/>
<circle cx="243.65" cy="446.20" r="1.50" fill="#0d0d0d"/>
<circle cx="155.05" cy="423.80" r="1.40" fill="#5a52a6"/>
<circle cx="177.20" cy="439.30" r="1.40" fill="#5a52a6"/>
<circle cx="199.35" cy="455.00" r="1.40" fill="#5a52a6"/>
<circle cx="221.50" cy="462.00" r="1.40" fill="#5a52a6"/>
<circle cx="243.65" cy="475.00" r="1.40" fill="#5a52a6"/>
<text x="155.05" y="432.00" font-size="5.0" text-anchor="middle" font-weight="bold" fill="#4e4699" stroke="#4e4699" stroke-width="0.18">*</text>
<text x="177.20" y="447.80" font-size="5.0" text-anchor="middle" font-weight="bold" fill="#4e4699" stroke="#4e4699" stroke-width="0.18">* *</text>
<text x="199.35" y="465.00" font-size="5.0" text-anchor="middle" font-weight="bold" fill="#4e4699" stroke="#4e4699" stroke-width="0.18">* *</text>
<text x="221.50" y="474.00" font-size="5.0" text-anchor="middle" font-weight="bold" fill="#4e4699" stroke="#4e4699" stroke-width="0.18">* * *</text>
<text x="243.65" y="491.50" font-size="5.0" text-anchor="middle" font-weight="bold" fill="#4e4699" stroke="#4e4699" stroke-width="0.18">* *</text>
<circle cx="143.40" cy="474.30" r="1.40" fill="#0d0d0d"/>
<text x="147.20" y="476.20" font-size="6.2" text-anchor="start" font-weight="bold" fill="#111" stroke="#111" stroke-width="0.18">DMSO</text>
<circle cx="143.40" cy="484.40" r="1.40" fill="#5a52a6"/>
<text x="147.20" y="486.40" font-size="6.2" text-anchor="start" font-weight="bold" fill="#111" stroke="#111" stroke-width="0.18" textLength="88.5" lengthAdjust="spacingAndGlyphs">3 µmol/L ART558 SER10 = 1.67</text>
<line x1="282.30" y1="406.80" x2="282.30" y2="495.55" stroke="#111" stroke-width="0.9"/>
<line x1="281.90" y1="495.15" x2="394.25" y2="495.15" stroke="#111" stroke-width="0.9"/>
<line x1="280.30" y1="408.00" x2="282.30" y2="408.00" stroke="#111" stroke-width="0.8"/>
<text x="279.70" y="409.80" font-size="5.0" text-anchor="end" font-weight="bold" fill="#111" stroke="#111" stroke-width="0.18">1</text>
<line x1="280.30" y1="437.05" x2="282.30" y2="437.05" stroke="#111" stroke-width="0.8"/>
<text x="279.70" y="438.85" font-size="5.0" text-anchor="end" font-weight="bold" fill="#111" stroke="#111" stroke-width="0.18">0.1</text>
<line x1="280.30" y1="466.10" x2="282.30" y2="466.10" stroke="#111" stroke-width="0.8"/>
<text x="279.70" y="467.90" font-size="5.0" text-anchor="end" font-weight="bold" fill="#111" stroke="#111" stroke-width="0.18">0.01</text>
<line x1="280.30" y1="495.15" x2="282.30" y2="495.15" stroke="#111" stroke-width="0.8"/>
<text x="279.70" y="496.95" font-size="5.0" text-anchor="end" font-weight="bold" fill="#111" stroke="#111" stroke-width="0.18">0.001</text>
<line x1="282.30" y1="495.15" x2="282.30" y2="496.95" stroke="#111" stroke-width="0.8"/>
<text x="282.30" y="503.75" font-size="5.6" text-anchor="middle" font-weight="bold" fill="#111" stroke="#111" stroke-width="0.18">0</text>
<line x1="304.45" y1="495.15" x2="304.45" y2="496.95" stroke="#111" stroke-width="0.8"/>
<text x="304.45" y="503.75" font-size="5.6" text-anchor="middle" font-weight="bold" fill="#111" stroke="#111" stroke-width="0.18">1</text>
<line x1="326.60" y1="495.15" x2="326.60" y2="496.95" stroke="#111" stroke-width="0.8"/>
<text x="326.60" y="503.75" font-size="5.6" text-anchor="middle" font-weight="bold" fill="#111" stroke="#111" stroke-width="0.18">2</text>
<line x1="348.75" y1="495.15" x2="348.75" y2="496.95" stroke="#111" stroke-width="0.8"/>
<text x="348.75" y="503.75" font-size="5.6" text-anchor="middle" font-weight="bold" fill="#111" stroke="#111" stroke-width="0.18">3</text>
<line x1="370.90" y1="495.15" x2="370.90" y2="496.95" stroke="#111" stroke-width="0.8"/>
<text x="370.90" y="503.75" font-size="5.6" text-anchor="middle" font-weight="bold" fill="#111" stroke="#111" stroke-width="0.18">4</text>
<line x1="393.05" y1="495.15" x2="393.05" y2="496.95" stroke="#111" stroke-width="0.8"/>
<text x="393.05" y="503.75" font-size="5.6" text-anchor="middle" font-weight="bold" fill="#111" stroke="#111" stroke-width="0.18">5</text>
<text x="337.68" y="513.75" font-size="7.0" text-anchor="middle" font-weight="bold" fill="#111" stroke="#111" stroke-width="0.18">Number of 2 Gy fractions</text>
<text x="262.10" y="452.70" font-size="7.0" text-anchor="middle" font-weight="bold" fill="#111" stroke="#111" stroke-width="0.18" transform="rotate(-90 262.1 452.7)">Surviving fraction</text>
<text x="338.00" y="406.40" font-size="8.2" text-anchor="middle" font-weight="bold" fill="#111" stroke="#111" stroke-width="0.18">H460</text>
<line x1="282.30" y1="408.00" x2="393.05" y2="447.40" stroke="#0d0d0d" stroke-width="1.1"/>
<line x1="282.30" y1="408.00" x2="393.05" y2="482.20" stroke="#4e4699" stroke-width="1.0"/>
<line x1="370.90" y1="438.50" x2="370.90" y2="442.00" stroke="#0d0d0d" stroke-width="0.7"/>
<line x1="369.60" y1="438.50" x2="372.20" y2="438.50" stroke="#0d0d0d" stroke-width="0.7"/>
<line x1="369.60" y1="442.00" x2="372.20" y2="442.00" stroke="#0d0d0d" stroke-width="0.7"/>
<line x1="326.60" y1="430.00" x2="326.60" y2="436.50" stroke="#4e4699" stroke-width="0.7"/>
<line x1="325.30" y1="430.00" x2="327.90" y2="430.00" stroke="#4e4699" stroke-width="0.7"/>
<line x1="325.30" y1="436.50" x2="327.90" y2="436.50" stroke="#4e4699" stroke-width="0.7"/>
<line x1="348.75" y1="449.80" x2="348.75" y2="462.80" stroke="#4e4699" stroke-width="0.7"/>
<line x1="347.45" y1="449.80" x2="350.05" y2="449.80" stroke="#4e4699" stroke-width="0.7"/>
<line x1="347.45" y1="462.80" x2="350.05" y2="462.80" stroke="#4e4699" stroke-width="0.7"/>
<line x1="370.90" y1="467.50" x2="370.90" y2="474.00" stroke="#4e4699" stroke-width="0.7"/>
<line x1="369.60" y1="467.50" x2="372.20" y2="467.50" stroke="#4e4699" stroke-width="0.7"/>
<line x1="369.60" y1="474.00" x2="372.20" y2="474.00" stroke="#4e4699" stroke-width="0.7"/>
<line x1="393.05" y1="477.50" x2="393.05" y2="485.50" stroke="#4e4699" stroke-width="0.7"/>
<line x1="391.75" y1="477.50" x2="394.35" y2="477.50" stroke="#4e4699" stroke-width="0.7"/>
<line x1="391.75" y1="485.50" x2="394.35" y2="485.50" stroke="#4e4699" stroke-width="0.7"/>
<circle cx="282.30" cy="408.00" r="1.40" fill="#0d0d0d"/>
<circle cx="304.45" cy="419.50" r="1.50" fill="#0d0d0d"/>
<circle cx="326.60" cy="426.20" r="1.50" fill="#0d0d0d"/>
<circle cx="348.75" cy="432.50" r="1.50" fill="#0d0d0d"/>
<circle cx="370.90" cy="440.30" r="1.50" fill="#0d0d0d"/>
<circle cx="393.05" cy="447.80" r="1.50" fill="#0d0d0d"/>
<circle cx="304.45" cy="423.00" r="1.40" fill="#5a52a6"/>
<circle cx="326.60" cy="433.00" r="1.40" fill="#5a52a6"/>
<circle cx="348.75" cy="455.60" r="1.40" fill="#5a52a6"/>
<circle cx="370.90" cy="470.60" r="1.40" fill="#5a52a6"/>
<circle cx="393.05" cy="481.50" r="1.40" fill="#5a52a6"/>
<text x="304.45" y="431.50" font-size="5.0" text-anchor="middle" font-weight="bold" fill="#4e4699" stroke="#4e4699" stroke-width="0.18">*</text>
<text x="326.60" y="448.00" font-size="5.0" text-anchor="middle" font-weight="bold" fill="#4e4699" stroke="#4e4699" stroke-width="0.18">* *</text>
<text x="348.75" y="471.00" font-size="5.0" text-anchor="middle" font-weight="bold" fill="#4e4699" stroke="#4e4699" stroke-width="0.18">* * *</text>
<text x="370.90" y="482.30" font-size="5.0" text-anchor="middle" font-weight="bold" fill="#4e4699" stroke="#4e4699" stroke-width="0.18">* * *</text>
<text x="393.05" y="493.50" font-size="5.0" text-anchor="middle" font-weight="bold" fill="#4e4699" stroke="#4e4699" stroke-width="0.18">* * * *</text>
<circle cx="292.80" cy="474.30" r="1.40" fill="#0d0d0d"/>
<text x="296.60" y="476.20" font-size="6.2" text-anchor="start" font-weight="bold" fill="#111" stroke="#111" stroke-width="0.18">DMSO</text>
<circle cx="292.80" cy="484.40" r="1.40" fill="#5a52a6"/>
<text x="296.60" y="486.40" font-size="6.2" text-anchor="start" font-weight="bold" fill="#111" stroke="#111" stroke-width="0.18" textLength="87.6" lengthAdjust="spacingAndGlyphs">3 µmol/L ART558 SER10 = 1.86</text>
<text x="20.80" y="546.30" font-size="12.2" text-anchor="start" font-weight="bold" fill="#111" stroke="#111" stroke-width="0.45">F</text>
<text x="96.60" y="548.70" font-size="9.2" text-anchor="middle" font-weight="bold" fill="#111" stroke="#111" stroke-width="0.18">Asynchronous</text>
<text x="173.35" y="548.00" font-size="9.2" text-anchor="middle" font-weight="bold" fill="#111" stroke="#111" stroke-width="0.18">DT block</text>
<text x="256.35" y="542.00" font-size="9.2" text-anchor="middle" font-weight="bold" fill="#111" stroke="#111" stroke-width="0.18">DT block</text>
<text x="220.00" y="553.60" font-size="9.2" text-anchor="start" font-weight="bold" fill="#111" stroke="#111" stroke-width="0.18" textLength="76.5" lengthAdjust="spacingAndGlyphs">+ 6 hours release</text>
<text x="71.40" y="570.30" font-size="7.9" font-weight="bold" fill="#111" text-anchor="middle" stroke="#111" stroke-width="0.2">G<tspan font-size="5.0" dy="1.5">1</tspan></text>
<text x="92.50" y="570.30" font-size="7.9" text-anchor="middle" font-weight="bold" fill="#111" stroke="#111" stroke-width="0.18">S</text>
<text x="112.50" y="570.30" font-size="7.9" font-weight="bold" fill="#111" text-anchor="middle" stroke="#111" stroke-width="0.2">G<tspan font-size="5.0" dy="1.5">2</tspan><tspan dy="-1.5">–M</tspan></text>
<text x="155.30" y="569.50" font-size="7.9" font-weight="bold" fill="#111" text-anchor="middle" stroke="#111" stroke-width="0.2">G<tspan font-size="5.0" dy="1.5">1</tspan></text>
<text x="174.40" y="569.50" font-size="7.9" text-anchor="middle" font-weight="bold" fill="#111" stroke="#111" stroke-width="0.18">S</text>
<text x="196.40" y="569.50" font-size="7.9" font-weight="bold" fill="#111" text-anchor="middle" stroke="#111" stroke-width="0.2">G<tspan font-size="5.0" dy="1.5">2</tspan><tspan dy="-1.5">–M</tspan></text>
<text x="236.00" y="570.00" font-size="7.9" font-weight="bold" fill="#111" text-anchor="middle" stroke="#111" stroke-width="0.2">G<tspan font-size="5.0" dy="1.5">1</tspan></text>
<text x="255.50" y="570.00" font-size="7.9" text-anchor="middle" font-weight="bold" fill="#111" stroke="#111" stroke-width="0.18">S</text>
<text x="277.00" y="570.00" font-size="7.9" font-weight="bold" fill="#111" text-anchor="middle" stroke="#111" stroke-width="0.2">G<tspan font-size="5.0" dy="1.5">2</tspan><tspan dy="-1.5">–M</tspan></text>
<line x1="46.50" y1="650.00" x2="46.50" y2="600.50" stroke="#333" stroke-width="0.9"/>
<path d="M44.2,602.0 L46.5,596.8 L48.8,602.0 Z" fill="#111" stroke="none" stroke-width="0.8"/>
<text x="39.20" y="624.50" font-size="8.2" text-anchor="middle" font-weight="bold" fill="#111" stroke="#111" stroke-width="0.18" transform="rotate(-90 39.2 624.5)">Cell  frequency</text>
<line x1="56.20" y1="709.30" x2="106.50" y2="709.30" stroke="#333" stroke-width="0.9"/>
<path d="M105.5,707.0 L111.0,709.3 L105.5,711.6 Z" fill="#111" stroke="none" stroke-width="0.8"/>
<text x="80.00" y="720.30" font-size="8.1" text-anchor="middle" font-weight="bold" fill="#111" stroke="#111" stroke-width="0.18">DNA content</text>
<text x="18.80" y="689.80" font-size="6.0" text-anchor="start" font-weight="bold" fill="#111" stroke="#111" stroke-width="0.18" textLength="13.6" lengthAdjust="spacingAndGlyphs">% of</text>
<text x="19.20" y="698.40" font-size="6.0" text-anchor="start" font-weight="bold" fill="#111" stroke="#111" stroke-width="0.18" textLength="13.0" lengthAdjust="spacingAndGlyphs">cells</text>
<line x1="33.30" y1="682.80" x2="33.30" y2="701.00" stroke="#111" stroke-width="1.0"/>
<text x="35.80" y="690.40" font-size="7.0" text-anchor="start" font-weight="bold" fill="#111" stroke="#111" stroke-width="0.18" textLength="21.5" lengthAdjust="spacingAndGlyphs">DMSO</text>
<text x="35.80" y="699.80" font-size="7.0" text-anchor="start" font-weight="bold" fill="#111" stroke="#111" stroke-width="0.18" textLength="26.1" lengthAdjust="spacingAndGlyphs">ART558</text>
<text x="72.80" y="690.40" font-size="7.0" text-anchor="middle" font-weight="bold" fill="#222" stroke="#222" stroke-width="0.18">66.3</text>
<text x="72.80" y="700.00" font-size="7.0" text-anchor="middle" font-weight="bold" fill="#222" stroke="#222" stroke-width="0.18">66.4</text>
<text x="93.00" y="690.40" font-size="7.0" text-anchor="middle" font-weight="bold" fill="#222" stroke="#222" stroke-width="0.18">15.9</text>
<text x="93.00" y="700.00" font-size="7.0" text-anchor="middle" font-weight="bold" fill="#222" stroke="#222" stroke-width="0.18">16.0</text>
<text x="112.50" y="690.40" font-size="7.0" text-anchor="middle" font-weight="bold" fill="#222" stroke="#222" stroke-width="0.18">17.3</text>
<text x="112.50" y="700.00" font-size="7.0" text-anchor="middle" font-weight="bold" fill="#222" stroke="#222" stroke-width="0.18">17.0</text>
<text x="155.70" y="689.10" font-size="7.0" text-anchor="middle" font-weight="bold" fill="#222" stroke="#222" stroke-width="0.18">85.3</text>
<text x="155.70" y="700.80" font-size="7.0" text-anchor="middle" font-weight="bold" fill="#222" stroke="#222" stroke-width="0.18">86.3</text>
<text x="175.80" y="689.10" font-size="7.0" text-anchor="middle" font-weight="bold" fill="#222" stroke="#222" stroke-width="0.18">11.2</text>
<text x="175.80" y="700.80" font-size="7.0" text-anchor="middle" font-weight="bold" fill="#222" stroke="#222" stroke-width="0.18">9.7</text>
<text x="194.80" y="689.10" font-size="7.0" text-anchor="middle" font-weight="bold" fill="#222" stroke="#222" stroke-width="0.18">3.4</text>
<text x="194.80" y="700.80" font-size="7.0" text-anchor="middle" font-weight="bold" fill="#222" stroke="#222" stroke-width="0.18">3.8</text>
<text x="237.00" y="689.40" font-size="7.0" text-anchor="middle" font-weight="bold" fill="#222" stroke="#222" stroke-width="0.18">23.5</text>
<text x="237.00" y="700.60" font-size="7.0" text-anchor="middle" font-weight="bold" fill="#222" stroke="#222" stroke-width="0.18">31.6</text>
<text x="257.50" y="689.40" font-size="7.0" text-anchor="middle" font-weight="bold" fill="#222" stroke="#222" stroke-width="0.18">71.9</text>
<text x="257.50" y="700.60" font-size="7.0" text-anchor="middle" font-weight="bold" fill="#222" stroke="#222" stroke-width="0.18">65.3</text>
<text x="276.30" y="689.40" font-size="7.0" text-anchor="middle" font-weight="bold" fill="#222" stroke="#222" stroke-width="0.18">4.0</text>
<text x="276.30" y="700.60" font-size="7.0" text-anchor="middle" font-weight="bold" fill="#222" stroke="#222" stroke-width="0.18">2.8</text>
<line x1="55.70" y1="675.40" x2="131.70" y2="675.40" stroke="#444" stroke-width="0.8"/>
<line x1="55.70" y1="674.80" x2="55.70" y2="677.00" stroke="#444" stroke-width="0.5"/>
<line x1="60.45" y1="674.80" x2="60.45" y2="677.00" stroke="#444" stroke-width="0.5"/>
<line x1="65.20" y1="674.80" x2="65.20" y2="677.00" stroke="#444" stroke-width="0.5"/>
<line x1="69.95" y1="674.80" x2="69.95" y2="677.00" stroke="#444" stroke-width="0.5"/>
<line x1="74.70" y1="674.80" x2="74.70" y2="677.00" stroke="#444" stroke-width="0.5"/>
<line x1="79.45" y1="674.80" x2="79.45" y2="677.00" stroke="#444" stroke-width="0.5"/>
<line x1="84.20" y1="674.80" x2="84.20" y2="677.00" stroke="#444" stroke-width="0.5"/>
<line x1="88.95" y1="674.80" x2="88.95" y2="677.00" stroke="#444" stroke-width="0.5"/>
<line x1="93.70" y1="674.80" x2="93.70" y2="677.00" stroke="#444" stroke-width="0.5"/>
<line x1="98.45" y1="674.80" x2="98.45" y2="677.00" stroke="#444" stroke-width="0.5"/>
<line x1="103.20" y1="674.80" x2="103.20" y2="677.00" stroke="#444" stroke-width="0.5"/>
<line x1="107.95" y1="674.80" x2="107.95" y2="677.00" stroke="#444" stroke-width="0.5"/>
<line x1="112.70" y1="674.80" x2="112.70" y2="677.00" stroke="#444" stroke-width="0.5"/>
<line x1="117.45" y1="674.80" x2="117.45" y2="677.00" stroke="#444" stroke-width="0.5"/>
<line x1="122.20" y1="674.80" x2="122.20" y2="677.00" stroke="#444" stroke-width="0.5"/>
<line x1="126.95" y1="674.80" x2="126.95" y2="677.00" stroke="#444" stroke-width="0.5"/>
<line x1="131.70" y1="674.80" x2="131.70" y2="677.00" stroke="#444" stroke-width="0.5"/>
<path d="M68.50,675.40 L68.50,675.40 C68.78,674.17 69.70,673.90 70.20,668.00 C70.70,662.10 71.12,651.33 71.50,640.00 C71.88,628.67 72.18,610.50 72.50,600.00 C72.82,589.50 73.10,577.67 73.40,577.00 C73.70,576.33 74.03,588.50 74.30,596.00 C74.57,603.50 74.75,614.67 75.00,622.00 C75.25,629.33 75.47,635.67 75.80,640.00 C76.13,644.33 76.55,645.83 77.00,648.00 C77.45,650.17 77.97,651.17 78.50,653.00 C79.03,654.83 79.62,657.17 80.20,659.00 C80.78,660.83 81.45,662.67 82.00,664.00 C82.55,665.33 82.83,666.25 83.50,667.00 C84.17,667.75 84.92,668.17 86.00,668.50 C87.08,668.83 88.67,668.83 90.00,669.00 C91.33,669.17 92.67,669.33 94.00,669.50 C95.33,669.67 96.83,670.08 98.00,670.00 C99.17,669.92 100.17,669.33 101.00,669.00 C101.83,668.67 102.33,668.50 103.00,668.00 C103.67,667.50 104.33,666.67 105.00,666.00 C105.67,665.33 106.33,664.58 107.00,664.00 C107.67,663.42 108.20,662.58 109.00,662.50 C109.80,662.42 111.05,662.75 111.80,663.50 C112.55,664.25 112.80,665.75 113.50,667.00 C114.20,668.25 115.08,669.92 116.00,671.00 C116.92,672.08 118.00,672.77 119.00,673.50 C120.00,674.23 121.50,675.08 122.00,675.40 L122.00,675.40 Z" fill="#f29a9a" stroke="#e8505e" stroke-width="0.9"/>
<path d="M68.50,675.40 L68.50,675.40 C68.75,674.17 69.53,673.90 70.00,668.00 C70.47,662.10 70.90,651.67 71.30,640.00 C71.70,628.33 72.05,608.80 72.40,598.00 C72.75,587.20 73.08,575.87 73.40,575.20 C73.72,574.53 74.03,587.03 74.30,594.00 C74.57,600.97 74.75,610.83 75.00,617.00 C75.25,623.17 75.47,627.17 75.80,631.00 C76.13,634.83 76.55,637.50 77.00,640.00 C77.45,642.50 77.97,643.67 78.50,646.00 C79.03,648.33 79.62,651.42 80.20,654.00 C80.78,656.58 81.45,659.43 82.00,661.50 C82.55,663.57 82.83,665.40 83.50,666.40 C84.17,667.40 85.25,667.48 86.00,667.50 C86.75,667.52 87.33,666.50 88.00,666.50 C88.67,666.50 89.00,667.17 90.00,667.50 C91.00,667.83 92.67,668.33 94.00,668.50 C95.33,668.67 96.83,668.58 98.00,668.50 C99.17,668.42 100.17,668.25 101.00,668.00 C101.83,667.75 102.33,667.50 103.00,667.00 C103.67,666.50 104.33,665.83 105.00,665.00 C105.67,664.17 106.30,662.58 107.00,662.00 C107.70,661.42 108.53,661.25 109.20,661.50 C109.87,661.75 110.28,662.42 111.00,663.50 C111.72,664.58 112.67,666.67 113.50,668.00 C114.33,669.33 115.08,670.58 116.00,671.50 C116.92,672.42 118.00,672.85 119.00,673.50 C120.00,674.15 121.50,675.08 122.00,675.40 L122.00,675.40 Z" fill="#5cc0ea" stroke="#4cb8e4" stroke-width="0.7" fill-opacity="0.62"/>
<line x1="136.60" y1="676.20" x2="213.80" y2="676.20" stroke="#444" stroke-width="0.8"/>
<line x1="136.60" y1="675.60" x2="136.60" y2="677.80" stroke="#444" stroke-width="0.5"/>
<line x1="141.35" y1="675.60" x2="141.35" y2="677.80" stroke="#444" stroke-width="0.5"/>
<line x1="146.10" y1="675.60" x2="146.10" y2="677.80" stroke="#444" stroke-width="0.5"/>
<line x1="150.85" y1="675.60" x2="150.85" y2="677.80" stroke="#444" stroke-width="0.5"/>
<line x1="155.60" y1="675.60" x2="155.60" y2="677.80" stroke="#444" stroke-width="0.5"/>
<line x1="160.35" y1="675.60" x2="160.35" y2="677.80" stroke="#444" stroke-width="0.5"/>
<line x1="165.10" y1="675.60" x2="165.10" y2="677.80" stroke="#444" stroke-width="0.5"/>
<line x1="169.85" y1="675.60" x2="169.85" y2="677.80" stroke="#444" stroke-width="0.5"/>
<line x1="174.60" y1="675.60" x2="174.60" y2="677.80" stroke="#444" stroke-width="0.5"/>
<line x1="179.35" y1="675.60" x2="179.35" y2="677.80" stroke="#444" stroke-width="0.5"/>
<line x1="184.10" y1="675.60" x2="184.10" y2="677.80" stroke="#444" stroke-width="0.5"/>
<line x1="188.85" y1="675.60" x2="188.85" y2="677.80" stroke="#444" stroke-width="0.5"/>
<line x1="193.60" y1="675.60" x2="193.60" y2="677.80" stroke="#444" stroke-width="0.5"/>
<line x1="198.35" y1="675.60" x2="198.35" y2="677.80" stroke="#444" stroke-width="0.5"/>
<line x1="203.10" y1="675.60" x2="203.10" y2="677.80" stroke="#444" stroke-width="0.5"/>
<line x1="207.85" y1="675.60" x2="207.85" y2="677.80" stroke="#444" stroke-width="0.5"/>
<line x1="212.60" y1="675.60" x2="212.60" y2="677.80" stroke="#444" stroke-width="0.5"/>
<path d="M148.50,676.20 L148.50,676.20 C148.68,675.50 149.10,676.37 149.60,672.00 C150.10,667.63 150.90,659.33 151.50,650.00 C152.10,640.67 152.62,626.25 153.20,616.00 C153.78,605.75 154.50,594.25 155.00,588.50 C155.50,582.75 155.82,582.83 156.20,581.50 C156.58,580.17 156.92,580.42 157.30,580.50 C157.68,580.58 157.98,579.92 158.50,582.00 C159.02,584.08 159.82,589.17 160.40,593.00 C160.98,596.83 161.48,601.17 162.00,605.00 C162.52,608.83 163.00,611.00 163.50,616.00 C164.00,621.00 164.62,630.83 165.00,635.00 C165.38,639.17 165.47,638.17 165.80,641.00 C166.13,643.83 166.63,648.70 167.00,652.00 C167.37,655.30 167.50,658.22 168.00,660.80 C168.50,663.38 169.33,665.83 170.00,667.50 C170.67,669.17 171.17,670.13 172.00,670.80 C172.83,671.47 173.87,671.38 175.00,671.50 C176.13,671.62 177.47,671.42 178.80,671.50 C180.13,671.58 181.33,671.95 183.00,672.00 C184.67,672.05 187.13,671.63 188.80,671.80 C190.47,671.97 191.47,672.55 193.00,673.00 C194.53,673.45 196.33,674.08 198.00,674.50 C199.67,674.92 201.83,675.22 203.00,675.50 C204.17,675.78 204.67,676.08 205.00,676.20 L205.00,676.20 Z" fill="#f29a9a" stroke="#e8505e" stroke-width="0.9"/>
<path d="M148.50,676.20 L148.50,676.20 C148.72,675.50 149.28,676.03 149.80,672.00 C150.32,667.97 151.02,660.67 151.60,652.00 C152.18,643.33 152.73,629.50 153.30,620.00 C153.87,610.50 154.52,600.67 155.00,595.00 C155.48,589.33 155.87,587.73 156.20,586.00 C156.53,584.27 156.70,584.60 157.00,584.60 C157.30,584.60 157.58,584.27 158.00,586.00 C158.42,587.73 158.83,590.00 159.50,595.00 C160.17,600.00 161.22,607.33 162.00,616.00 C162.78,624.67 163.57,639.28 164.20,647.00 C164.83,654.72 165.25,658.80 165.80,662.30 C166.35,665.80 166.80,666.63 167.50,668.00 C168.20,669.37 168.75,670.00 170.00,670.50 C171.25,671.00 173.53,670.87 175.00,671.00 C176.47,671.13 177.47,671.10 178.80,671.30 C180.13,671.50 181.33,672.17 183.00,672.20 C184.67,672.23 187.13,671.37 188.80,671.50 C190.47,671.63 191.47,672.50 193.00,673.00 C194.53,673.50 196.33,674.08 198.00,674.50 C199.67,674.92 201.83,675.22 203.00,675.50 C204.17,675.78 204.67,676.08 205.00,676.20 L205.00,676.20 Z" fill="#5cc0ea" stroke="#4cb8e4" stroke-width="0.7" fill-opacity="0.62"/>
<line x1="216.00" y1="676.20" x2="295.50" y2="676.20" stroke="#444" stroke-width="0.8"/>
<line x1="216.00" y1="675.60" x2="216.00" y2="677.80" stroke="#444" stroke-width="0.5"/>
<line x1="220.75" y1="675.60" x2="220.75" y2="677.80" stroke="#444" stroke-width="0.5"/>
<line x1="225.50" y1="675.60" x2="225.50" y2="677.80" stroke="#444" stroke-width="0.5"/>
<line x1="230.25" y1="675.60" x2="230.25" y2="677.80" stroke="#444" stroke-width="0.5"/>
<line x1="235.00" y1="675.60" x2="235.00" y2="677.80" stroke="#444" stroke-width="0.5"/>
<line x1="239.75" y1="675.60" x2="239.75" y2="677.80" stroke="#444" stroke-width="0.5"/>
<line x1="244.50" y1="675.60" x2="244.50" y2="677.80" stroke="#444" stroke-width="0.5"/>
<line x1="249.25" y1="675.60" x2="249.25" y2="677.80" stroke="#444" stroke-width="0.5"/>
<line x1="254.00" y1="675.60" x2="254.00" y2="677.80" stroke="#444" stroke-width="0.5"/>
<line x1="258.75" y1="675.60" x2="258.75" y2="677.80" stroke="#444" stroke-width="0.5"/>
<line x1="263.50" y1="675.60" x2="263.50" y2="677.80" stroke="#444" stroke-width="0.5"/>
<line x1="268.25" y1="675.60" x2="268.25" y2="677.80" stroke="#444" stroke-width="0.5"/>
<line x1="273.00" y1="675.60" x2="273.00" y2="677.80" stroke="#444" stroke-width="0.5"/>
<line x1="277.75" y1="675.60" x2="277.75" y2="677.80" stroke="#444" stroke-width="0.5"/>
<line x1="282.50" y1="675.60" x2="282.50" y2="677.80" stroke="#444" stroke-width="0.5"/>
<line x1="287.25" y1="675.60" x2="287.25" y2="677.80" stroke="#444" stroke-width="0.5"/>
<line x1="292.00" y1="675.60" x2="292.00" y2="677.80" stroke="#444" stroke-width="0.5"/>
<path d="M228.80,676.20 L228.80,676.20 C229.05,674.83 229.78,671.37 230.30,668.00 C230.82,664.63 231.38,659.67 231.90,656.00 C232.42,652.33 232.93,648.50 233.40,646.00 C233.87,643.50 234.27,641.33 234.70,641.00 C235.13,640.67 235.57,642.50 236.00,644.00 C236.43,645.50 236.83,648.00 237.30,650.00 C237.77,652.00 238.28,654.52 238.80,656.00 C239.32,657.48 239.82,658.48 240.40,658.90 C240.98,659.32 241.67,658.98 242.30,658.50 C242.93,658.02 243.62,657.75 244.20,656.00 C244.78,654.25 245.28,651.05 245.80,648.00 C246.32,644.95 246.67,643.03 247.30,637.70 C247.93,632.37 248.95,622.12 249.60,616.00 C250.25,609.88 250.68,604.83 251.20,601.00 C251.72,597.17 252.23,595.50 252.70,593.00 C253.17,590.50 253.57,587.78 254.00,586.00 C254.43,584.22 254.87,582.30 255.30,582.30 C255.73,582.30 256.15,583.95 256.60,586.00 C257.05,588.05 257.37,590.85 258.00,594.60 C258.63,598.35 259.62,602.35 260.40,608.50 C261.18,614.65 261.93,625.08 262.70,631.50 C263.47,637.92 264.37,641.87 265.00,647.00 C265.63,652.13 266.00,659.13 266.50,662.30 C267.00,665.47 267.48,664.97 268.00,666.00 C268.52,667.03 268.68,667.20 269.60,668.50 C270.52,669.80 272.10,672.63 273.50,673.80 C274.90,674.97 276.08,675.10 278.00,675.50 C279.92,675.90 283.83,676.08 285.00,676.20 L285.00,676.20 Z" fill="#f29a9a" stroke="#e8505e" stroke-width="0.9"/>
<path d="M228.80,676.20 L228.80,676.20 C229.05,675.00 229.78,672.03 230.30,669.00 C230.82,665.97 231.38,661.50 231.90,658.00 C232.42,654.50 232.93,650.37 233.40,648.00 C233.87,645.63 234.27,644.13 234.70,643.80 C235.13,643.47 235.57,644.97 236.00,646.00 C236.43,647.03 236.88,649.50 237.30,650.00 C237.72,650.50 238.12,649.50 238.50,649.00 C238.88,648.50 239.10,647.92 239.60,647.00 C240.10,646.08 240.85,644.83 241.50,643.50 C242.15,642.17 242.78,641.75 243.50,639.00 C244.22,636.25 245.22,630.33 245.80,627.00 C246.38,623.67 246.63,622.08 247.00,619.00 C247.37,615.92 247.57,614.10 248.00,608.50 C248.43,602.90 249.15,589.65 249.60,585.40 C250.05,581.15 250.35,583.07 250.70,583.00 C251.05,582.93 251.37,584.33 251.70,585.00 C252.03,585.67 252.35,587.17 252.70,587.00 C253.05,586.83 253.42,584.78 253.80,584.00 C254.18,583.22 254.55,581.80 255.00,582.30 C255.45,582.80 256.00,584.72 256.50,587.00 C257.00,589.28 257.35,591.83 258.00,596.00 C258.65,600.17 259.62,604.67 260.40,612.00 C261.18,619.33 261.93,632.00 262.70,640.00 C263.47,648.00 264.37,655.33 265.00,660.00 C265.63,664.67 265.83,666.08 266.50,668.00 C267.17,669.92 267.92,670.42 269.00,671.50 C270.08,672.58 271.50,673.78 273.00,674.50 C274.50,675.22 276.00,675.52 278.00,675.80 C280.00,676.08 283.83,676.13 285.00,676.20 L285.00,676.20 Z" fill="#5cc0ea" stroke="#4cb8e4" stroke-width="0.7" fill-opacity="0.62"/>
<line x1="64.40" y1="574.00" x2="64.40" y2="703.50" stroke="#5a4440" stroke-width="1.0" stroke-dasharray="3,1.7"/>
<line x1="83.50" y1="574.00" x2="83.50" y2="703.50" stroke="#3a3a3a" stroke-width="1.0" stroke-dasharray="3,1.7"/>
<line x1="102.80" y1="574.00" x2="102.80" y2="703.50" stroke="#3a3a3a" stroke-width="1.0" stroke-dasharray="3,1.7"/>
<line x1="122.70" y1="574.00" x2="122.70" y2="703.50" stroke="#3a3a3a" stroke-width="1.0" stroke-dasharray="3,1.7"/>
<line x1="147.00" y1="573.50" x2="147.00" y2="703.80" stroke="#4a4a4a" stroke-width="1.0" stroke-dasharray="3,1.7"/>
<line x1="165.80" y1="573.50" x2="165.80" y2="703.80" stroke="#4a4a4a" stroke-width="1.0" stroke-dasharray="3,1.7"/>
<line x1="185.00" y1="573.50" x2="185.00" y2="703.80" stroke="#4a4a4a" stroke-width="1.0" stroke-dasharray="3,1.7"/>
<line x1="205.00" y1="573.50" x2="205.00" y2="703.80" stroke="#4a4a4a" stroke-width="1.0" stroke-dasharray="3,1.7"/>
<line x1="227.80" y1="573.50" x2="227.80" y2="703.00" stroke="#3a3a3a" stroke-width="1.0" stroke-dasharray="3,1.7"/>
<line x1="247.00" y1="573.50" x2="247.00" y2="703.00" stroke="#3a3a3a" stroke-width="1.0" stroke-dasharray="3,1.7"/>
<line x1="266.20" y1="573.50" x2="266.20" y2="703.00" stroke="#3a3a3a" stroke-width="1.0" stroke-dasharray="3,1.7"/>
<line x1="285.80" y1="573.50" x2="285.80" y2="703.00" stroke="#3a3a3a" stroke-width="1.0" stroke-dasharray="3,1.7"/>
<rect x="296.30" y="608.00" width="8.00" height="7.50" fill="#f29a9a" stroke="#e8505e" stroke-width="0.9"/>
<rect x="296.30" y="620.00" width="8.00" height="7.20" fill="#8ad3f2" stroke="#4cb8e4" stroke-width="0.9"/>
<text x="307.50" y="614.90" font-size="8.0" text-anchor="start" font-weight="bold" fill="#111" stroke="#111" stroke-width="0.18" textLength="24.5" lengthAdjust="spacingAndGlyphs">DMSO</text>
<text x="307.50" y="626.40" font-size="8.0" text-anchor="start" font-weight="bold" fill="#111" stroke="#111" stroke-width="0.18" textLength="30.0" lengthAdjust="spacingAndGlyphs">ART558</text>
<text x="343.60" y="549.90" font-size="12.5" text-anchor="start" font-weight="bold" fill="#111" stroke="#111" stroke-width="0.45">G</text>
<line x1="400.30" y1="558.20" x2="400.30" y2="665.40" stroke="#111" stroke-width="0.9"/>
<line x1="399.90" y1="665.00" x2="466.90" y2="665.00" stroke="#111" stroke-width="0.9"/>
<line x1="397.90" y1="665.00" x2="400.30" y2="665.00" stroke="#111" stroke-width="0.8"/>
<text x="396.50" y="667.60" font-size="7.4" text-anchor="end" font-weight="bold" fill="#111" stroke="#111" stroke-width="0.18">0</text>
<line x1="397.90" y1="638.50" x2="400.30" y2="638.50" stroke="#111" stroke-width="0.8"/>
<text x="396.50" y="641.10" font-size="7.4" text-anchor="end" font-weight="bold" fill="#111" stroke="#111" stroke-width="0.18">2</text>
<line x1="397.90" y1="612.00" x2="400.30" y2="612.00" stroke="#111" stroke-width="0.8"/>
<text x="396.50" y="614.60" font-size="7.4" text-anchor="end" font-weight="bold" fill="#111" stroke="#111" stroke-width="0.18">4</text>
<line x1="397.90" y1="585.50" x2="400.30" y2="585.50" stroke="#111" stroke-width="0.8"/>
<text x="396.50" y="588.10" font-size="7.4" text-anchor="end" font-weight="bold" fill="#111" stroke="#111" stroke-width="0.18">6</text>
<line x1="397.90" y1="559.00" x2="400.30" y2="559.00" stroke="#111" stroke-width="0.8"/>
<text x="396.50" y="561.60" font-size="7.4" text-anchor="end" font-weight="bold" fill="#111" stroke="#111" stroke-width="0.18">8</text>
<line x1="413.85" y1="665.00" x2="413.85" y2="667.40" stroke="#111" stroke-width="0.8"/>
<line x1="413.85" y1="633.30" x2="413.85" y2="618.70" stroke="#333" stroke-width="0.8"/>
<line x1="411.05" y1="618.70" x2="416.65" y2="618.70" stroke="#333" stroke-width="0.8"/>
<rect x="407.10" y="633.30" width="13.50" height="31.70" fill="#0d0d0d"/>
<line x1="435.15" y1="665.00" x2="435.15" y2="667.40" stroke="#111" stroke-width="0.8"/>
<line x1="435.15" y1="644.70" x2="435.15" y2="628.00" stroke="#333" stroke-width="0.8"/>
<line x1="432.35" y1="628.00" x2="437.95" y2="628.00" stroke="#333" stroke-width="0.8"/>
<rect x="428.40" y="644.70" width="13.50" height="20.30" fill="#0d0d0d"/>
<line x1="456.10" y1="665.00" x2="456.10" y2="667.40" stroke="#111" stroke-width="0.8"/>
<line x1="456.10" y1="591.70" x2="456.10" y2="581.00" stroke="#333" stroke-width="0.8"/>
<line x1="453.30" y1="581.00" x2="458.90" y2="581.00" stroke="#333" stroke-width="0.8"/>
<rect x="449.20" y="591.70" width="13.80" height="73.30" fill="#0d0d0d"/>
<path d="M434.9,614.3 L434.9,569.0 L456.3,569.0 L456.3,574.2" fill="none" stroke="#888" stroke-width="0.9"/>
<text x="446.50" y="568.80" font-size="6.6" text-anchor="middle" font-weight="bold" fill="#111" stroke="#111" stroke-width="0.18" letter-spacing="1.2">**</text>
<text x="378.20" y="609.60" font-size="8.3" text-anchor="middle" font-weight="bold" fill="#111" stroke="#111" stroke-width="0.18" transform="rotate(-90 378.2 609.6)">SF DMSO/SF ART558 (6 Gy)</text>
<text x="416.00" y="678.50" font-size="9.4" text-anchor="end" font-weight="bold" fill="#111" stroke="#111" stroke-width="0.18" transform="rotate(-45 416.0 678.5)">Asynch.</text>
<text x="437.00" y="678.50" font-size="9.4" text-anchor="end" font-weight="bold" fill="#111" stroke="#111" stroke-width="0.18" transform="rotate(-45 437.0 678.5)">DT</text>
<text x="458.00" y="678.50" font-size="9.4" text-anchor="end" font-weight="bold" fill="#111" stroke="#111" stroke-width="0.18" transform="rotate(-45 458.0 678.5)">6 h release</text>
</svg>
</body></html>
